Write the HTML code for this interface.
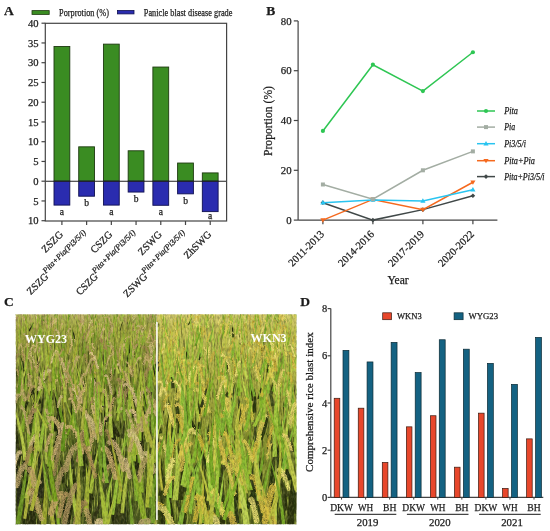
<!DOCTYPE html>
<html><head><meta charset="utf-8"><style>
html,body{margin:0;padding:0;background:#fff;width:550px;height:531px;overflow:hidden}
svg{display:block}
text{font-family:'Liberation Serif', 'Times New Roman', serif;fill:#1c1c1c;stroke:#1c1c1c;stroke-width:0.25px}
</style></head><body>
<svg width="550" height="531" viewBox="0 0 550 531">
<text x="4.0" y="14.7" font-size="13.5" font-weight="bold">A</text>
<rect x="32" y="10.6" width="17.2" height="3.8" fill="#3a8c22" stroke="#1e3a10" stroke-width="0.8"/>
<text x="59.1" y="16" font-size="10.4" textLength="49.8" lengthAdjust="spacingAndGlyphs">Porprotion (%)</text>
<rect x="117.4" y="10.5" width="16.6" height="3.4" fill="#2a2caf" stroke="#101050" stroke-width="0.8"/>
<text x="143.8" y="15.8" font-size="10.4" textLength="88.6" lengthAdjust="spacingAndGlyphs">Panicle blast disease grade</text>
<rect x="54.00" y="46.50" width="15.8" height="134.70" fill="#3a8c22" stroke="#1e3a10" stroke-width="0.9"/>
<rect x="54.00" y="181.20" width="15.8" height="23.90" fill="#2a2caf" stroke="#101050" stroke-width="0.9"/>
<text x="61.90" y="215.4" font-size="9.5" text-anchor="middle">a</text>
<line x1="61.90" y1="221.0" x2="61.90" y2="225.0" stroke="#444" stroke-width="1.2"/>
<rect x="78.72" y="146.83" width="15.8" height="34.37" fill="#3a8c22" stroke="#1e3a10" stroke-width="0.9"/>
<rect x="78.72" y="181.20" width="15.8" height="15.01" fill="#2a2caf" stroke="#101050" stroke-width="0.9"/>
<text x="86.62" y="205.8" font-size="9.5" text-anchor="middle">b</text>
<line x1="86.62" y1="221.0" x2="86.62" y2="225.0" stroke="#444" stroke-width="1.2"/>
<rect x="103.44" y="44.13" width="15.8" height="137.07" fill="#3a8c22" stroke="#1e3a10" stroke-width="0.9"/>
<rect x="103.44" y="181.20" width="15.8" height="23.90" fill="#2a2caf" stroke="#101050" stroke-width="0.9"/>
<text x="111.34" y="215.4" font-size="9.5" text-anchor="middle">a</text>
<line x1="111.34" y1="221.0" x2="111.34" y2="225.0" stroke="#444" stroke-width="1.2"/>
<rect x="128.16" y="150.78" width="15.8" height="30.41" fill="#3a8c22" stroke="#1e3a10" stroke-width="0.9"/>
<rect x="128.16" y="181.20" width="15.8" height="10.86" fill="#2a2caf" stroke="#101050" stroke-width="0.9"/>
<text x="136.06" y="201.7" font-size="9.5" text-anchor="middle">b</text>
<line x1="136.06" y1="221.0" x2="136.06" y2="225.0" stroke="#444" stroke-width="1.2"/>
<rect x="152.88" y="67.04" width="15.8" height="114.16" fill="#3a8c22" stroke="#1e3a10" stroke-width="0.9"/>
<rect x="152.88" y="181.20" width="15.8" height="24.09" fill="#2a2caf" stroke="#101050" stroke-width="0.9"/>
<text x="160.78" y="215.4" font-size="9.5" text-anchor="middle">a</text>
<line x1="160.78" y1="221.0" x2="160.78" y2="225.0" stroke="#444" stroke-width="1.2"/>
<rect x="177.60" y="163.03" width="15.8" height="18.17" fill="#3a8c22" stroke="#1e3a10" stroke-width="0.9"/>
<rect x="177.60" y="181.20" width="15.8" height="12.64" fill="#2a2caf" stroke="#101050" stroke-width="0.9"/>
<text x="185.50" y="204.2" font-size="9.5" text-anchor="middle">b</text>
<line x1="185.50" y1="221.0" x2="185.50" y2="225.0" stroke="#444" stroke-width="1.2"/>
<rect x="202.32" y="172.91" width="15.8" height="8.29" fill="#3a8c22" stroke="#1e3a10" stroke-width="0.9"/>
<rect x="202.32" y="181.20" width="15.8" height="30.42" fill="#2a2caf" stroke="#101050" stroke-width="0.9"/>
<text x="210.22" y="219.4" font-size="9.5" text-anchor="middle">a</text>
<line x1="210.22" y1="221.0" x2="210.22" y2="225.0" stroke="#444" stroke-width="1.2"/>
<line x1="45.3" y1="181.2" x2="226.6" y2="181.2" stroke="#222" stroke-width="1.1"/>
<rect x="45.3" y="23.3" width="181.3" height="197.7" fill="none" stroke="#444" stroke-width="1.2"/>
<line x1="41.5" y1="23.20" x2="45.3" y2="23.20" stroke="#444" stroke-width="1.2"/>
<text x="38.6" y="26.80" font-size="10.6" text-anchor="end">40</text>
<line x1="41.5" y1="42.95" x2="45.3" y2="42.95" stroke="#444" stroke-width="1.2"/>
<text x="38.6" y="46.55" font-size="10.6" text-anchor="end">35</text>
<line x1="41.5" y1="62.70" x2="45.3" y2="62.70" stroke="#444" stroke-width="1.2"/>
<text x="38.6" y="66.30" font-size="10.6" text-anchor="end">30</text>
<line x1="41.5" y1="82.45" x2="45.3" y2="82.45" stroke="#444" stroke-width="1.2"/>
<text x="38.6" y="86.05" font-size="10.6" text-anchor="end">25</text>
<line x1="41.5" y1="102.20" x2="45.3" y2="102.20" stroke="#444" stroke-width="1.2"/>
<text x="38.6" y="105.80" font-size="10.6" text-anchor="end">20</text>
<line x1="41.5" y1="121.95" x2="45.3" y2="121.95" stroke="#444" stroke-width="1.2"/>
<text x="38.6" y="125.55" font-size="10.6" text-anchor="end">15</text>
<line x1="41.5" y1="141.70" x2="45.3" y2="141.70" stroke="#444" stroke-width="1.2"/>
<text x="38.6" y="145.30" font-size="10.6" text-anchor="end">10</text>
<line x1="41.5" y1="161.45" x2="45.3" y2="161.45" stroke="#444" stroke-width="1.2"/>
<text x="38.6" y="165.05" font-size="10.6" text-anchor="end">5</text>
<line x1="41.5" y1="181.20" x2="45.3" y2="181.20" stroke="#444" stroke-width="1.2"/>
<text x="38.6" y="184.80" font-size="10.6" text-anchor="end">0</text>
<line x1="41.5" y1="200.95" x2="45.3" y2="200.95" stroke="#444" stroke-width="1.2"/>
<text x="38.6" y="204.55" font-size="10.6" text-anchor="end">5</text>
<line x1="41.5" y1="220.70" x2="45.3" y2="220.70" stroke="#444" stroke-width="1.2"/>
<text x="38.6" y="224.30" font-size="10.6" text-anchor="end">10</text>
<text x="63.70" y="235.0" font-size="10.3" text-anchor="end" transform="rotate(-45 63.70 235.0)">ZSZG</text>
<text x="89.82" y="236.4" font-size="10.3" text-anchor="end" transform="rotate(-45 89.82 236.4)">ZSZG<tspan font-size="8.1" font-style="italic" dy="-4.8">Pita+Pia(Pi3/5/i)</tspan></text>
<text x="113.14" y="235.0" font-size="10.3" text-anchor="end" transform="rotate(-45 113.14 235.0)">CSZG</text>
<text x="139.26" y="236.4" font-size="10.3" text-anchor="end" transform="rotate(-45 139.26 236.4)">CSZG<tspan font-size="8.1" font-style="italic" dy="-4.8">Pita+Pia(Pi3/5/i)</tspan></text>
<text x="162.58" y="235.0" font-size="10.3" text-anchor="end" transform="rotate(-45 162.58 235.0)">ZSWG</text>
<text x="188.70" y="236.4" font-size="10.3" text-anchor="end" transform="rotate(-45 188.70 236.4)">ZSWG<tspan font-size="8.1" font-style="italic" dy="-4.8">Pita+Pia(Pi3/5/i)</tspan></text>
<text x="212.02" y="235.0" font-size="10.3" text-anchor="end" transform="rotate(-45 212.02 235.0)">ZhSWG</text>
<text x="266.3" y="14.7" font-size="13.5" font-weight="bold">B</text>
<line x1="298.1" y1="20.90" x2="298.1" y2="220.1" stroke="#444" stroke-width="1.2"/>
<line x1="298.1" y1="220.1" x2="497.4" y2="220.1" stroke="#444" stroke-width="1.2"/>
<line x1="293.8" y1="220.10" x2="298.1" y2="220.10" stroke="#444" stroke-width="1.2"/>
<text x="291.6" y="223.80" font-size="10.8" text-anchor="end">0</text>
<line x1="293.8" y1="170.30" x2="298.1" y2="170.30" stroke="#444" stroke-width="1.2"/>
<text x="291.6" y="174.00" font-size="10.8" text-anchor="end">20</text>
<line x1="293.8" y1="120.50" x2="298.1" y2="120.50" stroke="#444" stroke-width="1.2"/>
<text x="291.6" y="124.20" font-size="10.8" text-anchor="end">40</text>
<line x1="293.8" y1="70.70" x2="298.1" y2="70.70" stroke="#444" stroke-width="1.2"/>
<text x="291.6" y="74.40" font-size="10.8" text-anchor="end">60</text>
<line x1="293.8" y1="20.90" x2="298.1" y2="20.90" stroke="#444" stroke-width="1.2"/>
<text x="291.6" y="24.60" font-size="10.8" text-anchor="end">80</text>
<line x1="322.9" y1="220.1" x2="322.9" y2="224.29999999999998" stroke="#444" stroke-width="1.2"/>
<text x="324.7" y="234.7" font-size="10.6" text-anchor="end" transform="rotate(-45 324.7 234.7)">2011-2013</text>
<line x1="372.9" y1="220.1" x2="372.9" y2="224.29999999999998" stroke="#444" stroke-width="1.2"/>
<text x="374.7" y="234.7" font-size="10.6" text-anchor="end" transform="rotate(-45 374.7 234.7)">2014-2016</text>
<line x1="422.9" y1="220.1" x2="422.9" y2="224.29999999999998" stroke="#444" stroke-width="1.2"/>
<text x="424.7" y="234.7" font-size="10.6" text-anchor="end" transform="rotate(-45 424.7 234.7)">2017-2019</text>
<line x1="472.9" y1="220.1" x2="472.9" y2="224.29999999999998" stroke="#444" stroke-width="1.2"/>
<text x="474.7" y="234.7" font-size="10.6" text-anchor="end" transform="rotate(-45 474.7 234.7)">2020-2022</text>
<text x="398" y="283.8" font-size="11.5" text-anchor="middle">Year</text>
<text x="0" y="0" font-size="11.6" text-anchor="middle" transform="translate(271.6 121) rotate(-90)">Proportion (%)</text>
<polyline points="322.90,202.67 372.90,220.10 422.90,209.64 472.90,195.70" fill="none" stroke="#404848" stroke-width="1.5"/>
<polygon points="322.90,200.37 325.20,202.67 322.90,204.97 320.60,202.67" fill="#404848"/>
<polygon points="372.90,217.80 375.20,220.10 372.90,222.40 370.60,220.10" fill="#404848"/>
<polygon points="422.90,207.34 425.20,209.64 422.90,211.94 420.60,209.64" fill="#404848"/>
<polygon points="472.90,193.40 475.20,195.70 472.90,198.00 470.60,195.70" fill="#404848"/>
<polyline points="322.90,220.10 372.90,199.43 422.90,209.64 472.90,182.25" fill="none" stroke="#f5691e" stroke-width="1.5"/>
<polygon points="322.90,222.70 325.50,218.28 320.30,218.28" fill="#f5691e"/>
<polygon points="372.90,202.03 375.50,197.61 370.30,197.61" fill="#f5691e"/>
<polygon points="422.90,212.24 425.50,207.82 420.30,207.82" fill="#f5691e"/>
<polygon points="472.90,184.85 475.50,180.43 470.30,180.43" fill="#f5691e"/>
<polyline points="322.90,202.67 372.90,199.93 422.90,200.93 472.90,189.72" fill="none" stroke="#29c4f0" stroke-width="1.5"/>
<polygon points="322.90,200.07 325.50,204.49 320.30,204.49" fill="#29c4f0"/>
<polygon points="372.90,197.33 375.50,201.75 370.30,201.75" fill="#29c4f0"/>
<polygon points="422.90,198.33 425.50,202.75 420.30,202.75" fill="#29c4f0"/>
<polygon points="472.90,187.12 475.50,191.54 470.30,191.54" fill="#29c4f0"/>
<polyline points="322.90,184.49 372.90,199.18 422.90,170.30 472.90,151.38" fill="none" stroke="#a3ada3" stroke-width="1.5"/>
<rect x="320.90" y="182.49" width="4.00" height="4.00" fill="#a3ada3"/>
<rect x="370.90" y="197.18" width="4.00" height="4.00" fill="#a3ada3"/>
<rect x="420.90" y="168.30" width="4.00" height="4.00" fill="#a3ada3"/>
<rect x="470.90" y="149.38" width="4.00" height="4.00" fill="#a3ada3"/>
<polyline points="322.90,130.96 372.90,64.72 422.90,91.12 472.90,52.27" fill="none" stroke="#2ec653" stroke-width="1.5"/>
<circle cx="322.90" cy="130.96" r="2.10" fill="#2ec653"/>
<circle cx="372.90" cy="64.72" r="2.10" fill="#2ec653"/>
<circle cx="422.90" cy="91.12" r="2.10" fill="#2ec653"/>
<circle cx="472.90" cy="52.27" r="2.10" fill="#2ec653"/>
<line x1="477" y1="111" x2="495" y2="111" stroke="#2ec653" stroke-width="1.5"/>
<circle cx="486.00" cy="111.00" r="2.10" fill="#2ec653"/>
<text x="504.2" y="113.9" font-size="9.5" font-style="italic" textLength="13.8" lengthAdjust="spacingAndGlyphs">Pita</text>
<line x1="477" y1="127.1" x2="495" y2="127.1" stroke="#a3ada3" stroke-width="1.5"/>
<rect x="484.00" y="125.10" width="4.00" height="4.00" fill="#a3ada3"/>
<text x="504.2" y="130.0" font-size="9.5" font-style="italic" textLength="10.9" lengthAdjust="spacingAndGlyphs">Pia</text>
<line x1="477" y1="143.7" x2="495" y2="143.7" stroke="#29c4f0" stroke-width="1.5"/>
<polygon points="486.00,141.10 488.60,145.52 483.40,145.52" fill="#29c4f0"/>
<text x="504.2" y="146.6" font-size="9.5" font-style="italic" textLength="21.8" lengthAdjust="spacingAndGlyphs">Pi3/5/i</text>
<line x1="477" y1="160.7" x2="495" y2="160.7" stroke="#f5691e" stroke-width="1.5"/>
<polygon points="486.00,163.30 488.60,158.88 483.40,158.88" fill="#f5691e"/>
<text x="504.2" y="163.6" font-size="9.5" font-style="italic" textLength="30.8" lengthAdjust="spacingAndGlyphs">Pita+Pia</text>
<line x1="477" y1="176.6" x2="495" y2="176.6" stroke="#404848" stroke-width="1.5"/>
<polygon points="486.00,174.30 488.30,176.60 486.00,178.90 483.70,176.60" fill="#404848"/>
<text x="504.2" y="179.5" font-size="9.5" font-style="italic" textLength="40.4" lengthAdjust="spacingAndGlyphs">Pita+Pi3/5/i</text>
<text x="4.0" y="306.4" font-size="13.5" font-weight="bold">C</text>
<defs>
<linearGradient id="gl" x1="0" y1="0" x2="0" y2="1"><stop offset="0" stop-color="#b8b464"/><stop offset="0.06" stop-color="#a0a440"/><stop offset="0.3" stop-color="#7a842e"/><stop offset="0.55" stop-color="#5a6822"/><stop offset="1" stop-color="#42501c"/></linearGradient>
<linearGradient id="gr" x1="0" y1="0" x2="0" y2="1"><stop offset="0" stop-color="#d8ce74"/><stop offset="0.06" stop-color="#c8c25a"/><stop offset="0.3" stop-color="#acac42"/><stop offset="0.55" stop-color="#88922e"/><stop offset="1" stop-color="#607220"/></linearGradient>
<filter id="dk" x="0" y="0" width="1" height="1" color-interpolation-filters="sRGB"><feTurbulence type="fractalNoise" baseFrequency="0.7 0.06" numOctaves="2" seed="3"/><feColorMatrix type="matrix" values="0 0 0 0 0.14  0 0 0 0 0.17  0 0 0 0 0.05  2.8 0 0 0 -1.42"/></filter>
<filter id="lt" x="0" y="0" width="1" height="1" color-interpolation-filters="sRGB"><feTurbulence type="fractalNoise" baseFrequency="0.7 0.06" numOctaves="2" seed="9"/><feColorMatrix type="matrix" values="0 0 0 0 0.76  0 0 0 0 0.8  0 0 0 0 0.32  3.2 0 0 0 -1.6"/></filter>
<filter id="gd" x="0" y="0" width="1" height="1" color-interpolation-filters="sRGB"><feTurbulence type="fractalNoise" baseFrequency="0.55 0.25" numOctaves="2" seed="31"/><feColorMatrix type="matrix" values="0 0 0 0 0.1  0 0 0 0 0.11  0 0 0 0 0.04  2.4 0 0 0 -1.0"/></filter>
<filter id="gl2" x="0" y="0" width="1" height="1" color-interpolation-filters="sRGB"><feTurbulence type="fractalNoise" baseFrequency="0.55 0.25" numOctaves="2" seed="37"/><feColorMatrix type="matrix" values="0 0 0 0 0.85  0 0 0 0 0.84  0 0 0 0 0.55  2.4 0 0 0 -1.05"/></filter>
<filter id="fz" x="-10%" y="-10%" width="120%" height="120%" color-interpolation-filters="sRGB"><feTurbulence type="fractalNoise" baseFrequency="0.9" numOctaves="1" seed="2" result="n"/><feDisplacementMap in="SourceGraphic" in2="n" scale="3" xChannelSelector="R" yChannelSelector="G" result="d"/><feTurbulence type="fractalNoise" baseFrequency="1.3" numOctaves="1" seed="7" result="m"/><feColorMatrix in="m" type="matrix" values="0 0 0 0 0  0 0 0 0 0  0 0 0 0 0  -1.0 0 0 0 1.3" result="mk"/><feComposite in="d" in2="mk" operator="in" result="dd"/><feMerge><feMergeNode in="dd"/></feMerge></filter>
<filter id="sf" x="0" y="0" width="1" height="1"><feGaussianBlur stdDeviation="0.35"/></filter>
<linearGradient id="mg" x1="0" y1="0" x2="0" y2="1"><stop offset="0" stop-color="#fff" stop-opacity="0.35"/><stop offset="0.35" stop-color="#fff" stop-opacity="1"/></linearGradient>
<mask id="mk" maskUnits="userSpaceOnUse" x="15.7" y="314.2" width="280.90000000000003" height="210.00000000000006"><rect x="15.7" y="314.2" width="280.90000000000003" height="210.00000000000006" fill="url(#mg)"/></mask>
<clipPath id="cl"><rect x="15.7" y="314.2" width="141.10000000000002" height="210.00000000000006"/></clipPath>
<clipPath id="cr"><rect x="156.8" y="314.2" width="139.8" height="210.00000000000006"/></clipPath>
</defs>
<g clip-path="url(#cl)"><g filter="url(#sf)">
<rect x="15.7" y="314.2" width="141.10000000000002" height="210.00000000000006" fill="url(#gl)"/>
<rect x="15.7" y="314.2" width="141.10000000000002" height="210.00000000000006" filter="url(#dk)" mask="url(#mk)"/>
<rect x="15.7" y="314.2" width="141.10000000000002" height="210.00000000000006" filter="url(#lt)" opacity="0.8"/>
<path d="M119.7 330.5Q120.4 324.8 123.5 320Q121.4 325.2 120.8 330.8Z" fill="#333b14"/>
<path d="M28.3 330.7Q31.2 326.4 33.8 322.1Q32.5 327.1 29.5 331.4Z" fill="#232b12"/>
<path d="M74.5 340.6Q73.1 334.6 71.8 328.6Q74.7 334.1 76.1 340.1Z" fill="#2d3116"/>
<path d="M128.7 353.2Q129.4 348.3 129.2 343.4Q131.2 348.2 130.5 353.2Z" fill="#22280d"/>
<path d="M136.8 353.4Q135.7 344.5 137.2 335.6Q137 344.5 138 353.4Z" fill="#252a0e"/>
<path d="M101.7 364.2Q102.9 358.9 103.7 353.6Q105.5 359.1 104.3 364.4Z" fill="#3a401c"/>
<path d="M126.3 366.8Q126.9 357.7 129 348.8Q128.2 357.9 127.6 366.9Z" fill="#2d3312"/>
<path d="M37.5 367.9Q36.8 361.2 36.7 354.3Q39.2 360.8 39.9 367.5Z" fill="#1f2109"/>
<path d="M152 370.1Q151.4 365 152.1 359.7Q153.8 364.7 154.5 369.8Z" fill="#242911"/>
<path d="M23.8 373.8Q22.6 364.4 20.3 355.3Q24.8 363.9 26 373.3Z" fill="#272e12"/>
<path d="M18.8 374.2Q21.4 367.4 22.9 360.4Q23 367.8 20.4 374.6Z" fill="#38401a"/>
<path d="M39.3 375.6Q39.5 364.5 36.6 353.8Q41.1 364.2 40.9 375.4Z" fill="#313913"/>
<path d="M103.9 375.6Q105.2 366 105.8 356.3Q107.3 366.1 106 375.7Z" fill="#262c11"/>
<path d="M151.3 379.7Q154.1 368.2 157.9 356.9Q156.8 368.8 154 380.3Z" fill="#21250d"/>
<path d="M95.4 385.3Q90.4 375 90.3 363.2Q92.5 374.4 97.5 384.8Z" fill="#1b2209"/>
<path d="M39.7 391.2Q40.7 383.3 41.7 375.4Q43 383.4 41.9 391.3Z" fill="#222b0e"/>
<path d="M80.4 394.2Q83 386 84.8 377.7Q84.5 386.4 82 394.5Z" fill="#2c3113"/>
<path d="M31.8 394.8Q28.5 386.9 28.8 378.1Q31.3 386.2 34.6 394Z" fill="#252a0c"/>
<path d="M127.4 399.9Q125.8 386.7 124.4 373.5Q127.9 386.4 129.4 399.6Z" fill="#353914"/>
<path d="M51.3 400.1Q49.3 393.5 49.1 386.5Q51.5 393 53.4 399.5Z" fill="#2e3712"/>
<path d="M131.9 401.5Q133.3 392.6 133.5 383.6Q135.4 392.6 134 401.5Z" fill="#23290e"/>
<path d="M38.7 404Q37.3 392.1 33.7 380.9Q39.8 391.5 41.2 403.3Z" fill="#21280d"/>
<path d="M22.5 405Q22.4 397.6 22.9 390.3Q24.2 397.6 24.4 404.9Z" fill="#242a0c"/>
<path d="M102 407.3Q102.5 393.4 104.5 379.7Q105.5 393.6 105 407.4Z" fill="#333815"/>
<path d="M23.2 409.4Q27.4 396.4 36.5 385.9Q29.7 397.6 25.5 410.6Z" fill="#242c0d"/>
<path d="M108 411.4Q110.2 399.5 117.2 389.2Q113.9 400.7 111.7 412.6Z" fill="#30360f"/>
<path d="M39.8 413.7Q43.3 398.1 43 382.3Q45.2 398.2 41.7 413.8Z" fill="#2c3215"/>
<path d="M131.9 417.6Q133.4 406 132.4 394.6Q137 405.8 135.5 417.4Z" fill="#2a2f0f"/>
<path d="M143.8 417.8Q144.9 402.4 142.5 387.3Q147.5 402.2 146.4 417.6Z" fill="#282f14"/>
<path d="M32.4 419Q31 403.1 36.7 387.8Q34.9 403.4 36.3 419.3Z" fill="#262a11"/>
<path d="M137.4 421.3Q138.4 413.2 138.8 405.2Q142.1 413.1 141.2 421.1Z" fill="#252a10"/>
<path d="M106 421.9Q103.9 412.5 105.8 402.5Q108 412 110.2 421.4Z" fill="#20250a"/>
<path d="M59.9 422.8Q55.9 407.4 53.6 391.5Q59.2 406.6 63.2 422Z" fill="#1e210a"/>
<path d="M72 425.3Q69.7 410.8 70.9 396.1Q72.6 410.6 74.9 425Z" fill="#283111"/>
<path d="M102.3 425.1Q105.7 408.9 106.3 392.5Q109 409.2 105.6 425.4Z" fill="#1e2309"/>
<path d="M60.7 425.2Q60.2 415.2 64.1 405.6Q63.3 415.5 63.7 425.5Z" fill="#293212"/>
<path d="M52.6 430.3Q57.2 415.8 59.9 400.9Q59.5 416.3 54.8 430.8Z" fill="#292f14"/>
<path d="M54.5 431.7Q51.2 417.5 49.2 403Q55.4 416.4 58.7 430.6Z" fill="#1d2508"/>
<path d="M27.8 432.4Q28.2 423 33.4 414.6Q31.5 423.7 31.1 433.2Z" fill="#323a17"/>
<path d="M14.2 435.7Q7.6 427.1 2.4 417.4Q10.4 424.9 17.1 433.5Z" fill="#333817"/>
<path d="M117.1 437.5Q110.9 427 110.6 414.4Q114.8 425.6 120.9 436.1Z" fill="#262b0d"/>
<path d="M57.7 436.7Q59.2 428.1 63.4 420.2Q62.3 428.9 60.8 437.4Z" fill="#2b3014"/>
<path d="M120.7 438.2Q122.5 429.1 124.7 419.9Q125.3 429.5 123.4 438.6Z" fill="#333916"/>
<path d="M53.2 447Q57.2 435 58.7 422.6Q61 435.5 57 447.5Z" fill="#1f260c"/>
<path d="M105.8 450.6Q110.6 440 115.5 429.4Q114.6 441.4 109.8 452Z" fill="#252a10"/>
<path d="M86.6 452Q85.2 440.6 89.3 429.5Q88.7 440.8 90.1 452.2Z" fill="#38401a"/>
<path d="M142 452.5Q141.7 432.8 135.3 414.4Q144 432.3 144.3 452Z" fill="#282c0d"/>
<path d="M113.5 452.8Q113.4 437.7 111.6 422.8Q117.2 437.3 117.3 452.4Z" fill="#23280e"/>
<path d="M30.3 454.9Q30.4 439.4 34.5 424.2Q35.5 439.7 35.4 455.1Z" fill="#252a10"/>
<path d="M19.1 456.4Q13.1 436.2 16.8 415.2Q16.1 436 22 456.1Z" fill="#313612"/>
<path d="M51 455.9Q55.8 442.3 65.5 431.3Q59.1 444 54.3 457.5Z" fill="#313611"/>
<path d="M92.1 457.9Q87.2 443.6 84.8 428.6Q90.2 442.7 95 457Z" fill="#2b3515"/>
<path d="M95.6 459.1Q102.2 444.5 105.6 429.1Q105.7 445.5 99.1 460Z" fill="#242a0b"/>
<path d="M100.6 459.9Q100 445.2 95.7 431.3Q103.1 444.5 103.7 459.2Z" fill="#363a15"/>
<path d="M11.5 460Q12.9 445.9 19.1 432.7Q16.7 446.7 15.2 460.8Z" fill="#23290c"/>
<path d="M29.4 461Q27 448.9 28.1 436.2Q31.2 448.3 33.7 460.4Z" fill="#2c3316"/>
<path d="M135.7 460.8Q142.4 440.3 142.9 419Q144.9 440.7 138.2 461.2Z" fill="#282c0e"/>
<path d="M97.7 461.5Q96.7 447.9 100 434.5Q99.6 448 100.7 461.6Z" fill="#23280d"/>
<path d="M110.5 462.1Q108.8 452.1 110.4 441.8Q112.8 451.7 114.5 461.7Z" fill="#313714"/>
<path d="M90.4 461.4Q97.6 449.7 105.9 438.6Q100.7 451.5 93.4 463.2Z" fill="#262f0e"/>
<path d="M111.4 463.5Q107.2 453.2 107.9 441.8Q110.6 452.4 114.8 462.7Z" fill="#272d0d"/>
<path d="M84.7 465.5Q83 455.1 86.7 444.8Q86.2 455.1 87.9 465.5Z" fill="#282f0e"/>
<path d="M15.5 465.8Q17.6 454.4 21.7 443.4Q21.7 455.1 19.6 466.5Z" fill="#272b10"/>
<path d="M47 467.8Q53.1 454.9 56.9 441.4Q58 456.3 51.8 469.2Z" fill="#353c17"/>
<path d="M71.7 469.2Q71.1 455.2 66.9 442Q73.9 454.5 74.5 468.6Z" fill="#2c3315"/>
<path d="M134.2 469.6Q133.8 457.8 134.2 445.9Q139.3 457.1 139.7 468.9Z" fill="#21290d"/>
<path d="M104.9 470.6Q106.6 459.5 107.8 448.5Q110.4 459.7 108.7 470.7Z" fill="#22290e"/>
<path d="M29.8 470.7Q33.1 455.4 32.5 439.9Q36.2 455.5 32.8 470.8Z" fill="#1e2409"/>
<path d="M100.9 472Q99.7 453 106.6 434.7Q104.3 453.4 105.5 472.4Z" fill="#283012"/>
<path d="M26.7 474.8Q21.6 453.9 19.9 432.2Q27 452.7 32 473.6Z" fill="#293111"/>
<path d="M110.4 475.2Q113.1 462.3 113.1 449.3Q116.9 462.4 114.2 475.3Z" fill="#2c2f12"/>
<path d="M83.6 476.6Q81.1 462.1 84.1 447.3Q86.5 461.7 89 476.2Z" fill="#21290e"/>
<path d="M18.3 477.9Q11.5 458 10.2 436.7Q14.4 457.3 21.2 477.2Z" fill="#2e3310"/>
<path d="M90.9 478.1Q90.2 462.8 92.1 447.4Q95.9 462.5 96.7 477.8Z" fill="#393f1c"/>
<path d="M135.4 481.7Q135.9 468 140.2 454.7Q140.5 468.5 140 482.2Z" fill="#252910"/>
<path d="M61.9 483.4Q62.1 470.8 59.4 458.6Q65 470.3 64.8 482.9Z" fill="#242c0d"/>
<path d="M151.9 490.1Q149.8 474.8 153.6 459.3Q155.9 474.6 158 489.8Z" fill="#293012"/>
<path d="M24.4 493.8Q21.8 470 22.3 446Q26.5 469.6 29.1 493.4Z" fill="#22280d"/>
<path d="M98.4 495.3Q108.8 476.1 120 457.2Q112.6 478 102.1 497.2Z" fill="#373f1a"/>
<path d="M37.1 498.3Q39.5 473.2 37.4 448.4Q45.8 472.8 43.4 497.9Z" fill="#282c14"/>
<path d="M91.1 500.6Q88 486.9 83.8 473.6Q91 485.9 94.2 499.5Z" fill="#24290a"/>
<path d="M27.8 501.9Q22.9 480.6 26.2 458.7Q26.1 480.4 30.9 501.7Z" fill="#1f270d"/>
<path d="M16.3 506.6Q17.9 483.3 14.9 460.4Q24.4 482.6 22.8 505.9Z" fill="#262b12"/>
<path d="M10.7 507.2Q10.7 490.3 18.1 474.6Q15.6 491 15.6 507.9Z" fill="#363c18"/>
<path d="M73.7 510Q70.8 488.4 73.8 466.4Q77.1 487.9 80 509.5Z" fill="#282e0d"/>
<path d="M11.8 512.4Q9.2 487.9 5.4 463.5Q13.7 487 16.3 511.6Z" fill="#242a0c"/>
<path d="M29.4 515.5Q28.9 496 33.8 476.7Q33.3 496.2 33.8 515.8Z" fill="#212810"/>
<path d="M75.6 518.6Q71.4 500.2 64.6 482.9Q77.8 497.5 82.1 515.9Z" fill="#242910"/>
<path d="M16.5 521.7Q20.3 496.8 27.4 472.4Q23.9 497.4 20.1 522.4Z" fill="#252d0e"/>
<path d="M87.5 525.5Q86.1 498.2 94.6 471.8Q90.3 498.6 91.7 525.9Z" fill="#272d10"/>
<path d="M31.6 525.6Q31.2 504.7 36.9 484.3Q35.3 505 35.7 526Z" fill="#1d230b"/>
<path d="M113 526.4Q109.9 508.5 109.2 490.2Q114.9 507.6 118 525.5Z" fill="#22270a"/>
<path d="M63.8 527.8Q61.5 508.7 64.7 489.5Q66.3 508.5 68.6 527.6Z" fill="#1f250c"/>
<path d="M156.8 529.2Q157.1 500.5 166.3 473Q161.2 501.1 160.9 529.8Z" fill="#21270c"/>
<path d="M119.2 531.1Q120.2 502.5 114.9 474.6Q124.1 502 123.1 530.7Z" fill="#383d19"/>
<path d="M35.2 531.9Q40 511.9 43.5 491.7Q45.6 512.7 40.9 532.6Z" fill="#333613"/>
<path d="M98.8 532.4Q102.5 513.1 107.2 494Q106.5 513.8 102.7 533Z" fill="#383d18"/>
<path d="M49.2 534.2Q51.3 518.8 51.6 503.5Q58.8 518.5 56.6 533.9Z" fill="#2d3414"/>
<path d="M120.9 535.2Q119.7 519.8 126.1 505Q126.3 520.3 127.5 535.6Z" fill="#232c13"/>
<path d="M62.6 536.7Q62.9 515.1 71.3 494.8Q67.5 515.8 67.1 537.4Z" fill="#1c2107"/>
<path d="M59.5 536.7Q68.4 508.9 70.6 480.2Q75.3 509.8 66.4 537.6Z" fill="#21250a"/>
<path d="M55.6 539.4Q65.6 516.7 70.7 492.7Q71.6 518.2 61.6 541Z" fill="#292f0e"/>
<path d="M28.6 541Q25.5 522.1 24.2 502.8Q31 521.1 34.1 540Z" fill="#2c2f10"/>
<path d="M28.2 540.5Q29.1 519.7 32.7 498.9Q36.6 519.8 35.7 540.7Z" fill="#262c11"/>
<path d="M110.3 540.9Q112.4 522.5 118.3 504.5Q119.9 523.4 117.8 541.8Z" fill="#313914"/>
<path d="M84 540.5Q91.1 516.5 103.5 494.5Q96.4 518.4 89.4 542.4Z" fill="#303612"/>
<path d="M13.2 541.8Q10.1 526.3 14.9 510.7Q15.1 526.2 18.3 541.7Z" fill="#2a2d10"/>
<path d="M24.9 542.9Q19.7 521.3 24.5 499.1Q24.1 521 29.2 542.7Z" fill="#262d0d"/>
<path d="M122.9 542.8Q119.4 521.1 125.7 499.6Q124.2 521.2 127.6 542.9Z" fill="#303915"/>
<path d="M44.9 543.6Q48.6 527.1 54.1 510.9Q54.2 528.1 50.5 544.7Z" fill="#373c18"/>
<path d="M105.5 310.4Q106.6 303.2 108.7 296.3Q107.4 303.4 106.2 310.5Z" fill="#63911d"/>
<path d="M79.7 310.6Q78.7 306.5 78.6 302.2Q79.3 306.4 80.3 310.5Z" fill="#afc342"/>
<path d="M117.4 311.1Q118.4 303.9 119.1 296.7Q119.3 304 118.3 311.2Z" fill="#78a220"/>
<path d="M66 311.2Q66.8 306.4 67.6 301.7Q67.4 306.5 66.7 311.3Z" fill="#a6b537"/>
<path d="M9.5 312.2Q10 307.2 9.5 302.3Q10.7 307.2 10.2 312.2Z" fill="#689018"/>
<path d="M25.7 312.1Q25.8 307.2 27.7 302.5Q26.9 307.3 26.7 312.3Z" fill="#90b72e"/>
<path d="M111.6 312.4Q112.1 304.7 112.8 297Q112.9 304.7 112.4 312.4Z" fill="#7da628"/>
<path d="M142.2 312.4Q143.8 305.8 144.1 299.1Q144.9 305.9 143.4 312.6Z" fill="#a3b837"/>
<path d="M65.5 312.7Q66.1 304.3 68.2 296.1Q66.7 304.4 66.1 312.8Z" fill="#6f9828"/>
<path d="M34.4 314.1Q33 308 33.8 301.8Q33.8 308 35.2 314Z" fill="#8fb02b"/>
<path d="M15.5 315Q14.3 306.1 14.5 297.1Q14.9 306.1 16.1 315Z" fill="#a1a631"/>
<path d="M75.3 315Q75.5 310.4 77.1 306Q76.2 310.5 76 315.1Z" fill="#7ca726"/>
<path d="M152.5 315.2Q152.4 308.7 154 302.3Q153.4 308.8 153.5 315.3Z" fill="#83b132"/>
<path d="M23.4 316.3Q23.6 308.1 25.7 300.2Q24.7 308.2 24.5 316.4Z" fill="#6f9821"/>
<path d="M71.7 316.4Q73.4 308.1 73.4 299.7Q74.1 308.2 72.5 316.5Z" fill="#b0c540"/>
<path d="M117.3 316.8Q117.2 310.7 118.7 304.8Q118.2 310.8 118.2 316.9Z" fill="#628d1e"/>
<path d="M68.7 317.1Q67 310.1 68.6 303Q68.2 310.1 69.8 317Z" fill="#7ba825"/>
<path d="M57.3 317.1Q57.1 308.6 58.4 300.2Q57.7 308.7 58 317.1Z" fill="#a7af37"/>
<path d="M145.3 317.6Q145.4 311.7 145.3 305.8Q146.4 311.7 146.3 317.6Z" fill="#afb444"/>
<path d="M121.5 317.7Q122.7 311.5 123 305.3Q123.7 311.6 122.5 317.7Z" fill="#9fc13e"/>
<path d="M55.9 318.1Q53.8 311.5 55 304.4Q54.9 311.3 57 318Z" fill="#86ad2e"/>
<path d="M139.1 318.4Q136.7 312.9 137.1 306.8Q137.9 312.6 140.2 318.1Z" fill="#7daa25"/>
<path d="M119.5 319.1Q118.9 314.5 118.1 309.9Q119.7 314.3 120.4 318.9Z" fill="#95b52e"/>
<path d="M119.7 319.1Q117.6 312.9 118.2 306.2Q118.8 312.7 120.9 318.9Z" fill="#aeb13b"/>
<path d="M106.5 319.7Q104.3 313.3 103.7 306.4Q105.2 313 107.4 319.4Z" fill="#729a29"/>
<path d="M13.8 319.7Q14.6 314.6 14.6 309.4Q15.6 314.6 14.8 319.8Z" fill="#a8af37"/>
<path d="M42.8 320.9Q41.9 315.2 43.1 309.4Q43 315.2 44 320.9Z" fill="#638e1d"/>
<path d="M120.5 320.9Q120.4 316.2 121.3 311.6Q121.2 316.3 121.3 320.9Z" fill="#80aa2f"/>
<path d="M157.7 321.6Q157 312.6 155.8 303.7Q158.3 312.4 159 321.4Z" fill="#96b72e"/>
<path d="M127.2 321.6Q128.1 311.5 127.9 301.4Q129.5 311.5 128.6 321.6Z" fill="#a8ab36"/>
<path d="M65.4 322.3Q65.6 316.3 65.4 310.3Q66.4 316.2 66.2 322.3Z" fill="#9dbc3b"/>
<path d="M113.3 322.2Q114 317 115.4 311.8Q115.3 317.2 114.6 322.4Z" fill="#739b1f"/>
<path d="M102.7 322.7Q102.1 315.3 103.2 307.9Q102.9 315.3 103.6 322.7Z" fill="#78a224"/>
<path d="M25 322.6Q25.9 315.8 28.9 309.5Q27 316.1 26 322.9Z" fill="#a6b833"/>
<path d="M37.3 323.9Q36.9 316.3 37.2 308.6Q38 316.2 38.5 323.8Z" fill="#95bc32"/>
<path d="M130.5 323.9Q130.4 315.2 132.2 306.6Q131.3 315.2 131.3 323.9Z" fill="#a5ba3a"/>
<path d="M58.4 324.4Q59.9 314 58.7 303.6Q60.6 314 59.1 324.4Z" fill="#a4ad37"/>
<path d="M47.2 324.7Q46.7 316.9 47.5 309.1Q48.1 316.9 48.6 324.6Z" fill="#688f1d"/>
<path d="M141.4 324.8Q144.1 315.8 144.3 306.5Q145.5 315.9 142.7 324.9Z" fill="#91b22f"/>
<path d="M95 325.3Q95.4 320.2 94.4 315.3Q96.4 320.1 96.1 325.1Z" fill="#719c29"/>
<path d="M153.4 325.7Q151.1 317.1 152.6 308.3Q152.3 317.1 154.6 325.6Z" fill="#739d2a"/>
<path d="M37.9 325.8Q38.6 317.6 36.7 309.6Q39.8 317.5 39.1 325.7Z" fill="#a8ac38"/>
<path d="M107.2 326.3Q107.2 319.6 107.1 312.9Q108.5 319.6 108.6 326.2Z" fill="#84b230"/>
<path d="M78.6 326.3Q78.9 317.1 81.4 308.2Q80.2 317.3 79.9 326.4Z" fill="#99b936"/>
<path d="M154.9 326.4Q154.2 316.9 156 307.5Q155.2 316.9 155.9 326.5Z" fill="#6f9823"/>
<path d="M48.5 326.6Q46 317.1 42.4 307.9Q46.7 316.8 49.2 326.4Z" fill="#87ac31"/>
<path d="M54.9 327Q51.9 317.7 52.7 307.9Q52.8 317.6 55.8 326.9Z" fill="#b5ca49"/>
<path d="M66.9 327.2Q68 316.5 70.6 306Q68.9 316.6 67.8 327.3Z" fill="#7caa28"/>
<path d="M105.7 327.5Q107 319.6 106.6 311.7Q108.3 319.6 107 327.5Z" fill="#a4b534"/>
<path d="M127.5 327.4Q130.8 318.6 132.2 309.4Q131.9 318.9 128.7 327.7Z" fill="#698d19"/>
<path d="M90.7 329.4Q89.8 318 93.7 307.2Q91.1 318.2 92 329.5Z" fill="#6e971f"/>
<path d="M31.9 329.5Q32 324.3 31.7 319.1Q33 324.2 33 329.4Z" fill="#749f26"/>
<path d="M105.8 329.6Q105.2 321.2 104.4 312.8Q106.1 321.1 106.8 329.5Z" fill="#8eb12a"/>
<path d="M96.9 329.7Q98 319.1 103 309.5Q98.7 319.3 97.6 329.9Z" fill="#aabd3c"/>
<path d="M79.3 330.6Q77.2 319.9 74.7 309.3Q78.1 319.7 80.2 330.3Z" fill="#a7bd3c"/>
<path d="M160.6 330.8Q159.5 322.3 162.2 314Q160.7 322.4 161.9 330.9Z" fill="#aabb38"/>
<path d="M134.5 331.4Q136.3 326.1 137.8 320.7Q137.4 326.4 135.5 331.7Z" fill="#6b9420"/>
<path d="M101 331.8Q101.3 325.9 101.9 320.1Q102.2 326 101.9 331.8Z" fill="#7ca423"/>
<path d="M52.4 332.5Q52.4 324.2 53.1 315.8Q53.7 324.2 53.7 332.5Z" fill="#abad3b"/>
<path d="M77.6 332.6Q77.2 327 77.3 321.4Q78.5 326.9 78.9 332.5Z" fill="#7ca72a"/>
<path d="M130.9 332.9Q130.2 324.2 132.8 315.7Q131.6 324.3 132.2 333Z" fill="#779e29"/>
<path d="M24.4 333Q24.8 327 24.3 321Q25.6 327 25.2 333Z" fill="#a4b836"/>
<path d="M10.6 333.1Q9.8 325.5 12.4 318.2Q11.2 325.6 12 333.2Z" fill="#608b19"/>
<path d="M133.1 333.2Q136.6 323.6 137.6 313.5Q137.5 323.8 134 333.4Z" fill="#8db62f"/>
<path d="M156.7 333.5Q157 323.9 157.4 314.3Q158.2 323.9 157.9 333.5Z" fill="#7daa2d"/>
<path d="M19.7 334.7Q19.8 328.5 18.7 322.4Q20.8 328.4 20.8 334.6Z" fill="#6b9621"/>
<path d="M79.2 334.9Q81.1 324.4 80.6 313.9Q82 324.5 80.2 335Z" fill="#97b32e"/>
<path d="M40.6 335.2Q39.2 327.3 40.9 319.4Q40.8 327.3 42.1 335.2Z" fill="#aac23a"/>
<path d="M111.3 335.6Q112.9 327 111.8 318.3Q113.7 327 112.1 335.6Z" fill="#b4c849"/>
<path d="M138.5 336.1Q139.2 326.5 137.4 317.1Q140.1 326.4 139.4 336Z" fill="#b3c244"/>
<path d="M112.9 336.9Q112.7 325 113.9 313.1Q114.3 325 114.5 336.9Z" fill="#79a124"/>
<path d="M77.4 336.8Q80 325.2 80.3 313.4Q81.4 325.4 78.7 337Z" fill="#a9ad33"/>
<path d="M91.4 337.4Q90.8 331.3 90.4 325.1Q92 331.1 92.6 337.2Z" fill="#aeb43d"/>
<path d="M91 337.4Q90.8 330.3 92 323.4Q91.6 330.4 91.8 337.4Z" fill="#b2b740"/>
<path d="M118.8 337.8Q117 327.2 118.8 316.6Q118.3 327.2 120 337.7Z" fill="#a7ba3a"/>
<path d="M145.8 338.2Q145 332 144.1 325.7Q146.5 331.7 147.3 338Z" fill="#aabd37"/>
<path d="M67.3 338.7Q65.5 330.6 67.2 322.3Q66.9 330.5 68.6 338.7Z" fill="#7fa628"/>
<path d="M62 339.1Q62.1 331.6 62.1 324.1Q63 331.6 62.9 339.1Z" fill="#92b52c"/>
<path d="M108.6 339.3Q109.7 332.5 112.8 326.1Q111.3 332.9 110.2 339.7Z" fill="#84b033"/>
<path d="M152.3 340.3Q151.8 328.9 149.3 317.8Q152.8 328.7 153.3 340.1Z" fill="#759e29"/>
<path d="M12.2 340.7Q12.1 330.3 13.4 319.9Q13.3 330.3 13.4 340.7Z" fill="#7da226"/>
<path d="M49.6 340.6Q51.7 334.4 54 328.3Q53.2 334.9 51 341.1Z" fill="#a1a832"/>
<path d="M89.8 341Q89.8 328.9 90.5 316.8Q91.3 328.9 91.3 341Z" fill="#73a221"/>
<path d="M95.3 341Q96.1 332.3 97.1 323.6Q97.1 332.4 96.2 341.1Z" fill="#afb641"/>
<path d="M85.4 341.6Q90 332 91.6 321.6Q91.5 332.4 86.9 342Z" fill="#aeb441"/>
<path d="M158.6 342.1Q157.9 331.3 157 320.5Q159.5 331.1 160.1 341.9Z" fill="#78a525"/>
<path d="M143.4 342.4Q142.8 333.1 143.4 323.8Q144.3 333.1 144.9 342.3Z" fill="#8ab033"/>
<path d="M36.9 342.5Q35.9 331.7 33.9 321.1Q37.4 331.5 38.4 342.3Z" fill="#a7bb3a"/>
<path d="M136.8 343.1Q136.8 336.4 135.6 329.8Q138.2 336.2 138.2 342.9Z" fill="#a6ab34"/>
<path d="M19.1 343.3Q17.4 329.9 20.8 316.8Q18.7 330 20.4 343.3Z" fill="#9dbd37"/>
<path d="M155.7 344.1Q155.8 336.6 156.8 329.1Q157.4 336.6 157.2 344.1Z" fill="#81a626"/>
<path d="M141.1 344.1Q141.7 334.8 143.9 325.6Q142.9 334.9 142.3 344.2Z" fill="#a7be39"/>
<path d="M122.3 344.5Q125.1 336.3 125.5 327.7Q126.6 336.5 123.7 344.8Z" fill="#9ea52e"/>
<path d="M50.5 344.9Q49.1 333.9 47.1 323.1Q50.7 333.6 52.1 344.6Z" fill="#acb239"/>
<path d="M141.9 345.2Q141.7 339.1 141.4 332.9Q143.2 338.9 143.3 345Z" fill="#8fb431"/>
<path d="M154.4 345.2Q154.2 338.9 155.9 332.7Q155.8 339 156.1 345.3Z" fill="#88af33"/>
<path d="M34.7 346Q33.8 337.3 36.5 328.9Q35.4 337.4 36.4 346.1Z" fill="#b2c844"/>
<path d="M92.9 346.4Q94.4 337.7 93.6 328.9Q95.8 337.7 94.2 346.4Z" fill="#688c1b"/>
<path d="M123.5 347Q121.9 339 122.5 330.7Q123.6 338.8 125.2 346.8Z" fill="#9dbc37"/>
<path d="M119 347Q122.2 336.5 121.9 325.6Q123.4 336.6 120.2 347.2Z" fill="#a9b23d"/>
<path d="M38.7 347.7Q39.8 339.6 42.3 331.9Q41.2 339.9 40.2 348Z" fill="#a5a633"/>
<path d="M126.2 348.7Q122.9 339.7 123.2 329.9Q124.2 339.4 127.5 348.4Z" fill="#80a82a"/>
<path d="M151.8 348.8Q152.5 338.3 155.9 328.3Q154 338.6 153.2 349.1Z" fill="#6a901f"/>
<path d="M18.5 349.1Q18.3 341.6 18.5 334Q19.9 341.5 20 349Z" fill="#b5b640"/>
<path d="M130.9 349.5Q129.3 335.1 132.2 320.8Q130.9 335.2 132.4 349.5Z" fill="#adb43a"/>
<path d="M107.8 349.6Q108.2 335.6 105.3 321.9Q109.6 335.4 109.2 349.4Z" fill="#6f9928"/>
<path d="M138.1 349.9Q137.5 335.5 142.8 321.9Q138.8 335.7 139.4 350Z" fill="#759d29"/>
<path d="M38.8 350Q38.2 335.5 42.1 321.3Q40 335.6 40.6 350.2Z" fill="#7ca326"/>
<path d="M47.4 350.2Q50.4 335.9 50.8 321.3Q51.5 336 48.5 350.3Z" fill="#739d1d"/>
<path d="M56.6 350.5Q54.7 342.3 54.6 333.7Q56.2 342 58.1 350.3Z" fill="#a5b935"/>
<path d="M134.6 352.2Q135.3 344.1 138 336.4Q136.7 344.4 136.1 352.4Z" fill="#79a525"/>
<path d="M48.1 352.5Q48.2 339.5 44.6 327.1Q49.5 339.3 49.5 352.3Z" fill="#b0c640"/>
<path d="M109.9 353.4Q109.6 345.8 112.8 338.8Q110.8 346 111.1 353.5Z" fill="#a9bb3d"/>
<path d="M66.2 353.9Q68.3 339.2 68.7 324.4Q70.3 339.3 68.2 354Z" fill="#a3a533"/>
<path d="M108.7 355.3Q108.2 348.4 109.2 341.6Q109.3 348.4 109.9 355.3Z" fill="#92b92f"/>
<path d="M61.6 355.8Q61.9 344.5 64.3 333.4Q63.1 344.6 62.8 355.9Z" fill="#88b431"/>
<path d="M62.9 356Q62.6 344.8 65.6 334Q64.1 345 64.4 356.1Z" fill="#729d1e"/>
<path d="M81.5 356.1Q82.9 347.5 85 339Q84.8 347.8 83.4 356.3Z" fill="#679018"/>
<path d="M13.1 359Q12.9 347 11.9 335Q14 346.9 14.2 358.9Z" fill="#a8bc35"/>
<path d="M97.6 359.3Q96.8 350.7 99.2 342.2Q98.2 350.7 99 359.3Z" fill="#a6ae37"/>
<path d="M79.4 359.8Q78.4 344.6 79.8 329.4Q79.5 344.6 80.6 359.8Z" fill="#7ba025"/>
<path d="M92.6 360.2Q90.8 352.5 91.1 344.4Q92.1 352.3 94 360.1Z" fill="#97b937"/>
<path d="M38 361.1Q36.3 347.3 36.4 333.4Q37.7 347.2 39.3 361Z" fill="#a7bc3d"/>
<path d="M138.8 361.1Q140.8 354.1 141.2 346.9Q142.5 354.2 140.5 361.3Z" fill="#9cbc39"/>
<path d="M13.4 361.5Q12.2 346 14.5 330.5Q14 346 15.1 361.6Z" fill="#a7b439"/>
<path d="M128.4 361.8Q126.5 347.2 129.7 332.7Q127.6 347.2 129.5 361.9Z" fill="#739a27"/>
<path d="M62.3 362.6Q57.8 347.9 51.7 333.9Q59.7 347.1 64.2 361.8Z" fill="#7ca025"/>
<path d="M130.9 362.6Q133.3 352.6 132.8 342.5Q135 352.7 132.6 362.6Z" fill="#8dae2c"/>
<path d="M103.8 362.9Q105.6 352.2 104.2 341.5Q107.6 352.1 105.8 362.8Z" fill="#6f9a28"/>
<path d="M134.8 364.7Q138.8 351.9 140.3 338.7Q140.7 352.2 136.7 365Z" fill="#7da329"/>
<path d="M47.1 365.1Q51.1 351 54.1 336.6Q52.4 351.3 48.4 365.4Z" fill="#7faa2c"/>
<path d="M55.1 367.1Q56 351.8 58.7 336.8Q57.4 352 56.5 367.2Z" fill="#b2b43f"/>
<path d="M53.7 368Q55.7 356.5 54.8 345Q57.3 356.6 55.3 368.1Z" fill="#abbe3b"/>
<path d="M103.8 368.2Q104.2 353.5 104.3 338.7Q105.6 353.5 105.2 368.2Z" fill="#91b12e"/>
<path d="M95.5 370.1Q99.9 355.5 101.2 340.5Q101.7 355.8 97.4 370.4Z" fill="#74a32b"/>
<path d="M12.7 370.3Q12.4 357.2 14.7 344.3Q14.1 357.3 14.4 370.4Z" fill="#b6c745"/>
<path d="M128.5 373Q130.5 358.2 130 343.4Q132.9 358.2 130.9 373Z" fill="#aab63c"/>
<path d="M117.6 374Q114.5 364 111.6 353.8Q116.6 363.2 119.8 373.3Z" fill="#b6c845"/>
<path d="M150.6 373.9Q153.3 356.2 154.4 338.3Q155 356.3 152.3 374.1Z" fill="#7ea424"/>
<path d="M104.2 374.3Q103.4 365.6 106.4 357.3Q104.9 365.8 105.7 374.4Z" fill="#8cb02e"/>
<path d="M123.6 375.4Q124.6 358.8 131 343.3Q125.8 359 124.7 375.6Z" fill="#709a29"/>
<path d="M46.6 376Q46.5 360.6 46.7 345.3Q48.5 360.6 48.6 375.9Z" fill="#a2c33e"/>
<path d="M73.3 376.4Q75.1 364.7 78.5 353.3Q76.8 365 75 376.7Z" fill="#afc543"/>
<path d="M121.2 376.9Q119.3 363.7 122.7 350.7Q121 363.8 122.9 376.9Z" fill="#92b32f"/>
<path d="M94.2 377.7Q94.2 362.3 91.4 347.1Q96 362 96.1 377.5Z" fill="#a4a92f"/>
<path d="M30.8 377.9Q29.2 359.6 27.4 341.2Q30.8 359.4 32.4 377.7Z" fill="#91b329"/>
<path d="M156.2 378.2Q152.2 359.5 151.2 340.3Q153.6 359.3 157.6 378Z" fill="#84b12e"/>
<path d="M62.8 378.1Q64.3 365.3 68 352.9Q66.1 365.6 64.7 378.4Z" fill="#7dab29"/>
<path d="M72.8 379.6Q75.3 360.3 72.2 341.4Q77.6 360.2 75 379.5Z" fill="#98b939"/>
<path d="M150.6 379.5Q149.6 368.1 152.9 357Q151.1 368.2 152.2 379.6Z" fill="#77a520"/>
<path d="M54.6 381.7Q51.8 367 52.2 351.9Q54.3 366.7 57.1 381.4Z" fill="#68931a"/>
<path d="M120.3 383.4Q119.7 374.2 119.6 364.9Q121 374.1 121.5 383.3Z" fill="#b0c642"/>
<path d="M100.6 384Q102.1 373.8 101 363.6Q103.6 373.7 102.1 384Z" fill="#7ca121"/>
<path d="M104.8 384Q103.6 372.9 107.3 361.9Q106.1 373 107.2 384.2Z" fill="#65921c"/>
<path d="M154.4 385.5Q150.4 370.4 150.8 354.6Q152.6 370 156.7 385.2Z" fill="#a2a92e"/>
<path d="M96.4 385.4Q97.8 376.1 97.2 366.9Q100.3 376.1 98.9 385.4Z" fill="#8cb02c"/>
<path d="M147.5 387.5Q149.9 367 149.5 346.6Q152.6 367.1 150.1 387.5Z" fill="#7fae2a"/>
<path d="M34.8 388Q33.7 367.6 36.1 347.1Q35.2 367.6 36.2 388.1Z" fill="#acb240"/>
<path d="M70.3 388Q73.4 378.2 74.3 368.1Q76 378.5 72.8 388.3Z" fill="#65901e"/>
<path d="M120.2 388.2Q120.6 374 122.2 359.8Q122.7 374 122.3 388.2Z" fill="#5f8f17"/>
<path d="M49 390.6Q48.7 381 47.4 371.5Q51.4 380.6 51.6 390.2Z" fill="#66901d"/>
<path d="M24 390.6Q26.7 374.5 26.3 358.3Q28.3 374.6 25.6 390.6Z" fill="#7fa929"/>
<path d="M49.5 391.2Q47.5 377.6 49.6 363.9Q49.6 377.6 51.6 391.1Z" fill="#b0c33e"/>
<path d="M73.6 391.1Q78.3 373 83.4 355.1Q80.9 373.6 76.2 391.7Z" fill="#adb741"/>
<path d="M100.2 392.5Q96.7 379.4 97.8 365.7Q99.4 379 102.9 392.2Z" fill="#a6b937"/>
<path d="M96.9 393.5Q96 373.8 96.6 354Q97.8 373.7 98.7 393.5Z" fill="#adb03f"/>
<path d="M74.8 394.3Q77.5 375.3 83.3 357.1Q79.6 375.8 77 394.7Z" fill="#7ca426"/>
<path d="M82.1 395.2Q79.8 378.6 75 362.6Q81.8 378.1 84.1 394.7Z" fill="#adbf3e"/>
<path d="M69.8 395.1Q69 378.4 69 361.7Q71.5 378.2 72.3 394.9Z" fill="#749f2c"/>
<path d="M48 395.1Q46.6 373.8 52.7 353.1Q48.8 374 50.2 395.3Z" fill="#a6ad38"/>
<path d="M36.8 398.7Q42.4 380 42.9 360.8Q44.6 380.3 39 398.9Z" fill="#8bb026"/>
<path d="M102.1 399.9Q102.4 385.9 99.3 372.4Q104.2 385.7 103.9 399.6Z" fill="#719b26"/>
<path d="M71.8 401.6Q71.1 380.6 69.2 359.7Q72.6 380.5 73.3 401.5Z" fill="#7ea828"/>
<path d="M27.4 401.5Q27.7 389.7 31.5 378.2Q30.1 390 29.7 401.8Z" fill="#abb93d"/>
<path d="M93.8 403.1Q92.4 391.5 89 380.5Q94.3 391 95.6 402.6Z" fill="#8bad27"/>
<path d="M128.3 403.5Q134.2 386 136.9 367.9Q136.4 386.5 130.5 404Z" fill="#a9bc38"/>
<path d="M138 404.5Q132.1 385.9 131 366.4Q134.2 385.5 140.1 404Z" fill="#638f1b"/>
<path d="M101.3 405.7Q101.3 389.3 104.7 373Q104.2 389.4 104.1 405.9Z" fill="#8bb228"/>
<path d="M21.3 406.4Q21.6 382.7 21.9 358.9Q24 382.6 23.6 406.4Z" fill="#adc640"/>
<path d="M130.3 406.8Q128.6 386.7 127.7 366.4Q131.4 386.4 133.2 406.5Z" fill="#afc244"/>
<path d="M34.4 408.1Q39.3 397.1 43.1 385.7Q40.8 397.6 35.9 408.6Z" fill="#a9bd3e"/>
<path d="M98.7 408.4Q102.9 390.5 104.1 372.2Q105 390.7 100.7 408.6Z" fill="#a8af3b"/>
<path d="M49.8 411.9Q43.6 393.9 42.5 374.8Q46 393.4 52.2 411.4Z" fill="#66911c"/>
<path d="M144.8 412.2Q142.2 391.5 136.6 371.5Q143.9 391.1 146.5 411.8Z" fill="#668b18"/>
<path d="M132.8 412.9Q130.1 399.2 130.7 385.2Q132.6 398.9 135.3 412.6Z" fill="#b1b73f"/>
<path d="M118.8 413.1Q116.9 399.1 115.8 385Q120.1 398.6 122 412.5Z" fill="#85b230"/>
<path d="M158.2 413.5Q165 395.7 168.9 377.1Q167.7 396.4 160.9 414.2Z" fill="#79a726"/>
<path d="M51.3 414.7Q45.7 389.6 37.3 365.3Q48 388.9 53.7 414Z" fill="#8ab031"/>
<path d="M127.1 415.6Q129.3 398.3 127.2 381.1Q132.6 398.1 130.5 415.5Z" fill="#9ab935"/>
<path d="M95.2 416.2Q94.3 403.6 94.2 391Q97.3 403.3 98.2 415.9Z" fill="#a4aa33"/>
<path d="M138.7 419.6Q137.8 402.3 136.6 385Q140.8 402 141.7 419.3Z" fill="#a4b535"/>
<path d="M49.7 420.3Q46.9 408.9 49 397.1Q49.9 408.7 52.6 420.1Z" fill="#6c971f"/>
<path d="M116.1 420.4Q119.8 403.1 123.4 385.7Q122.3 403.5 118.6 420.9Z" fill="#a1bb33"/>
<path d="M159 422.8Q162 399 163 375.1Q164.4 399.1 161.4 422.9Z" fill="#a3c03c"/>
<path d="M46 424.2Q50.2 402.1 52.2 379.7Q53.2 402.4 49 424.5Z" fill="#79a624"/>
<path d="M95.1 425.4Q88.5 401.1 91.4 375.9Q90.3 400.9 97 425.2Z" fill="#aeb23d"/>
<path d="M72.3 429.2Q70.8 405.1 77.4 381.6Q73.8 405.3 75.3 429.4Z" fill="#97b92f"/>
<path d="M75.7 430Q67.3 411.9 64 392.2Q69 411.4 77.4 429.4Z" fill="#a0b736"/>
<path d="M145.6 430.5Q147.3 405.3 148.7 380.1Q150.6 405.4 148.8 430.6Z" fill="#81af2b"/>
<path d="M143.4 430.9Q145.8 418.5 146.2 405.9Q147.8 418.6 145.3 431.1Z" fill="#85af30"/>
<path d="M154.2 431.3Q152.6 416 158 401.3Q155.4 416.3 157 431.5Z" fill="#628c19"/>
<path d="M20.8 432Q23.1 411.7 23.4 391.4Q26.4 411.8 24.1 432.1Z" fill="#81a728"/>
<path d="M64 433.4Q64.6 413.7 61.7 394.3Q67 413.5 66.5 433.2Z" fill="#a5a631"/>
<path d="M66.6 434.9Q74.5 412.4 74.3 388.8Q76.5 412.7 68.6 435.2Z" fill="#749f1c"/>
<path d="M109.6 437.6Q106.7 412 112.7 386.5Q110.7 412.1 113.5 437.7Z" fill="#abc142"/>
<path d="M64.5 438.7Q58.5 411.4 53.9 383.9Q62 410.6 68 437.9Z" fill="#66911b"/>
<path d="M137.8 440.5Q137 416.9 142.6 393.7Q140.8 417.1 141.6 440.7Z" fill="#97bc32"/>
<path d="M34.1 440.6Q35.3 421.3 38.2 402.2Q38.6 421.5 37.4 440.8Z" fill="#95b832"/>
<path d="M30.4 442Q34.6 418.6 35.4 395Q37.4 418.9 33.2 442.3Z" fill="#8cb12d"/>
<path d="M12.5 442.7Q13.7 424.9 14 407.2Q16.2 425 15 442.7Z" fill="#a0a934"/>
<path d="M49.6 443.2Q50.7 423.5 53.7 403.9Q54.5 423.7 53.3 443.4Z" fill="#9ab935"/>
<path d="M132.1 445.7Q127.3 420.1 129.8 394Q130.9 419.9 135.6 445.4Z" fill="#99ba36"/>
<path d="M123.9 445.8Q128.3 428.8 130.9 411.4Q130.4 429.1 126 446.2Z" fill="#81ab2d"/>
<path d="M150.7 448.1Q141.8 420.5 137.5 391.6Q145.6 419.4 154.5 447Z" fill="#afb13e"/>
<path d="M80.1 451.4Q72.5 425 72.6 397.2Q75.8 424.4 83.4 450.8Z" fill="#739d2a"/>
<path d="M37.9 451.2Q43.2 419 47.4 386.7Q46.8 419.4 41.5 451.6Z" fill="#96bb34"/>
<path d="M135.8 454.9Q134.5 439.1 140.4 423.9Q137.8 439.4 139.1 455.2Z" fill="#a5aa37"/>
<path d="M87.6 456Q82 426 84.8 395.2Q86.3 425.6 92 455.7Z" fill="#689221"/>
<path d="M23.2 460.8Q21 429.7 11.3 400.3Q24.6 428.9 26.8 460Z" fill="#b8cb45"/>
<path d="M131.6 461Q131 436.3 138.9 412.5Q135.5 436.8 136.1 461.5Z" fill="#96b42f"/>
<path d="M137.8 462.7Q136.4 447.6 137.7 432.2Q140.4 447.3 141.8 462.4Z" fill="#82a72c"/>
<path d="M127.6 462.7Q127.3 442.3 133.2 422.6Q130.6 442.7 130.9 463Z" fill="#b3b741"/>
<path d="M45.4 464.3Q42.5 439.1 47 413.9Q45.2 439.1 48.1 464.3Z" fill="#a8bc40"/>
<path d="M28 465.9Q27.4 436.8 25.7 407.7Q31.6 436.4 32.2 465.6Z" fill="#95b331"/>
<path d="M47 466.4Q49.6 450.4 51.1 434.3Q54.3 450.7 51.7 466.7Z" fill="#81a82c"/>
<path d="M11 467.4Q5.6 441.4 11.8 415.1Q9.1 441.3 14.4 467.3Z" fill="#699121"/>
<path d="M52.3 471.1Q49.5 444.2 51.7 417.1Q52.3 444.1 55.1 471Z" fill="#a7b83a"/>
<path d="M99.9 480.1Q97.8 454.2 102.6 428.6Q100.6 454.3 102.7 480.2Z" fill="#769e24"/>
<path d="M32.2 488.7Q32.4 451.9 37.2 415.4Q35.2 452.1 35 488.8Z" fill="#abb338"/>
<path d="M32.9 489.4Q30.4 465.7 31.1 441.8Q34.6 465.4 37.1 489Z" fill="#658c1a"/>
<path d="M139.4 492.8Q138.9 470.8 139.6 448.7Q143.4 470.6 143.9 492.6Z" fill="#8cb129"/>
<path d="M88.7 493.1Q92.1 466.1 100.3 439.9Q95.7 466.8 92.2 493.8Z" fill="#a4bd37"/>
<path d="M24.2 498.1Q33.4 461.7 39.6 424.8Q37.7 462.5 28.4 498.8Z" fill="#b4c746"/>
<path d="M157.8 499.3Q159.6 475.7 157.6 452.2Q163.2 475.5 161.5 499.2Z" fill="#769c2d"/>
<path d="M134.6 501.2Q133.3 465.9 126.1 431.5Q136.1 465.5 137.4 500.8Z" fill="#89ae31"/>
<path d="M155.1 500.9Q165 470 169.1 438.1Q168.5 470.7 158.6 501.6Z" fill="#7bab25"/>
<path d="M116.4 503.5Q119.9 476.3 124.6 449.2Q123.8 476.7 120.4 503.9Z" fill="#94b32e"/>
<path d="M83.6 503.7Q87.1 473 93.2 442.6Q90.5 473.4 87.1 504.2Z" fill="#a7ad36"/>
<path d="M148.7 507.8Q152.2 475.6 163.2 444.8Q156.5 476.4 153.1 508.6Z" fill="#669221"/>
<path d="M84.2 509.5Q86.5 486 85.8 462.6Q90.9 486 88.7 509.5Z" fill="#a4b535"/>
<path d="M120.6 512.9Q123.1 476 134.6 440.6Q126.6 476.6 124.1 513.5Z" fill="#aebf41"/>
<path d="M110.4 514.5Q116.2 470 127 426.2Q120.1 470.6 114.2 515.1Z" fill="#98bf38"/>
<path d="M23.2 518.4Q27.9 480.4 41.9 444.6Q31.1 481.2 26.3 519.1Z" fill="#b0b43b"/>
<path d="M150.3 523.2Q151.7 490.7 150.8 458.3Q156.4 490.6 155 523.1Z" fill="#769e2b"/>
<path d="M56.9 526.3Q55.3 495.9 46.7 466.9Q58.3 495.3 60 525.7Z" fill="#86ad2a"/>
<path d="M76.9 526.4Q67.8 489.5 69.8 451.3Q72.1 489 81.2 525.9Z" fill="#acc541"/>
<path d="M145.4 527Q132.6 494 133.8 458.2Q137 493.2 149.8 526.1Z" fill="#7eae2b"/>
<path d="M151.9 530.3Q162.9 498.7 172.4 466.7Q167.8 500.1 156.8 531.7Z" fill="#aeb23e"/>
<path d="M39.5 533.7Q43.9 502.7 46 471.5Q49.4 503 45 534.1Z" fill="#9ba62d"/>
<path d="M129.8 535.3Q131.1 511.4 127.6 487.9Q135 511.1 133.7 535Z" fill="#759e2c"/>
<path d="M73.7 538.3Q75.3 516 77.6 493.7Q79.2 516.2 77.6 538.5Z" fill="#98bc38"/>
<path d="M53.7 540.2Q47.3 515.9 52.5 490.8Q52.1 515.6 58.5 539.9Z" fill="#acb338"/>
<path d="M11.8 541.4Q22 493 28.9 444.1Q26.8 493.7 16.7 542.2Z" fill="#6b9222"/>
<g filter="url(#fz)" fill="none" stroke-linecap="round">
<path d="M13.4 303.3Q14.2 301.5 16.2 311.3" stroke="#ac8b5a" stroke-width="1.3"/>
<path d="M57.9 304.6Q57.8 303.1 56.3 311.3" stroke="#a68858" stroke-width="0.9"/>
<path d="M86.7 304.3Q84.9 302.5 82.6 312.1" stroke="#d8c08d" stroke-width="1.2"/>
<path d="M76.8 306.2Q78.6 304.9 80.5 312" stroke="#bc9c5e" stroke-width="1.4"/>
<path d="M80.9 304.6Q80.6 302.8 78.8 312.5" stroke="#ba9e67" stroke-width="1.4"/>
<path d="M13.7 307.2Q13.9 306.2 15 311.8" stroke="#c7b176" stroke-width="1.0"/>
<path d="M27.2 305.4Q26 303.8 24 312.5" stroke="#ccaa70" stroke-width="1.4"/>
<path d="M122 304.8Q121.7 303 119.8 312.9" stroke="#c2a265" stroke-width="1.0"/>
<path d="M150 309.1Q149.3 308.1 148 313.7" stroke="#9b804e" stroke-width="1.2"/>
<path d="M75.1 308.6Q76.5 307.4 78.2 313.9" stroke="#d4b67a" stroke-width="1.1"/>
<path d="M33 306.7Q35.3 304.9 37.8 314.7" stroke="#c9aa71" stroke-width="1.1"/>
<path d="M98.9 309.2Q100.1 308.1 101.6 314.1" stroke="#c19b66" stroke-width="1.4"/>
<path d="M67.3 307.8Q67.2 306.2 65.6 314.8" stroke="#d6b779" stroke-width="1.2"/>
<path d="M158.6 308.2Q158.1 306.5 156.3 315.9" stroke="#a58956" stroke-width="0.9"/>
<path d="M44.9 311.1Q45.5 310.2 46.6 315.2" stroke="#dac08b" stroke-width="1.0"/>
<path d="M73.5 309.6Q74.3 308.3 76 315.7" stroke="#b99761" stroke-width="1.3"/>
<path d="M62.3 308.9Q61.8 307.4 60 315.9" stroke="#ba9a62" stroke-width="1.1"/>
<path d="M61 310.6Q62.6 309.4 64.2 315.9" stroke="#cbae75" stroke-width="0.9"/>
<path d="M92.4 310.1Q90.5 308.7 88.5 316.3" stroke="#a0804d" stroke-width="0.9"/>
<path d="M76.3 310.4Q77.4 309.1 79.2 316.6" stroke="#a78f58" stroke-width="1.1"/>
<path d="M47.1 310.2Q45.4 308.7 43.3 316.9" stroke="#b19163" stroke-width="1.3"/>
<path d="M147.5 312.3Q146.2 311.3 144.7 317" stroke="#ceaf76" stroke-width="1.1"/>
<path d="M154.4 313.2Q155.6 312.3 156.9 317.2" stroke="#ac8d59" stroke-width="1.3"/>
<path d="M33.5 311.6Q34.9 310.3 36.8 317.8" stroke="#dec391" stroke-width="1.0"/>
<path d="M129.5 310.2Q130.5 308.4 132.8 318.6" stroke="#ddc590" stroke-width="1.1"/>
<path d="M39.2 310.8Q41.4 309.1 43.9 318.6" stroke="#b9a168" stroke-width="1.3"/>
<path d="M77.5 311.4Q75.9 309.7 73.7 319.2" stroke="#bea769" stroke-width="1.1"/>
<path d="M120 313.8Q119.9 312.6 118.6 319" stroke="#c5a66c" stroke-width="1.1"/>
<path d="M51.1 311.6Q50.7 309.7 48.8 319.9" stroke="#c6a771" stroke-width="0.9"/>
<path d="M152.6 312.6Q151.4 311 149.4 319.7" stroke="#a28752" stroke-width="1.4"/>
<path d="M19.8 312.5Q21.4 310.8 23.7 320.1" stroke="#ceae77" stroke-width="1.3"/>
<path d="M104.9 314Q104.4 312.6 102.9 320.2" stroke="#d0b97d" stroke-width="1.2"/>
<path d="M136.1 315.9Q134.7 314.9 133.4 320" stroke="#dec493" stroke-width="0.8"/>
<path d="M85.7 312.5Q88.1 310.6 90.8 321" stroke="#d6ba82" stroke-width="1.0"/>
<path d="M93.8 313.2Q94.3 311.5 96.1 320.9" stroke="#d0b776" stroke-width="1.2"/>
<path d="M50.3 315.1Q52.1 313.9 53.9 320.7" stroke="#ccb77c" stroke-width="1.4"/>
<path d="M149.7 314Q150.7 312.4 152.6 321.2" stroke="#ba9a60" stroke-width="1.1"/>
<path d="M81.4 313.9Q82.5 312.2 84.6 321.6" stroke="#c9a96d" stroke-width="0.9"/>
<path d="M27.9 313Q29.1 311 31.4 321.9" stroke="#b69b61" stroke-width="1.4"/>
<path d="M102 314.2Q103.6 312.3 106.1 322.7" stroke="#c7ad70" stroke-width="1.0"/>
<path d="M123.2 317.1Q124.5 315.9 126.1 322.3" stroke="#a58556" stroke-width="1.2"/>
<path d="M129.5 316.4Q129.9 315.1 131.4 322.7" stroke="#a8895b" stroke-width="0.9"/>
<path d="M78.4 318.1Q79.5 317.2 80.8 322.6" stroke="#c8a56d" stroke-width="1.5"/>
<path d="M17.6 317.5Q16.4 316.4 14.8 322.8" stroke="#a88a5a" stroke-width="1.5"/>
<path d="M80.6 315.2Q81.5 313.3 83.6 323.6" stroke="#d1bb82" stroke-width="1.5"/>
<path d="M57.8 318.3Q56.9 317.2 55.5 323" stroke="#d3b67b" stroke-width="1.4"/>
<path d="M78.2 315.7Q80 313.8 82.6 324.6" stroke="#c3a76d" stroke-width="1.5"/>
<path d="M106.7 317.3Q109 315.3 111.7 326.4" stroke="#ccad72" stroke-width="1.6"/>
<path d="M101.7 318.5Q102 316.8 104 326.6" stroke="#c0a56b" stroke-width="0.9"/>
<path d="M55.3 319Q54.1 317.2 51.9 326.9" stroke="#d2b27a" stroke-width="1.4"/>
<path d="M17.5 317.9Q19.9 315.8 22.8 327.5" stroke="#ab8f60" stroke-width="0.9"/>
<path d="M45.3 320.3Q45.3 318.6 47.1 328.2" stroke="#baa065" stroke-width="1.6"/>
<path d="M86 319Q84.1 316.9 81.3 328.8" stroke="#d1b177" stroke-width="0.9"/>
<path d="M92.8 320.5Q91 318.6 88.5 328.7" stroke="#e3c98e" stroke-width="1.2"/>
<path d="M51.8 321.5Q51.4 319.9 49.7 328.6" stroke="#c7a973" stroke-width="1.5"/>
<path d="M42.7 321.7Q42.6 320.2 41 328.8" stroke="#9f8651" stroke-width="1.2"/>
<path d="M51.6 322.6Q51.2 321.2 49.7 329" stroke="#caaf75" stroke-width="1.0"/>
<path d="M62.6 322.8Q62 321.4 60.4 329.1" stroke="#d4b374" stroke-width="1.1"/>
<path d="M94.5 321.6Q92.8 319.8 90.4 329.7" stroke="#cdb178" stroke-width="1.6"/>
<path d="M17 323.9Q17.8 322.7 19.2 329.1" stroke="#d2b275" stroke-width="0.9"/>
<path d="M151.6 324.1Q151.2 322.9 149.9 329.5" stroke="#b1945c" stroke-width="1.7"/>
<path d="M102.3 323Q102.1 321.5 100.6 329.9" stroke="#d5b777" stroke-width="1.1"/>
<path d="M135 322.7Q134.4 321 132.5 330.3" stroke="#bb9a61" stroke-width="1.6"/>
<path d="M85.6 321.5Q82.5 319.4 79.4 330.8" stroke="#c6ab6e" stroke-width="0.9"/>
<path d="M141.1 325.7Q142 324.5 143.4 330.9" stroke="#c0a063" stroke-width="1.4"/>
<path d="M115.1 322.9Q114.2 320.9 111.9 332" stroke="#c7aa73" stroke-width="1.6"/>
<path d="M145.2 326.1Q144.3 325 142.9 331.1" stroke="#d4bb85" stroke-width="1.1"/>
<path d="M99.4 324.1Q98.4 322.4 96.4 331.7" stroke="#caab73" stroke-width="1.5"/>
<path d="M39.6 323.9Q37.5 322.1 35 332.1" stroke="#a0804c" stroke-width="1.4"/>
<path d="M40.1 322.8Q37.8 320.6 34.9 332.9" stroke="#c4a76e" stroke-width="1.3"/>
<path d="M78.1 324Q78.9 322 81.2 333.1" stroke="#c4a968" stroke-width="1.6"/>
<path d="M41.4 324.2Q39.6 322.2 37.1 333.1" stroke="#a98959" stroke-width="1.6"/>
<path d="M153.5 323.8Q155.8 321.7 158.7 333.4" stroke="#c6ab6d" stroke-width="1.6"/>
<path d="M154.4 325.2Q154.3 323.3 152.4 333.9" stroke="#b2935a" stroke-width="1.0"/>
<path d="M92.6 324.7Q90.8 322.5 88.1 334.3" stroke="#a78957" stroke-width="1.8"/>
<path d="M137.8 326Q140 324.1 142.7 334.5" stroke="#d5be89" stroke-width="1.5"/>
<path d="M103.7 328.3Q103.2 326.7 101.4 335.6" stroke="#b7975c" stroke-width="1.1"/>
<path d="M16 327.7Q13.2 325.7 10.3 336.2" stroke="#b09356" stroke-width="1.0"/>
<path d="M112.4 327.7Q111.5 325.8 109.2 336.5" stroke="#d4ba83" stroke-width="1.5"/>
<path d="M55.5 329.7Q57.4 328.3 59.5 336.2" stroke="#d6c087" stroke-width="1.9"/>
<path d="M154.7 327.7Q155 325.5 157.2 337.2" stroke="#baa268" stroke-width="1.4"/>
<path d="M140.4 328.2Q138.9 326.1 136.4 337.3" stroke="#b69459" stroke-width="1.6"/>
<path d="M34 329Q34.9 327.1 37.2 337.6" stroke="#a38755" stroke-width="1.9"/>
<path d="M134.2 329.9Q136.1 328.2 138.4 337.5" stroke="#cdb573" stroke-width="1.5"/>
<path d="M70.6 329Q68.6 327 65.9 338.1" stroke="#ccb578" stroke-width="1.7"/>
<path d="M55.4 327.9Q55.3 325.5 52.8 338.8" stroke="#a78e57" stroke-width="1.2"/>
<path d="M86.5 330.2Q85.4 328.3 83.2 338.5" stroke="#a28654" stroke-width="1.5"/>
<path d="M104.5 328.7Q103.1 326.4 100.3 339.2" stroke="#d4b483" stroke-width="1.7"/>
<path d="M140 329.5Q138.3 327.2 135.5 340" stroke="#bfa162" stroke-width="1.5"/>
<path d="M150.2 330.3Q150 328.2 147.8 340" stroke="#d8ba79" stroke-width="1.4"/>
<path d="M110.7 330.5Q110.7 328.3 108.4 340.5" stroke="#af915e" stroke-width="1.7"/>
<path d="M91 330.4Q89.1 328 86.1 340.9" stroke="#c8a76e" stroke-width="1.6"/>
<path d="M142.1 335.4Q141.3 334.3 139.9 340.4" stroke="#ad8b5b" stroke-width="2.0"/>
<path d="M155.5 332.2Q155.4 330.2 153.4 341.4" stroke="#c19d62" stroke-width="1.3"/>
<path d="M93.1 333.8Q91.4 331.8 88.8 342.6" stroke="#d2b574" stroke-width="1.3"/>
<path d="M34 333.7Q34.3 331.6 36.5 343.3" stroke="#c9ad70" stroke-width="1.3"/>
<path d="M67.7 334.4Q69.7 332.1 72.6 344.6" stroke="#dec38f" stroke-width="1.5"/>
<path d="M24.2 334.3Q25.5 331.7 28.6 346.2" stroke="#d8bc8b" stroke-width="1.6"/>
<path d="M150.4 336.1Q151.3 333.8 153.8 346.2" stroke="#be9b63" stroke-width="1.9"/>
<path d="M108.1 337Q106.3 334.9 103.6 346.4" stroke="#cdb075" stroke-width="1.4"/>
<path d="M135.8 339.4Q137.9 337.9 140.2 346.5" stroke="#bea56c" stroke-width="1.5"/>
<path d="M28.8 339.8Q28.3 338.1 26.4 347.3" stroke="#c8a66a" stroke-width="2.1"/>
<path d="M99 337.9Q100.7 335.4 103.7 349.1" stroke="#a18150" stroke-width="1.4"/>
<path d="M43.2 336.9Q47.1 334.1 51.1 349.4" stroke="#c3a771" stroke-width="1.5"/>
<path d="M154.1 340.5Q156.5 338.8 159.1 348.4" stroke="#d5b77e" stroke-width="1.2"/>
<path d="M129.4 337.1Q126.4 334.4 122.6 349.6" stroke="#d3b379" stroke-width="1.6"/>
<path d="M100.6 340.5Q103.2 338.7 106 348.9" stroke="#a17e4e" stroke-width="2.2"/>
<path d="M130.1 341.8Q131.9 340.2 134.1 349" stroke="#c2a166" stroke-width="1.2"/>
<path d="M151 342.6Q152 341.2 153.7 348.9" stroke="#d6bc80" stroke-width="1.7"/>
<path d="M157.9 340.4Q160.6 338.2 163.6 350.2" stroke="#9c7e50" stroke-width="1.6"/>
<path d="M92.1 343.7Q92.1 342.4 93.5 349.6" stroke="#d3b478" stroke-width="1.6"/>
<path d="M147.1 342.2Q149.6 340.4 152.2 350.2" stroke="#c8ad74" stroke-width="1.4"/>
<path d="M45.7 339.1Q42.6 336.4 38.9 351.3" stroke="#bda46c" stroke-width="1.9"/>
<path d="M22.5 343.8Q20.4 342.1 18.1 351.1" stroke="#c2a96f" stroke-width="1.3"/>
<path d="M38.7 342Q37.6 339.8 35 352" stroke="#c8ae76" stroke-width="2.1"/>
<path d="M123.2 343.8Q121.5 341.8 118.9 352.6" stroke="#c0a56b" stroke-width="1.7"/>
<path d="M121.7 345.6Q122.7 344 124.6 352.5" stroke="#c2ac6f" stroke-width="1.3"/>
<path d="M75.5 341Q72.9 338.1 69.2 353.9" stroke="#d1b373" stroke-width="1.6"/>
<path d="M152.9 340.7Q154.8 337.8 158.4 354" stroke="#af935d" stroke-width="1.8"/>
<path d="M20.8 345.7Q21.3 344 23 352.9" stroke="#c9ad73" stroke-width="1.3"/>
<path d="M109.3 342.9Q110.8 340.4 113.8 354.1" stroke="#c2ab73" stroke-width="1.6"/>
<path d="M109 346.3Q111.2 344.8 113.5 353.2" stroke="#c5ab6e" stroke-width="1.8"/>
<path d="M149.6 346.5Q149.9 345 151.5 353.2" stroke="#d3ba83" stroke-width="2.2"/>
<path d="M149.3 346.2Q150 344.2 152.2 355.5" stroke="#d3b983" stroke-width="2.2"/>
<path d="M35.2 345.7Q31.8 342.9 27.9 358.4" stroke="#d6b980" stroke-width="2.0"/>
<path d="M63.9 349.3Q61.9 347.4 59.4 357.4" stroke="#b5945c" stroke-width="1.5"/>
<path d="M139.5 344.8Q135.5 341.7 131.1 358.7" stroke="#b89863" stroke-width="2.3"/>
<path d="M86.4 347.1Q88.8 344.2 92.5 360.2" stroke="#a68752" stroke-width="2.3"/>
<path d="M142.8 347.5Q146.3 344.5 150.5 361" stroke="#9d8150" stroke-width="2.1"/>
<path d="M74.4 350.1Q75.1 347.8 77.5 360.4" stroke="#d0af73" stroke-width="1.9"/>
<path d="M57.4 354Q58.2 352.6 59.9 360.3" stroke="#c4a86c" stroke-width="2.4"/>
<path d="M113.4 349.6Q116.5 346.6 120.4 362.9" stroke="#a68954" stroke-width="2.2"/>
<path d="M57.8 351.7Q54.7 349.3 51.3 362.4" stroke="#dec58c" stroke-width="2.0"/>
<path d="M157.6 351.1Q157.3 348.3 154.5 363.4" stroke="#c7aa6b" stroke-width="1.5"/>
<path d="M84.2 355.2Q84.8 353.6 86.6 362.6" stroke="#a98b54" stroke-width="1.9"/>
<path d="M122.3 354.3Q121.4 352.3 119.1 363.3" stroke="#bea467" stroke-width="1.7"/>
<path d="M131.7 351.6Q131.7 348.8 134.6 364.3" stroke="#c4ae74" stroke-width="1.5"/>
<path d="M19.1 354Q17.5 351.8 14.7 364.1" stroke="#9b814b" stroke-width="1.7"/>
<path d="M146.4 356.2Q145.9 354.3 143.9 364.8" stroke="#ccaf75" stroke-width="2.0"/>
<path d="M152.1 357.5Q151.3 355.6 149.2 365.9" stroke="#d0b784" stroke-width="1.9"/>
<path d="M28.3 353.3Q31.5 350.2 35.6 367.2" stroke="#cbb677" stroke-width="1.5"/>
<path d="M22.5 354.1Q23.1 351.1 26.3 367.7" stroke="#ba9a5d" stroke-width="2.6"/>
<path d="M145.3 354.5Q147.1 351.6 150.6 367.7" stroke="#c5a76b" stroke-width="2.1"/>
<path d="M90.2 353.7Q93.4 350.5 97.7 368.2" stroke="#e4c593" stroke-width="2.3"/>
<path d="M27.5 354.5Q28.5 351.3 32 368.9" stroke="#bea169" stroke-width="1.8"/>
<path d="M112.4 354.9Q109.9 351.7 105.8 369.1" stroke="#ceb379" stroke-width="1.5"/>
<path d="M41.3 356.6Q39.8 353.7 36.3 369.6" stroke="#ceaf72" stroke-width="1.5"/>
<path d="M146.8 359.9Q148.9 357.8 151.8 369.4" stroke="#caaa6f" stroke-width="2.5"/>
<path d="M140.6 358.2Q137.3 355.4 133.4 370.7" stroke="#cfae76" stroke-width="2.1"/>
<path d="M79 357.2Q76.5 354.1 72.7 371" stroke="#bfa56b" stroke-width="2.6"/>
<path d="M69.7 360.8Q69.6 358.7 67.5 370.2" stroke="#bfa268" stroke-width="1.9"/>
<path d="M117.7 364.4Q119.3 362.9 121.4 371.4" stroke="#d1b480" stroke-width="2.3"/>
<path d="M118 361.1Q114.5 358.5 110.8 372.6" stroke="#d4b880" stroke-width="1.8"/>
<path d="M60.6 359.1Q61.9 355.9 65.5 373.4" stroke="#d2b17b" stroke-width="2.7"/>
<path d="M93.2 359.4Q90.4 356.3 86.3 373.4" stroke="#cdb577" stroke-width="2.0"/>
<path d="M39.2 364.5Q38.8 362.7 36.9 372.5" stroke="#bb9c61" stroke-width="1.9"/>
<path d="M94.1 363.9Q92.8 361.8 90.2 373.3" stroke="#a38354" stroke-width="2.0"/>
<path d="M129.8 367.2Q130.1 365.4 132 375.6" stroke="#a58252" stroke-width="2.9"/>
<path d="M125.5 362.6Q128.3 359.3 132.5 377.4" stroke="#d1b376" stroke-width="1.7"/>
<path d="M62 363.6Q62.7 360 66.5 379.6" stroke="#d2b980" stroke-width="3.0"/>
<path d="M48.9 370.9Q46.6 369.2 44 378.8" stroke="#ceb980" stroke-width="2.3"/>
<path d="M114.7 368.1Q113.5 365.5 110.6 379.9" stroke="#c5a167" stroke-width="1.9"/>
<path d="M45.8 366.6Q46.9 363.5 50.3 380.5" stroke="#a48552" stroke-width="2.3"/>
<path d="M48.1 370.6Q46.7 368.2 43.8 381.5" stroke="#d7c18b" stroke-width="1.8"/>
<path d="M12.2 366.6Q9.4 362.8 4.7 383.6" stroke="#e0cc92" stroke-width="2.0"/>
<path d="M95 372.7Q93.7 370.5 91 382.9" stroke="#c6a569" stroke-width="1.7"/>
<path d="M149.2 369.2Q147.4 365.8 143.3 384.5" stroke="#a68a53" stroke-width="2.9"/>
<path d="M84.7 374.4Q82.8 372.2 80 384.2" stroke="#c8ab6e" stroke-width="2.3"/>
<path d="M57.9 371.8Q59.3 368.6 63 386.3" stroke="#b99d62" stroke-width="2.2"/>
<path d="M28 374.7Q28.6 372.3 31.2 385.5" stroke="#c6aa6e" stroke-width="2.3"/>
<path d="M15.7 370.1Q17.8 366.2 22.3 387.5" stroke="#ba9b60" stroke-width="2.0"/>
<path d="M31.2 376.6Q30.6 374.5 28.4 385.7" stroke="#bba366" stroke-width="2.7"/>
<path d="M123.2 372.4Q125.2 369.1 129.1 387" stroke="#c8ab6e" stroke-width="2.6"/>
<path d="M49.9 371.1Q44.6 367 38.7 389.6" stroke="#ddc48f" stroke-width="3.2"/>
<path d="M37.6 377.6Q39.1 375.4 41.9 387.9" stroke="#ceb175" stroke-width="2.6"/>
<path d="M91.6 379Q93.4 377.2 95.9 387.5" stroke="#e0c88f" stroke-width="2.8"/>
<path d="M63.8 371.9Q68.3 368 73.8 389.8" stroke="#c29d65" stroke-width="2.2"/>
<path d="M68.4 378.9Q65.3 376.6 62 389.1" stroke="#b49157" stroke-width="1.8"/>
<path d="M57.4 380.2Q55.9 378.1 53.4 389.6" stroke="#ceb06f" stroke-width="1.8"/>
<path d="M82.4 382Q83 380.1 85.1 390.9" stroke="#d6b97b" stroke-width="2.4"/>
<path d="M105.2 375.8Q107.1 371.7 111.8 394.3" stroke="#d6bb89" stroke-width="2.1"/>
<path d="M67.2 382.5Q66.7 380.2 64.3 392.9" stroke="#c8a669" stroke-width="2.0"/>
<path d="M125.9 377.3Q123.6 373 118.5 396.7" stroke="#c9a770" stroke-width="3.2"/>
<path d="M117.9 379.7Q119.2 375.6 123.7 398" stroke="#a48753" stroke-width="3.1"/>
<path d="M75.4 386.4Q77.7 384.2 80.6 396.5" stroke="#cbb276" stroke-width="2.2"/>
<path d="M145.5 388.4Q148 386.3 150.8 397.4" stroke="#a78655" stroke-width="2.1"/>
<path d="M34.2 386.8Q31.3 384.1 27.7 398.8" stroke="#af925b" stroke-width="2.9"/>
<path d="M18.3 386.2Q20.9 383.2 24.7 399.8" stroke="#bfa669" stroke-width="3.4"/>
<path d="M99.4 383.7Q96.3 379.7 91.3 401.6" stroke="#a18853" stroke-width="3.1"/>
<path d="M74.4 385.4Q77.1 381.7 81.7 402.2" stroke="#d0b37b" stroke-width="3.0"/>
<path d="M93.5 387.9Q95.4 384.4 99.5 403.4" stroke="#b2955a" stroke-width="2.6"/>
<path d="M71.8 389.6Q75 386.5 79.2 403.5" stroke="#d8bd8a" stroke-width="2.5"/>
<path d="M127.5 390.3Q126.7 387.3 123.5 403.7" stroke="#a98a58" stroke-width="3.0"/>
<path d="M92.1 390.7Q92.4 387.8 95.4 403.8" stroke="#c6a269" stroke-width="2.3"/>
<path d="M69.7 388.5Q69.7 385 73.3 404.5" stroke="#c39e67" stroke-width="2.9"/>
<path d="M124.4 385Q130.5 380.4 137.2 405.8" stroke="#d8bc8b" stroke-width="3.4"/>
<path d="M146.3 390.3Q142.1 387.1 137.6 404.4" stroke="#dbbf8a" stroke-width="3.3"/>
<path d="M103.9 391.2Q104.8 387.7 108.6 406.7" stroke="#bca365" stroke-width="3.5"/>
<path d="M61.6 396.6Q60.6 394.4 58 406.8" stroke="#d0b981" stroke-width="2.5"/>
<path d="M83.3 391.1Q82.3 387.2 78 409" stroke="#d0af72" stroke-width="2.7"/>
<path d="M95.1 399.5Q98 397.4 101.2 409.3" stroke="#e0c690" stroke-width="3.3"/>
<path d="M22.5 393.6Q17.5 389.8 12 411.1" stroke="#c2aa71" stroke-width="3.7"/>
<path d="M114.6 398.6Q113.4 395.8 110.2 411.1" stroke="#c09f65" stroke-width="2.7"/>
<path d="M69.5 399Q72.2 396.2 76 412" stroke="#d5b67b" stroke-width="2.5"/>
<path d="M147.2 396.8Q147.7 393.2 151.5 413.1" stroke="#cbb679" stroke-width="2.4"/>
<path d="M97.8 399.7Q96.2 396.8 92.8 412.9" stroke="#d5ba84" stroke-width="2.8"/>
<path d="M152.9 400.3Q154.2 397.1 157.9 414.7" stroke="#c2a568" stroke-width="2.7"/>
<path d="M37.4 405.8Q33.4 402.3 28.6 421.5" stroke="#c9a76a" stroke-width="2.6"/>
<path d="M35.6 410.6Q32.8 408 29.3 422.1" stroke="#ac8b5c" stroke-width="4.0"/>
<path d="M130.6 411Q134 408 138 424" stroke="#ddbf8d" stroke-width="3.6"/>
<path d="M46.1 410.1Q46.2 405.9 50.4 429.1" stroke="#c7ab74" stroke-width="2.7"/>
<path d="M155.7 406.7Q149.3 401.4 141.9 430.1" stroke="#d2b279" stroke-width="4.2"/>
<path d="M110.6 415.3Q106.3 412.2 101.8 429.2" stroke="#d6b67a" stroke-width="3.1"/>
<path d="M152.3 412.2Q156 407.8 161.6 432.2" stroke="#d2b884" stroke-width="2.6"/>
<path d="M92.7 407.9Q94.6 402.2 100.9 433.5" stroke="#ccb176" stroke-width="4.4"/>
<path d="M21.4 408.1Q22.8 402.4 29 433.7" stroke="#c6ab75" stroke-width="2.6"/>
<path d="M120.3 409.2Q127.1 403.7 134.9 434.3" stroke="#c3ae73" stroke-width="2.6"/>
<path d="M11.9 416Q8.5 412.3 3.6 432.7" stroke="#d5b47d" stroke-width="2.5"/>
<path d="M81.6 409.6Q85.2 403.9 92.2 435.3" stroke="#c6a96b" stroke-width="3.7"/>
<path d="M143 418.8Q140.1 415.4 135.8 434" stroke="#b1945d" stroke-width="3.8"/>
<path d="M84.5 416.6Q90.2 411.9 96.7 437.6" stroke="#dac18b" stroke-width="4.5"/>
<path d="M49.7 418.9Q56.2 414.5 62.7 438.7" stroke="#d0b274" stroke-width="4.2"/>
<path d="M105.6 431Q107.4 428.2 110.9 443.6" stroke="#a0834e" stroke-width="3.1"/>
<path d="M61.2 430.4Q61.2 427.1 64.6 445.3" stroke="#c9ac75" stroke-width="2.8"/>
<path d="M86.3 430.5Q82.2 426.8 77.2 446.9" stroke="#bea469" stroke-width="2.9"/>
<path d="M146.5 422.8Q138.5 416.7 129.7 450.5" stroke="#c1a56a" stroke-width="3.8"/>
<path d="M38.4 435.4Q34.2 432.5 30 448.1" stroke="#d7bc85" stroke-width="3.7"/>
<path d="M95.8 432.6Q93.5 428.7 88.9 450" stroke="#d1b175" stroke-width="4.5"/>
<path d="M63.2 425.5Q62.7 419.5 56.4 452.7" stroke="#d7b986" stroke-width="4.9"/>
<path d="M51.5 435.1Q49.9 431.6 45.9 450.6" stroke="#ccad72" stroke-width="3.2"/>
<path d="M66.6 427.4Q74.4 421.7 82.7 452.9" stroke="#d4b376" stroke-width="3.2"/>
<path d="M128.2 430.9Q134.2 425.4 141.7 455.6" stroke="#c9b278" stroke-width="3.0"/>
<path d="M158.2 430.5Q158.9 424.2 165.4 459" stroke="#cfba82" stroke-width="4.9"/>
<path d="M65 432.6Q59.9 426.7 52.3 459.2" stroke="#caac6f" stroke-width="2.9"/>
<path d="M129.7 434.9Q135.4 429.3 142.9 460.3" stroke="#dec68e" stroke-width="4.8"/>
<path d="M83.4 434.8Q83.3 429 77.5 460.8" stroke="#a88558" stroke-width="3.3"/>
<path d="M32.7 448.3Q30.2 444.1 25.2 467.1" stroke="#a1844e" stroke-width="4.4"/>
<path d="M109.3 442.7Q115.6 436.8 123.7 469.6" stroke="#cdaf79" stroke-width="5.2"/>
<path d="M20.3 452.7Q18 449.3 13.8 468.2" stroke="#e2ca92" stroke-width="3.8"/>
<path d="M75.7 448.6Q71.7 443.8 65.6 470.1" stroke="#bca46b" stroke-width="5.1"/>
<path d="M63.7 442Q61.8 434.8 54 474.2" stroke="#9b8351" stroke-width="3.9"/>
<path d="M143.8 453.8Q148.5 449.8 154.1 471.8" stroke="#d1bd83" stroke-width="4.6"/>
<path d="M77.7 444.7Q85.6 437.8 95.1 475.9" stroke="#b59259" stroke-width="4.0"/>
<path d="M103.1 449.1Q107.5 442.7 115.4 477.8" stroke="#cbab6d" stroke-width="5.0"/>
<path d="M125 460.2Q125.5 456.5 129.5 477.2" stroke="#d2b885" stroke-width="4.3"/>
<path d="M146 460.5Q143.8 456.2 138.7 480.1" stroke="#bba265" stroke-width="5.4"/>
<path d="M111.9 465.6Q108.1 462.4 103.6 480.2" stroke="#bd9d63" stroke-width="3.8"/>
<path d="M24.9 466.6Q21.9 462.4 16.7 485.6" stroke="#bea56d" stroke-width="5.4"/>
<path d="M29.8 469.9Q30.9 466.5 34.6 485.1" stroke="#c3a069" stroke-width="5.7"/>
<path d="M65.7 469.4Q62 464.7 56 490.7" stroke="#ae9461" stroke-width="5.2"/>
<path d="M39.9 482.5Q36.6 477.9 30.9 502.9" stroke="#caaf73" stroke-width="4.0"/>
<path d="M31.1 491.5Q33.5 487.2 38.5 510.6" stroke="#b49157" stroke-width="6.3"/>
<path d="M63.1 494.9Q57.2 490.8 51.1 513.3" stroke="#c3a364" stroke-width="6.4"/>
<path d="M66.2 494.4Q64.5 489.6 59.2 515.7" stroke="#b7975d" stroke-width="4.9"/>
<path d="M29.6 493.4Q34.1 487.7 41.3 518.7" stroke="#c7ac6b" stroke-width="4.9"/>
<path d="M78 486.6Q73.8 478.7 64.5 522.2" stroke="#aa905d" stroke-width="5.6"/>
<path d="M85 503.7Q81.2 496.1 72.4 537.8" stroke="#9e8050" stroke-width="5.3"/>
<path d="M86.1 511.7Q86.2 504.3 93.7 545.4" stroke="#bfa565" stroke-width="5.2"/>
<path d="M147.6 521.3Q140.7 516 133.2 544.9" stroke="#baa66c" stroke-width="6.6"/>
<path d="M97.9 522.5Q103 516.5 110.7 549.4" stroke="#ddc58f" stroke-width="7.1"/>
</g>
<path d="M55 310.4Q53.5 304.7 54.2 298.8Q54.3 304.6 55.8 310.3Z" fill="#68941f"/>
<path d="M112.8 310.6Q112.5 304.3 112.6 297.9Q113.2 304.2 113.5 310.6Z" fill="#a0a532"/>
<path d="M24.4 312.1Q23.7 303.7 26.5 295.6Q24.4 303.7 25 312.2Z" fill="#93b730"/>
<path d="M35 312.3Q33.7 306.1 34.7 299.7Q34.9 306 36.2 312.2Z" fill="#a7ab36"/>
<path d="M146.5 312.6Q145.8 306.4 146.6 300.2Q146.9 306.4 147.6 312.5Z" fill="#689821"/>
<path d="M66.5 314.1Q68.2 305.2 67.6 296.1Q69.1 305.2 67.4 314.2Z" fill="#6a9a22"/>
<path d="M128.8 315.3Q127.6 308.6 127.8 301.7Q128.7 308.5 129.9 315.2Z" fill="#709824"/>
<path d="M148.2 316.4Q148.6 311.7 149.9 307.1Q149.3 311.8 148.9 316.5Z" fill="#6e9624"/>
<path d="M124.3 316.8Q124.7 312.3 124.5 307.8Q125.4 312.3 125 316.8Z" fill="#a4ac35"/>
<path d="M130.7 317.4Q130.8 312.2 131.6 306.9Q131.8 312.2 131.6 317.5Z" fill="#b2b842"/>
<path d="M63.1 318Q61.9 309.7 62.9 301.3Q63.2 309.6 64.3 317.9Z" fill="#9bbf3a"/>
<path d="M94.4 318.3Q96.2 312.4 98.8 306.7Q97.2 312.7 95.5 318.6Z" fill="#628f18"/>
<path d="M86.6 319.5Q87.8 312.1 86.9 304.7Q88.6 312.1 87.4 319.5Z" fill="#8db52c"/>
<path d="M67.6 320.8Q68.6 313.1 67.7 305.4Q69.6 313 68.6 320.8Z" fill="#6e9a24"/>
<path d="M103.5 321.6Q103.1 315.7 101.5 310.2Q103.7 315.6 104.2 321.4Z" fill="#8dae29"/>
<path d="M121.5 321.9Q124.1 312.5 124.2 302.8Q124.9 312.6 122.4 322Z" fill="#a0c43f"/>
<path d="M49.2 322.7Q48.5 313.8 47.8 304.8Q49.5 313.7 50.2 322.6Z" fill="#aaab39"/>
<path d="M93 323.6Q92.3 317.4 92.9 311.2Q93.3 317.4 94 323.6Z" fill="#7ba022"/>
<path d="M139.8 324.4Q138.5 314.6 139.4 304.8Q139.5 314.6 140.9 324.3Z" fill="#85ae30"/>
<path d="M67.4 324.8Q66.6 319.5 68.2 314.3Q67.7 319.6 68.5 324.8Z" fill="#a6ba37"/>
<path d="M38.2 325.5Q40.7 319.2 41.3 312.5Q41.8 319.4 39.3 325.7Z" fill="#afc33d"/>
<path d="M116.1 326.2Q115.4 318.1 117 310Q116.5 318.1 117.3 326.2Z" fill="#9fc03b"/>
<path d="M140.3 326.5Q140.7 315.8 138.6 305.4Q141.6 315.7 141.2 326.4Z" fill="#a7ae37"/>
<path d="M10.8 326.5Q9.4 318.1 11.8 309.9Q10.5 318.2 11.9 326.6Z" fill="#79a122"/>
<path d="M93.7 327.4Q94.1 321.7 94.6 315.9Q95 321.7 94.6 327.4Z" fill="#a5a933"/>
<path d="M97 327.6Q95.3 316.9 97.7 306.2Q96.5 316.9 98.1 327.6Z" fill="#adb23f"/>
<path d="M57 329.5Q57.4 320.1 56.5 310.8Q58.5 320.1 58.1 329.5Z" fill="#769b2e"/>
<path d="M19.5 330.1Q18.1 319.6 21.1 309.4Q19.1 319.7 20.6 330.1Z" fill="#a8ae3a"/>
<path d="M27.6 331.1Q25.9 320.2 23.9 309.3Q27.2 319.9 28.9 330.8Z" fill="#98b62f"/>
<path d="M113.5 331.8Q114.5 322.4 115.5 313Q115.9 322.5 115 331.9Z" fill="#acbf3f"/>
<path d="M84 332.8Q83.4 326.2 84.8 319.7Q84.4 326.3 85 332.9Z" fill="#b0c442"/>
<path d="M37.6 333Q36.9 325.1 38.4 317.2Q38.2 325.1 38.9 333Z" fill="#a9ac38"/>
<path d="M23.3 333.4Q22.2 327 22.3 320.5Q23.6 326.9 24.7 333.2Z" fill="#8dae26"/>
<path d="M48 334.7Q49 323.9 47.4 313.2Q50.1 323.8 49 334.7Z" fill="#b7ca48"/>
<path d="M153.6 335.7Q153.9 329.5 153.4 323.4Q155.4 329.4 155.1 335.6Z" fill="#a4ae39"/>
<path d="M82.2 336.2Q82.6 330.4 82.4 324.6Q83.6 330.3 83.2 336.1Z" fill="#7ca223"/>
<path d="M36.4 337.1Q38.4 329.8 40.1 322.5Q39.8 330.1 37.8 337.4Z" fill="#99bd35"/>
<path d="M37.6 337.6Q39.8 329.4 39.5 321Q40.8 329.5 38.6 337.7Z" fill="#7fac29"/>
<path d="M134.9 338.5Q135.5 327.5 133.8 316.6Q136.4 327.4 135.8 338.4Z" fill="#a2b938"/>
<path d="M98.3 339.1Q101.3 327.2 104.5 315.4Q102.1 327.4 99.1 339.3Z" fill="#8eb42d"/>
<path d="M41.6 340.6Q41.3 327.7 38.7 315.1Q42.4 327.5 42.6 340.4Z" fill="#85ac2e"/>
<path d="M75.2 340.9Q74.3 332.8 76.7 324.9Q75.2 332.9 76.1 341Z" fill="#a6ae37"/>
<path d="M94.6 341.1Q97 329.4 96.3 317.5Q97.9 329.4 95.4 341.1Z" fill="#729d29"/>
<path d="M37.7 342Q37.3 334.6 40.3 327.5Q39 334.8 39.4 342.2Z" fill="#769a2c"/>
<path d="M116.8 342.6Q113.1 330.6 115 318Q114.6 330.4 118.2 342.4Z" fill="#abb03b"/>
<path d="M89.6 343.8Q90.6 335.9 89.8 328.1Q91.5 335.9 90.5 343.8Z" fill="#67941f"/>
<path d="M106.5 344.3Q107 336.6 107.6 328.9Q108.4 336.6 107.9 344.4Z" fill="#9bbe37"/>
<path d="M13.2 345.1Q14 335 12.4 325.1Q15.2 335 14.4 345Z" fill="#9cbb3a"/>
<path d="M34.4 345.5Q33.2 336.2 35.7 327Q34.6 336.3 35.8 345.5Z" fill="#668f19"/>
<path d="M73.7 346.5Q71.6 336.1 72.4 325.4Q72.7 336 74.8 346.4Z" fill="#628a1b"/>
<path d="M62.5 347.8Q60 338.4 60.6 328.7Q61.2 338.3 63.6 347.6Z" fill="#6f9727"/>
<path d="M139 348.6Q138.1 337.5 138 326.3Q139.3 337.4 140.1 348.6Z" fill="#a9bd3d"/>
<path d="M88.9 349.4Q89.3 335.4 90.7 321.5Q91 335.5 90.5 349.5Z" fill="#aabd3f"/>
<path d="M45.9 349.7Q44.1 337.6 45 325.3Q45.1 337.6 46.9 349.7Z" fill="#92ba2e"/>
<path d="M138 350.1Q138.3 343.2 140.3 336.5Q139.5 343.4 139.1 350.3Z" fill="#abc13b"/>
<path d="M101.1 351.4Q103 343.6 104.5 335.8Q104 343.8 102.2 351.6Z" fill="#8cb12c"/>
<path d="M84.4 353.4Q84.4 343.3 84.8 333.2Q85.5 343.3 85.5 353.4Z" fill="#749a2b"/>
<path d="M126.3 355.1Q125.5 342.9 127.5 330.7Q127.5 342.9 128.2 355.1Z" fill="#8eb127"/>
<path d="M76.4 355.9Q74.7 349.2 76.1 342.3Q75.8 349.1 77.4 355.8Z" fill="#7ea526"/>
<path d="M73 357.6Q77.6 344 78.1 329.7Q79.6 344.3 74.9 357.9Z" fill="#a4ac30"/>
<path d="M130.5 359.6Q130.5 347.6 129.6 335.7Q132.3 347.5 132.3 359.5Z" fill="#79a626"/>
<path d="M121 360.5Q121.8 349.7 121.8 339Q123.8 349.7 123 360.4Z" fill="#adc23d"/>
<path d="M41.3 361.6Q41.8 349.6 40.1 337.9Q43.8 349.5 43.3 361.4Z" fill="#adc23f"/>
<path d="M71.8 361.9Q74.1 353.6 74.4 345.1Q76 353.8 73.7 362.1Z" fill="#a8ad34"/>
<path d="M133.8 362.6Q137.6 346.6 142.2 330.8Q139.6 347.1 135.8 363.1Z" fill="#94b331"/>
<path d="M47.7 365.1Q48 350.9 48.1 336.7Q49.4 350.9 49.1 365.1Z" fill="#a2aa2f"/>
<path d="M114.3 367.6Q115 351.9 114 336.3Q117.3 351.8 116.5 367.5Z" fill="#79a022"/>
<path d="M23.6 369.8Q26.4 356.3 27.9 342.6Q28.8 356.5 26 370.1Z" fill="#95b734"/>
<path d="M102.1 370.5Q102.4 362.3 101 354.3Q103.6 362.2 103.3 370.3Z" fill="#b3c743"/>
<path d="M112.1 374.1Q111.9 365.6 112.3 357.1Q114 365.5 114.2 374Z" fill="#6e9722"/>
<path d="M135.5 375.3Q132.9 366.4 133.2 357Q134.3 366.2 136.9 375.1Z" fill="#a7b036"/>
<path d="M22.8 376.3Q25.7 368 26.6 359.4Q27.3 368.3 24.4 376.6Z" fill="#b2c142"/>
<path d="M57 377Q57 361.7 58.1 346.4Q58.8 361.7 58.8 377Z" fill="#b3c649"/>
<path d="M101.7 378.1Q99.5 363.2 102.2 348.3Q101 363.2 103.2 378.1Z" fill="#78a721"/>
<path d="M44.4 378.8Q47 362.1 44.7 345.5Q49 362.1 46.3 378.8Z" fill="#abbd3d"/>
<path d="M124.3 381.2Q118.8 364.6 118.1 347Q120.3 364.3 125.7 380.9Z" fill="#a4ae35"/>
<path d="M41.4 383.6Q41.7 374.5 43.1 365.4Q43 374.6 42.7 383.7Z" fill="#a7b93a"/>
<path d="M133.5 384.2Q135.2 367.5 132.4 351.1Q137.5 367.3 135.7 384.1Z" fill="#acb23f"/>
<path d="M59.8 385.7Q56.3 373 58.1 359.6Q58.5 372.7 62 385.5Z" fill="#658b17"/>
<path d="M43.7 388.2Q38.2 373.5 38.8 357.6Q39.7 373.2 45.2 387.9Z" fill="#9ebd37"/>
<path d="M53.5 389.7Q50.1 369.8 55 350Q52.8 369.9 56.1 389.7Z" fill="#94b42a"/>
<path d="M141.5 390.8Q138.2 375.6 141.6 360.3Q140.7 375.5 143.9 390.7Z" fill="#a5b934"/>
<path d="M150.7 391.8Q149.4 371.5 155.4 351.9Q151.6 371.7 152.9 392Z" fill="#81ab2f"/>
<path d="M17.2 393.5Q19.4 375.7 20.5 357.7Q22.2 375.8 20.1 393.7Z" fill="#668f1a"/>
<path d="M76.5 395.1Q71.6 374.4 73.8 353Q73.7 374.2 78.6 394.9Z" fill="#a5af36"/>
<path d="M90.7 397.1Q92.1 378.6 93.3 360.1Q94.8 378.7 93.4 397.2Z" fill="#668f1c"/>
<path d="M89.2 400.8Q87.7 382.4 93.4 364.6Q89.5 382.5 91 401Z" fill="#96b633"/>
<path d="M63.5 402.5Q64.2 384.3 59.7 366.9Q67.1 383.9 66.4 402.1Z" fill="#aac13d"/>
<path d="M146.2 404Q142.7 386.2 143.1 368Q144.7 386 148.2 403.7Z" fill="#91b32b"/>
<path d="M142.2 406.2Q140 395 142.8 383.7Q141.8 395 144 406.2Z" fill="#b1b242"/>
<path d="M33.9 408Q34.9 388.4 38 369.1Q36.8 388.6 35.7 408.1Z" fill="#a7b93a"/>
<path d="M85.4 408.8Q84.8 396.9 86.1 385Q86.6 396.9 87.2 408.8Z" fill="#78a31f"/>
<path d="M100.2 412.6Q97.8 397.8 99.8 382.7Q99.8 397.7 102.3 412.5Z" fill="#a5ac33"/>
<path d="M116.1 413.1Q120.3 395.8 122.2 378.1Q122.5 396.1 118.3 413.5Z" fill="#9dc038"/>
<path d="M96.1 415.3Q93.8 399.4 95.5 383.3Q96.6 399.2 98.8 415.2Z" fill="#86b430"/>
<path d="M105.3 416.3Q105.3 400.5 105.4 384.8Q108.3 400.4 108.4 416.2Z" fill="#b1ca44"/>
<path d="M123.4 420.6Q121.3 405.2 123.9 389.7Q124 405.2 126.2 420.5Z" fill="#84af2d"/>
<path d="M136.7 423.2Q135.7 397.7 141.2 372.6Q138.9 397.9 139.9 423.4Z" fill="#a8be3c"/>
<path d="M46.3 428.6Q34.5 406.9 25.6 383.8Q36.3 406.1 48.1 427.8Z" fill="#adbc3b"/>
<path d="M80.3 429.8Q83 401.6 88.1 373.8Q86.1 402 83.4 430.1Z" fill="#b0b740"/>
<path d="M39 431.2Q36.1 418.7 37.1 405.7Q38 418.5 40.9 431Z" fill="#a9bb3b"/>
<path d="M95.2 432.4Q96.9 407.2 98.8 382Q100.3 407.3 98.7 432.5Z" fill="#95bc35"/>
<path d="M152.3 435.9Q148.9 410.6 153.7 385.4Q152 410.6 155.4 435.9Z" fill="#82ac2f"/>
<path d="M157.8 440Q157.2 426.3 157.2 412.6Q159.9 426.1 160.5 439.8Z" fill="#a0c23c"/>
<path d="M146.5 442.3Q141.3 426.8 143.1 410.2Q145 426.2 150.2 441.7Z" fill="#aab23b"/>
<path d="M97.4 442.9Q94.4 422.6 95 402Q97 422.4 100 442.6Z" fill="#acb33d"/>
<path d="M86.1 445.9Q82.4 429.9 84.5 413.3Q86.5 429.5 90.1 445.4Z" fill="#8fb329"/>
<path d="M36.7 450.5Q32.6 430 36.8 409.1Q36.2 429.8 40.4 450.4Z" fill="#b6c645"/>
<path d="M60.8 451.3Q61 435.7 64.9 420.2Q65.2 435.9 65 451.6Z" fill="#65911b"/>
<path d="M33.9 455.8Q39.8 430 36.9 403.8Q42.1 430 36.2 455.9Z" fill="#acbe3c"/>
<path d="M155.7 461.7Q155.4 444.5 158.3 427.3Q159.3 444.5 159.5 461.8Z" fill="#98b532"/>
<path d="M152.7 462.7Q156.3 442.9 162.1 423.6Q159.1 443.5 155.5 463.3Z" fill="#a1b735"/>
<path d="M79.1 466.2Q76.4 444.5 77.8 422.4Q81.1 444.1 83.7 465.8Z" fill="#9dbe38"/>
<path d="M99.9 467.8Q95.7 451.2 100.2 434.1Q99.6 451 103.7 467.6Z" fill="#719826"/>
<path d="M105.2 483.2Q99.7 447.9 103.9 412.2Q103.3 447.7 108.8 483.1Z" fill="#84b233"/>
<path d="M120.1 491.8Q113.3 456.6 107.3 421.2Q116 456 122.8 491.3Z" fill="#a5a932"/>
<path d="M147.5 496.5Q149.1 456.3 157 416.7Q153.6 456.7 152 496.9Z" fill="#aec13c"/>
<path d="M49.2 501Q43.1 473.1 39.8 444.7Q45.9 472.6 52 500.5Z" fill="#7fa92b"/>
<path d="M53.5 501.7Q47.2 473.9 48.4 445.1Q51.7 473.3 58 501.1Z" fill="#77a01c"/>
<path d="M145.1 507.6Q148.1 471.2 147.7 434.8Q151.9 471.2 149 507.6Z" fill="#a9b836"/>
<path d="M29.3 510.4Q38 480.2 44 449.5Q41.8 481 33.1 511.2Z" fill="#acb339"/>
<path d="M141.9 519.2Q136.6 488.8 131.3 458.5Q141.2 487.9 146.5 518.2Z" fill="#90b02c"/>
<path d="M103.7 523.1Q104.5 496.6 113.7 471.6Q108.1 497.2 107.4 523.6Z" fill="#9ec039"/>
<path d="M103.3 526.6Q101 500.9 99 475.1Q106.6 500.1 108.9 525.9Z" fill="#a2b537"/>
<path d="M104.4 534.1Q101.4 502 97.9 470Q106.1 501.4 109 533.4Z" fill="#a6be39"/>
<path d="M101.8 535.8Q107.8 515 114.9 494.6Q111.9 516.1 105.9 536.9Z" fill="#aabb37"/>
<path d="M72.9 540.5Q77.6 497.6 78.2 454.6Q83.5 497.8 78.8 540.7Z" fill="#aaaf3a"/>
</g></g>
<g clip-path="url(#cr)"><g filter="url(#sf)">
<rect x="156.8" y="314.2" width="139.8" height="210.00000000000006" fill="url(#gr)"/>
<rect x="156.8" y="314.2" width="139.8" height="210.00000000000006" filter="url(#dk)" mask="url(#mk)"/>
<rect x="156.8" y="314.2" width="139.8" height="210.00000000000006" filter="url(#lt)" opacity="0.8"/>
<path d="M278.3 319.7Q277.6 315.2 278.4 310.6Q278.5 315.1 279.2 319.6Z" fill="#2f3a12"/>
<path d="M277.6 323.6Q275.9 320.1 274.3 316.5Q276.8 319.6 278.4 323.2Z" fill="#3d461a"/>
<path d="M187.9 324.5Q190.1 320.3 192.3 315.9Q191.2 320.7 189 325Z" fill="#232f0b"/>
<path d="M157.4 327.2Q157.7 323.8 157.7 320.3Q159.2 323.7 158.9 327.1Z" fill="#2e370e"/>
<path d="M232.1 337.3Q231.8 329.6 231.8 321.9Q233.7 329.4 234 337.2Z" fill="#272d09"/>
<path d="M297.3 337.9Q295.7 331.5 296.9 325Q296.6 331.5 298.3 337.8Z" fill="#29340d"/>
<path d="M239.4 344.9Q238.5 336.5 239.2 328.1Q239.7 336.5 240.6 344.8Z" fill="#242d07"/>
<path d="M261 351.2Q262.6 343.3 264 335.3Q263.9 343.4 262.4 351.4Z" fill="#374014"/>
<path d="M198.4 360Q200.4 352.7 202.2 345.3Q202 353 199.9 360.3Z" fill="#252f0f"/>
<path d="M259.2 361.3Q263.5 352.2 265 342.3Q264.8 352.5 260.5 361.6Z" fill="#2c380f"/>
<path d="M184.9 362.2Q186.3 354 186.6 345.7Q187.8 354.1 186.4 362.3Z" fill="#25320d"/>
<path d="M157.8 371.6Q157 362.4 157.4 353.2Q159.3 362.2 160.1 371.4Z" fill="#2b3412"/>
<path d="M266.1 372.5Q266.2 364.6 267.2 356.7Q268.2 364.6 268.1 372.5Z" fill="#263009"/>
<path d="M224.7 374.3Q226.2 366.5 226.6 358.6Q229.1 366.5 227.6 374.3Z" fill="#2d3610"/>
<path d="M171.3 388.6Q171.1 375.3 168.8 362.4Q174.3 374.8 174.5 388.1Z" fill="#374019"/>
<path d="M269.8 394.3Q271.3 387.1 272.5 379.9Q274 387.3 272.6 394.6Z" fill="#292f0c"/>
<path d="M236.6 395.5Q236.4 388.5 235.3 381.7Q238.5 388.2 238.7 395.2Z" fill="#27320d"/>
<path d="M298.5 396.1Q297.9 388.5 301.1 381.4Q299.7 388.7 300.3 396.3Z" fill="#374018"/>
<path d="M224.5 396Q227.9 390.3 231.2 384.5Q231.1 391.7 227.7 397.4Z" fill="#364014"/>
<path d="M257.3 398.7Q261.2 386.2 264.1 373.4Q263.6 386.7 259.6 399.2Z" fill="#2e3612"/>
<path d="M250.2 401.1Q247.2 386.9 250 372.4Q250.6 386.7 253.7 400.8Z" fill="#29340f"/>
<path d="M271.2 406.4Q270.3 396.4 267.4 387Q273.7 395.4 274.7 405.4Z" fill="#404c1c"/>
<path d="M199.7 407Q204.3 393.3 208.1 379.5Q207.3 394.1 202.8 407.7Z" fill="#2f3813"/>
<path d="M292.4 408.4Q288.5 399.8 286.4 390.5Q291.1 398.7 295 407.3Z" fill="#404b1e"/>
<path d="M251.8 412.6Q254.2 400 254.1 387.4Q257.9 400.1 255.5 412.7Z" fill="#2b340b"/>
<path d="M230.1 413Q229 397.1 235.2 381.9Q232.7 397.5 233.7 413.4Z" fill="#3e4a1d"/>
<path d="M257.5 415.5Q262.2 404.4 263.5 392.7Q264.2 404.9 259.5 415.9Z" fill="#374416"/>
<path d="M239.5 422.1Q236.7 409.1 238.7 395.6Q240.5 408.7 243.3 421.7Z" fill="#2c340c"/>
<path d="M174.7 422.6Q176.4 409.2 176.8 395.9Q179.6 409.3 177.8 422.7Z" fill="#3e4619"/>
<path d="M235.5 425.1Q238.4 411.9 238.8 398.6Q241.8 412.1 239 425.3Z" fill="#2c3615"/>
<path d="M188.4 425.5Q184.6 409.4 182.7 392.8Q187.6 408.7 191.3 424.9Z" fill="#2c390f"/>
<path d="M197.6 429Q199.6 416.1 199.1 403.2Q203 416 201 429Z" fill="#28310d"/>
<path d="M150.5 431.4Q150.7 420.5 151.9 409.5Q154.6 420.4 154.4 431.3Z" fill="#29360f"/>
<path d="M177.1 433.3Q178.8 416.9 176.9 400.6Q181.5 416.7 179.8 433.2Z" fill="#2e3a10"/>
<path d="M158.3 433.9Q153.5 421.4 153.9 407.6Q157.4 420.4 162.3 432.9Z" fill="#2b370f"/>
<path d="M196.3 436.1Q188.3 420.3 183.2 403.2Q191.7 418.7 199.7 434.5Z" fill="#252f0e"/>
<path d="M258.2 439.6Q265.9 423 268.9 405.3Q269.9 424 262.2 440.6Z" fill="#293510"/>
<path d="M166.7 440.9Q164.7 426.5 169.2 412.4Q167.4 426.7 169.4 441Z" fill="#2a340f"/>
<path d="M206.3 441.3Q206 431.8 209.1 422.6Q208.8 432 209.2 441.5Z" fill="#3c491a"/>
<path d="M252.5 441.5Q254.6 425.3 258.8 409.3Q257.1 425.6 255.1 441.9Z" fill="#424c1f"/>
<path d="M292.4 441.7Q293.4 432.2 298.1 423.5Q298 433 297.1 442.5Z" fill="#394414"/>
<path d="M151.3 442Q154.3 429.5 155.8 416.9Q159 429.9 156 442.4Z" fill="#3e4618"/>
<path d="M152 448.1Q147.8 438.6 146.5 428Q150.7 437.5 154.9 447.1Z" fill="#354010"/>
<path d="M154.6 447.8Q153.4 438.7 156.2 429.3Q158.1 438.5 159.3 447.6Z" fill="#2e3714"/>
<path d="M256.5 448.8Q253 431.5 253.7 413.7Q255.7 431.1 259.2 448.5Z" fill="#3b441a"/>
<path d="M171.4 450.8Q170 433.5 172 416.2Q174.8 433.3 176.1 450.5Z" fill="#344017"/>
<path d="M277 451.6Q278.1 439.9 282.5 428.7Q280.9 440.4 279.7 452.1Z" fill="#374013"/>
<path d="M290.7 452.6Q285 435.7 286.9 417.6Q289.5 435 295.2 451.8Z" fill="#3d4416"/>
<path d="M180 460.6Q176.5 451 173.6 441.2Q180.8 449 184.3 458.6Z" fill="#3d4918"/>
<path d="M154 464.6Q155 443.2 159 422.2Q158.1 443.5 157.1 464.8Z" fill="#242e0a"/>
<path d="M206.4 464.6Q207.2 446.2 215 429Q211.1 446.9 210.3 465.3Z" fill="#303810"/>
<path d="M188.7 465.7Q184.2 447.6 187.2 428.7Q188.8 447.1 193.3 465.2Z" fill="#2f3910"/>
<path d="M270.2 471.3Q271.9 457.8 276.4 444.6Q276.9 458.5 275.2 472Z" fill="#3b4518"/>
<path d="M218.6 471.3Q227.1 458.5 233.5 444.8Q231.4 460.5 222.9 473.3Z" fill="#424a1d"/>
<path d="M278.2 473.6Q273.8 451.9 265.5 431.7Q277.9 450.5 282.3 472.1Z" fill="#313e17"/>
<path d="M208.8 476.1Q197.6 455.7 194.1 432.3Q202.2 453.9 213.4 474.3Z" fill="#243008"/>
<path d="M182.4 476.5Q180.7 465.3 184.6 454.2Q184.5 465.3 186.2 476.5Z" fill="#26300d"/>
<path d="M190.4 475.8Q194.6 463.6 204 454.3Q197.5 465.2 193.4 477.4Z" fill="#2f3c15"/>
<path d="M208.4 477.5Q206.7 461.6 207 445.4Q211.3 461 213 477Z" fill="#232d0b"/>
<path d="M286.7 481.2Q278 462.1 274.2 441.1Q283.4 460 292.1 479.1Z" fill="#222d0a"/>
<path d="M167.3 483.5Q167.8 470.4 166.6 457.4Q171.2 470 170.7 483.2Z" fill="#2c350d"/>
<path d="M207.5 483.6Q207 469.6 213.7 456.7Q211.4 470.3 212 484.2Z" fill="#222e09"/>
<path d="M259.7 491.1Q255.9 474.2 260.4 456.9Q260.1 474 264 490.9Z" fill="#2c3413"/>
<path d="M201.6 491.1Q200.9 472.5 202.5 453.9Q206.1 472.3 206.8 490.9Z" fill="#3e4618"/>
<path d="M181.6 492Q181.9 473.4 181.1 454.8Q187.4 472.9 187.1 491.6Z" fill="#353e16"/>
<path d="M162.9 492.6Q159.4 480.2 161 466.9Q164.8 479.2 168.4 491.6Z" fill="#404819"/>
<path d="M193.4 492.8Q194.8 480.8 194.7 468.8Q200.2 480.5 198.8 492.5Z" fill="#414b20"/>
<path d="M158.4 495.7Q161.9 474.9 160.5 454.1Q165.4 474.9 161.9 495.7Z" fill="#29340d"/>
<path d="M285.8 497.3Q276.2 478.9 274.6 457.7Q280.2 477.5 289.8 496Z" fill="#3b4216"/>
<path d="M163.7 497.2Q170.2 482.4 178.9 468.6Q173.6 483.9 167.1 498.7Z" fill="#354018"/>
<path d="M170.1 498.3Q167.7 479.5 171.9 460.7Q171.6 479.5 174 498.3Z" fill="#384214"/>
<path d="M239.4 498.9Q233.8 473.8 231.2 448Q238.3 472.8 243.9 498Z" fill="#363d18"/>
<path d="M235.2 499.3Q240.4 482.5 247 466.1Q244.2 483.6 239.1 500.4Z" fill="#404b1e"/>
<path d="M178.1 500Q181.5 476.1 181.9 452.1Q186.3 476.2 182.9 500.1Z" fill="#2d3410"/>
<path d="M219 501.9Q216.6 479.8 222.7 457.9Q222.3 479.9 224.7 502Z" fill="#343f14"/>
<path d="M265.9 503.5Q269 483.4 272.1 463.3Q275.4 483.9 272.4 503.9Z" fill="#27330e"/>
<path d="M251.9 505.8Q248.3 481 250.5 455.5Q254.8 480.4 258.4 505.2Z" fill="#2e3712"/>
<path d="M149.7 505.8Q149.8 486.3 155.4 467.3Q154.6 486.7 154.5 506.3Z" fill="#374115"/>
<path d="M202.4 506.4Q205.2 494 208.5 481.6Q209.9 494.7 207.1 507.1Z" fill="#27320e"/>
<path d="M244 506.7Q249.7 492.7 260.5 481.4Q254.5 495.2 248.9 509.3Z" fill="#243009"/>
<path d="M204.7 508.4Q202.6 494.7 202.3 480.6Q206.5 494.1 208.6 507.8Z" fill="#2c330e"/>
<path d="M282.7 511.1Q282.8 496.7 281.2 482.5Q287.9 495.9 287.9 510.3Z" fill="#2b320d"/>
<path d="M289.5 512.6Q290.1 492.8 299.7 474.7Q296.8 494 296.2 513.8Z" fill="#2e3911"/>
<path d="M242.2 515.3Q235.7 496.9 227 479.6Q241.7 493.7 248.2 512.1Z" fill="#262f0a"/>
<path d="M273.3 513.8Q269.8 489.7 274.5 465.4Q274.5 489.6 278 513.7Z" fill="#3e4419"/>
<path d="M152.5 514.3Q145.8 487.9 147.8 460.3Q151.3 487.1 158.1 513.5Z" fill="#3f4719"/>
<path d="M197.7 515.5Q191.5 488.5 198.1 460.8Q197.3 488.2 203.5 515.3Z" fill="#2d3711"/>
<path d="M154.8 514.9Q162.9 493.3 164.9 470.7Q168.4 494.3 160.3 515.9Z" fill="#3a4515"/>
<path d="M162.4 519.6Q150.1 506 145.4 487.8Q153.2 504.1 165.5 517.7Z" fill="#364017"/>
<path d="M182.8 519.7Q172.1 498.3 171.2 474Q175.6 497.3 186.3 518.6Z" fill="#363d15"/>
<path d="M233.5 523.5Q232.5 507 233.8 490.3Q238.4 506.5 239.4 523Z" fill="#2d3914"/>
<path d="M289.7 523.8Q290.6 499.8 294.5 475.9Q294.7 500 293.8 524Z" fill="#2a3513"/>
<path d="M262.4 523.3Q267.7 510.5 272.8 497.7Q272.2 511.9 266.9 524.7Z" fill="#353e16"/>
<path d="M229.9 525.6Q231.5 503.5 231.9 481.4Q236.6 503.4 235.1 525.6Z" fill="#2b370f"/>
<path d="M261.9 527.5Q255.8 505.9 254.8 483.2Q259.8 505.1 265.9 526.7Z" fill="#394315"/>
<path d="M215.6 528.8Q207.2 504 200.1 478.8Q213.5 501.6 221.8 526.4Z" fill="#424d1d"/>
<path d="M274.2 528.1Q273.4 512.9 278.6 498.2Q277.3 513.2 278.1 528.4Z" fill="#222f0a"/>
<path d="M277.8 528.2Q280.3 512.4 284 496.7Q285.3 513 282.8 528.8Z" fill="#353d16"/>
<path d="M160.5 530.4Q156.6 510.5 153.6 490.2Q162 509.1 165.9 529.1Z" fill="#364211"/>
<path d="M167.6 531Q166.8 505.4 166.5 479.9Q174 504.8 174.8 530.3Z" fill="#252e0c"/>
<path d="M287.3 532.5Q286.6 503.9 292.2 475.4Q293.3 504 294 532.7Z" fill="#29330b"/>
<path d="M162 533.3Q159.4 511.2 160.8 488.9Q164.1 510.9 166.8 532.9Z" fill="#29320e"/>
<path d="M180.5 534.3Q183 510.8 185.1 487.2Q187.7 511 185.2 534.6Z" fill="#2f370e"/>
<path d="M223.8 534.4Q230.3 509.9 230.8 485Q237.7 510.4 231.2 534.9Z" fill="#404b1d"/>
<path d="M275.7 536.5Q277.6 519 285.2 502.7Q282 519.9 280.2 537.4Z" fill="#313b14"/>
<path d="M274.6 536.7Q276.3 516.5 282.9 497.1Q280.8 517.2 279.1 537.4Z" fill="#404919"/>
<path d="M215.1 537.1Q220.6 515.3 226.9 493.7Q227.5 516.6 222 538.4Z" fill="#2f3610"/>
<path d="M279.5 540.7Q276.8 511.4 284.3 482.2Q284.5 511.5 287.2 540.9Z" fill="#3a4418"/>
<path d="M195 541Q199 512.4 199.1 483.7Q205.1 512.5 201.1 541.2Z" fill="#2e360e"/>
<path d="M231.1 542.5Q225.5 519.5 222.4 495.9Q230.2 518.4 235.8 541.4Z" fill="#303a11"/>
<path d="M232.8 309.4Q233.9 303.5 233.1 297.6Q234.5 303.5 233.4 309.4Z" fill="#c3ca44"/>
<path d="M280.5 310Q279.7 303.5 281.7 297.3Q280.4 303.6 281.3 310.1Z" fill="#bbd046"/>
<path d="M152.2 310.1Q152.4 301.1 155.1 292.4Q153.4 301.2 153.1 310.2Z" fill="#b8cd44"/>
<path d="M160.6 310.2Q161 304.2 162 298.2Q162 304.3 161.6 310.2Z" fill="#92c139"/>
<path d="M182.4 311.4Q182.2 302.5 180.8 293.8Q183.4 302.3 183.5 311.2Z" fill="#c0c344"/>
<path d="M277.8 311.3Q278.2 307.1 278.9 302.9Q279.4 307.2 279 311.4Z" fill="#92bd35"/>
<path d="M196.3 311.7Q195.6 306.8 194.1 302.1Q196.7 306.4 197.4 311.4Z" fill="#bbd044"/>
<path d="M219.3 311.7Q220 304.3 221 297Q220.8 304.4 220.1 311.8Z" fill="#97bf32"/>
<path d="M281.8 312.3Q278.6 304.9 278 296.8Q279.4 304.7 282.6 312.1Z" fill="#7cb02b"/>
<path d="M242.3 312.5Q241.7 306.4 242 300.2Q242.6 306.3 243.2 312.4Z" fill="#9cc434"/>
<path d="M190.5 312.9Q191.6 305.4 191.8 297.8Q192.4 305.4 191.3 312.9Z" fill="#7eac2d"/>
<path d="M165.7 313Q166.8 305.5 166.9 297.9Q167.6 305.5 166.6 313Z" fill="#9bbf36"/>
<path d="M194.5 313.5Q194.4 306.5 193.7 299.5Q195.5 306.4 195.6 313.4Z" fill="#98c334"/>
<path d="M272.3 313.6Q271.2 308.6 272.6 303.5Q272.4 308.5 273.5 313.5Z" fill="#71a51f"/>
<path d="M202.6 313.6Q203.3 305.5 206.3 297.8Q203.9 305.6 203.2 313.7Z" fill="#bbbe39"/>
<path d="M264 313.9Q265.7 309.3 266.8 304.6Q266.6 309.5 264.8 314.1Z" fill="#76a829"/>
<path d="M232.5 314.4Q232.3 309.9 232.9 305.5Q233.4 309.9 233.6 314.4Z" fill="#79a828"/>
<path d="M273 314.5Q270.7 305.7 272 296.6Q271.3 305.6 273.6 314.4Z" fill="#b9bd3c"/>
<path d="M275.2 314.7Q275.9 308.5 276.2 302.3Q276.5 308.5 275.9 314.7Z" fill="#7cb12d"/>
<path d="M189.9 314.5Q191.2 306.3 195.4 299Q192.3 306.7 191 314.9Z" fill="#74a121"/>
<path d="M275.9 314.7Q278 307.1 281.4 300Q278.6 307.3 276.5 314.9Z" fill="#90be34"/>
<path d="M163.8 314.7Q164.4 308.8 167 303.3Q165.6 309.1 165 315Z" fill="#8ec132"/>
<path d="M254.8 315.6Q254.3 310.8 255 306Q255.2 310.8 255.7 315.6Z" fill="#93be37"/>
<path d="M270.2 316Q272.2 310 273.2 303.8Q273.3 310.2 271.2 316.2Z" fill="#6da21b"/>
<path d="M243.1 316.3Q243.8 311.1 243 305.9Q244.6 311.1 243.9 316.3Z" fill="#a7c940"/>
<path d="M205.5 316.6Q205.1 308.5 204.6 300.5Q206.1 308.4 206.5 316.5Z" fill="#a8cd3d"/>
<path d="M293.9 317.8Q294.5 312.9 294.4 308.2Q295.8 312.9 295.2 317.7Z" fill="#bfda4e"/>
<path d="M227.2 318Q226.5 311 226.9 304Q227.5 311 228.2 318Z" fill="#bdd64e"/>
<path d="M212.8 318.1Q214.2 311 213.4 303.9Q214.9 311 213.4 318.2Z" fill="#bed24b"/>
<path d="M203.8 318.4Q202.4 313.8 202.5 308.9Q203.2 313.6 204.5 318.3Z" fill="#bac041"/>
<path d="M192.2 319.1Q190.4 311.8 192 304.4Q191.7 311.8 193.5 319Z" fill="#b6cc4a"/>
<path d="M160.3 319Q161.5 313.8 162.3 308.5Q162.8 313.9 161.6 319.2Z" fill="#c4cb4a"/>
<path d="M276.4 319.9Q276.4 312.3 278.4 304.9Q277.6 312.4 277.6 320Z" fill="#87b72d"/>
<path d="M297.8 320.2Q296.7 313.3 296.3 306.3Q298 313.1 299.1 320Z" fill="#94be2e"/>
<path d="M208.4 320.4Q208.1 314.3 208.6 308.2Q208.8 314.3 209.1 320.4Z" fill="#bcbc3e"/>
<path d="M222.1 320.4Q222.1 315.1 223.5 309.9Q223.1 315.2 223.1 320.5Z" fill="#a3c83f"/>
<path d="M279.6 321Q277.6 313 279.3 304.9Q278.6 313 280.6 320.9Z" fill="#c3d654"/>
<path d="M284.2 320.9Q287.1 311.3 286.7 301.4Q288.1 311.4 285.2 321Z" fill="#8abf33"/>
<path d="M207.6 321.5Q207.5 316.9 206.7 312.4Q208.4 316.8 208.5 321.3Z" fill="#6d9f21"/>
<path d="M223.7 321.5Q222.8 316.9 223.2 312.2Q223.6 316.8 224.4 321.4Z" fill="#75a823"/>
<path d="M245.5 321.7Q245.7 316.6 246.9 311.5Q246.8 316.6 246.5 321.8Z" fill="#80b12d"/>
<path d="M270.2 322.1Q266.9 312.8 266.2 302.9Q267.9 312.5 271.2 321.8Z" fill="#a0c73a"/>
<path d="M189.5 322.4Q189.7 317.1 191.2 312Q190.5 317.2 190.3 322.5Z" fill="#84ae25"/>
<path d="M277.6 322.5Q278.7 318.1 278.7 313.7Q279.5 318.2 278.4 322.6Z" fill="#80b428"/>
<path d="M201.4 323.1Q201.3 313.7 203.1 304.5Q202.5 313.8 202.6 323.2Z" fill="#bbcd4a"/>
<path d="M179.6 323.5Q179.9 315.6 183 308.3Q180.9 315.8 180.6 323.7Z" fill="#8bbb30"/>
<path d="M290.4 323.9Q290.8 313.4 289.3 303Q292 313.3 291.6 323.8Z" fill="#b3c843"/>
<path d="M151.9 324Q151.1 318.2 151.6 312.3Q152.4 318.1 153.2 323.9Z" fill="#7baf2d"/>
<path d="M237.7 324.2Q236.7 319.1 237.7 313.8Q237.8 319 238.8 324.2Z" fill="#95c137"/>
<path d="M204.8 325.1Q205.3 318.5 203.7 312.1Q206.1 318.4 205.6 325Z" fill="#8fbd37"/>
<path d="M162.2 325.2Q162.6 317.9 165.1 310.8Q163.8 318 163.3 325.4Z" fill="#76a822"/>
<path d="M265.8 325.4Q266.7 318.5 267.3 311.6Q267.8 318.6 267 325.5Z" fill="#95c338"/>
<path d="M222 326.3Q225.5 316.5 227.1 306.2Q226.8 316.7 223.2 326.6Z" fill="#b8ba37"/>
<path d="M274.5 326.9Q273.5 321.1 273.9 315.2Q274.2 321 275.2 326.9Z" fill="#bcd44d"/>
<path d="M231.4 327.4Q231.3 319.3 233.2 311.4Q232.3 319.4 232.4 327.5Z" fill="#c3d953"/>
<path d="M184.2 327.8Q185.2 321.1 184.8 314.4Q186.5 321.1 185.5 327.8Z" fill="#7eb230"/>
<path d="M150.4 328Q150.8 317.2 148.8 306.6Q151.9 317.1 151.5 327.9Z" fill="#9bc736"/>
<path d="M185.9 328.7Q186 323.3 186.2 317.9Q186.8 323.3 186.8 328.7Z" fill="#78a628"/>
<path d="M208.2 329.4Q206.9 320.8 205.9 312.2Q207.8 320.7 209.2 329.2Z" fill="#a4c942"/>
<path d="M181.6 329.5Q182.9 321.9 182.5 314.2Q184.4 321.9 183.1 329.5Z" fill="#bfc141"/>
<path d="M194.3 330.1Q194.7 323 195.6 315.9Q195.8 323 195.4 330.1Z" fill="#bed44d"/>
<path d="M221.6 330.2Q224.9 320.7 225.1 310.7Q225.8 320.8 222.5 330.4Z" fill="#88b82b"/>
<path d="M295.4 330.8Q296.5 324.8 299.1 319.2Q297.5 325.1 296.4 331.1Z" fill="#b4cd46"/>
<path d="M289.8 331.1Q290.5 322.9 291.4 314.6Q291.6 322.9 290.9 331.2Z" fill="#c2c741"/>
<path d="M272.9 331.8Q272.5 324.3 273.9 316.9Q273.5 324.4 273.9 331.8Z" fill="#c3d851"/>
<path d="M244.7 332.2Q245.5 323.5 247.3 314.9Q246.9 323.7 246 332.3Z" fill="#9fc83a"/>
<path d="M202.5 333Q199.1 323.2 197.3 312.9Q200.5 322.8 203.9 332.6Z" fill="#b5c745"/>
<path d="M286.3 333Q285.3 327 285.6 320.8Q286.3 326.9 287.4 332.9Z" fill="#82b329"/>
<path d="M233.7 333.1Q234.1 323.6 236.3 314.2Q235 323.7 234.6 333.2Z" fill="#93c239"/>
<path d="M277.1 333.4Q278.7 325.5 279.3 317.5Q280.1 325.6 278.5 333.5Z" fill="#a2c93e"/>
<path d="M157.2 333.5Q158.2 327.8 158.7 322Q159.3 327.9 158.2 333.6Z" fill="#b9ce48"/>
<path d="M264.1 333.4Q267 326.3 271.8 320.2Q268 326.9 265.2 333.9Z" fill="#99be34"/>
<path d="M226.1 333.8Q229.1 324.2 230.1 314.2Q230.5 324.4 227.5 334.1Z" fill="#86b22c"/>
<path d="M223 334.4Q223 328 221.5 321.8Q224.3 327.8 224.2 334.2Z" fill="#72a825"/>
<path d="M225.5 334.5Q226.7 326.6 229.1 319Q227.5 326.8 226.3 334.7Z" fill="#c5cb48"/>
<path d="M235.8 334.8Q236.4 328 238.8 321.5Q237.6 328.2 237 335Z" fill="#9bc131"/>
<path d="M235.3 334.8Q238.3 326.7 239.5 318.1Q239.9 327 236.9 335.1Z" fill="#8bba2e"/>
<path d="M201.6 335.2Q200.2 327.7 201.5 320Q201.1 327.6 202.6 335.2Z" fill="#b9d148"/>
<path d="M166.9 336.4Q164.4 326.3 165 315.8Q165.8 326.1 168.3 336.2Z" fill="#81b22b"/>
<path d="M255.1 336.6Q258 327.6 258.6 318.1Q259.4 327.8 256.5 336.8Z" fill="#c8c644"/>
<path d="M240.6 337.6Q241.1 326.1 243 314.7Q242.2 326.2 241.8 337.7Z" fill="#7daa2c"/>
<path d="M162 337.4Q166 327 170 316.6Q167.5 327.5 163.4 337.9Z" fill="#abd042"/>
<path d="M198.4 339.5Q197.6 333.2 198 326.8Q199 333.1 199.9 339.4Z" fill="#87b32e"/>
<path d="M277.2 339.7Q276 332.7 276 325.4Q277.6 332.4 278.8 339.5Z" fill="#b6cf4b"/>
<path d="M229.9 340.4Q229 332.8 228.1 325.2Q230.5 332.5 231.5 340.1Z" fill="#88ba2f"/>
<path d="M153.2 341.2Q152.9 330.5 157.2 320.5Q154.4 330.7 154.6 341.5Z" fill="#7dad2e"/>
<path d="M243.8 341.8Q243.1 335.4 245.1 329.2Q244 335.5 244.7 341.9Z" fill="#88b82f"/>
<path d="M217.6 341.8Q218.8 331.7 220.8 321.7Q220 331.9 218.8 342Z" fill="#99c231"/>
<path d="M262 342.3Q266 329.4 265.7 316Q267.5 329.6 263.5 342.5Z" fill="#71a722"/>
<path d="M201.2 342.6Q200.8 336.3 199.6 330.1Q201.9 336.1 202.3 342.4Z" fill="#a0c73d"/>
<path d="M252.3 343.2Q253.5 330 256 316.9Q254.6 330.1 253.3 343.3Z" fill="#7cad2f"/>
<path d="M195.9 343.3Q194.8 332.2 198.6 321.4Q196.5 332.3 197.6 343.4Z" fill="#84b528"/>
<path d="M258.6 343.6Q256.9 336.9 257.8 329.9Q258.2 336.7 259.9 343.4Z" fill="#bec43f"/>
<path d="M285.9 344.1Q284.3 335.5 283.7 326.6Q286 335.2 287.5 343.8Z" fill="#b7cb49"/>
<path d="M190.2 344.6Q189.6 335.1 188.1 325.7Q191.3 334.8 191.9 344.3Z" fill="#bbd14d"/>
<path d="M214.7 344.6Q212.8 335.2 212.1 325.7Q213.7 335.1 215.6 344.4Z" fill="#a1c93f"/>
<path d="M284.7 345.7Q283.2 339.6 283.1 333.2Q284.3 339.4 285.8 345.5Z" fill="#79ae2c"/>
<path d="M298.7 345.9Q297.9 333.6 300.4 321.6Q299.2 333.7 299.9 345.9Z" fill="#79a829"/>
<path d="M222 346Q223.9 332.1 229.5 319Q225.6 332.5 223.7 346.4Z" fill="#c8ca4d"/>
<path d="M175.6 346.5Q177.3 334.8 179.3 323.2Q178.6 335 176.9 346.6Z" fill="#b8cd49"/>
<path d="M296.1 346.7Q297.4 332.7 300.8 318.9Q299.1 332.9 297.7 346.9Z" fill="#a2cb3c"/>
<path d="M175.7 347.4Q176 335.2 173.2 323.3Q177.2 335 176.9 347.3Z" fill="#bab93b"/>
<path d="M286 348.4Q288.5 337.3 291.8 326.4Q290.3 337.7 287.8 348.8Z" fill="#84b225"/>
<path d="M176.1 349.2Q177.4 338.5 180.6 328.1Q178.9 338.7 177.6 349.4Z" fill="#bdd84f"/>
<path d="M262 350Q261.2 338.3 261.3 326.5Q262.6 338.2 263.4 350Z" fill="#bace4a"/>
<path d="M247.8 350.1Q250.7 344.2 252.6 338Q252.2 344.7 249.2 350.5Z" fill="#8dc136"/>
<path d="M287.4 351.1Q284.5 339.1 285.3 326.6Q286.1 338.9 288.9 350.9Z" fill="#bdd34b"/>
<path d="M177 351Q178.1 344.2 178.9 337.3Q179.8 344.3 178.7 351.2Z" fill="#87bb32"/>
<path d="M270.7 353.1Q271.4 339.5 270.1 325.9Q273.2 339.4 272.5 353Z" fill="#a9cb43"/>
<path d="M198.7 353Q201.9 343.9 202.8 334.4Q203.8 344.2 200.5 353.3Z" fill="#9ec138"/>
<path d="M209 353.5Q205.5 345.1 206.2 335.9Q207 344.8 210.4 353.2Z" fill="#b5c944"/>
<path d="M188.2 353.5Q189.7 344.3 188.2 335.2Q190.9 344.3 189.3 353.5Z" fill="#b6c845"/>
<path d="M279.3 354.4Q276.5 339.3 279.4 324.2Q278 339.3 280.8 354.4Z" fill="#c7ca47"/>
<path d="M160.9 354.7Q160.5 343.7 162 332.8Q161.7 343.7 162.2 354.7Z" fill="#a9ce43"/>
<path d="M231.6 355.9Q231.3 346.2 230 336.6Q233.1 346 233.5 355.6Z" fill="#82b534"/>
<path d="M259.3 356.1Q260.2 343.8 257.7 331.9Q261.6 343.7 260.7 355.9Z" fill="#c4c845"/>
<path d="M271.3 356.7Q270.1 342 273.1 327.4Q272.1 342.1 273.3 356.8Z" fill="#bbd14e"/>
<path d="M200.1 356.7Q200.4 348.9 202.9 341.4Q201.9 349.1 201.7 356.9Z" fill="#93c43c"/>
<path d="M269.3 357.1Q269.9 343.4 266.7 330.3Q271.8 343.2 271.2 356.8Z" fill="#80af29"/>
<path d="M196.2 358.2Q200.9 343.6 200.9 328.3Q202.5 343.8 197.9 358.5Z" fill="#8eba31"/>
<path d="M187.7 359.2Q186.3 347.3 185.9 335.3Q188 347.1 189.5 359Z" fill="#7caa2d"/>
<path d="M230.1 360.1Q233.6 351.2 234.9 342Q235.3 351.6 231.8 360.4Z" fill="#82b42d"/>
<path d="M191.5 361.4Q191.9 345.1 194 328.9Q193.9 345.2 193.5 361.5Z" fill="#7cac28"/>
<path d="M238.6 361.6Q237.6 352.6 239.1 343.6Q239 352.6 240.1 361.6Z" fill="#9dc434"/>
<path d="M167.6 362.7Q165.9 347.7 164.3 332.5Q167.6 347.4 169.3 362.5Z" fill="#83b629"/>
<path d="M242.4 362.8Q243 349.4 244.5 336.1Q244.4 349.5 243.9 362.9Z" fill="#b1c946"/>
<path d="M265.7 364.1Q267 356.8 269.8 349.9Q268.7 357.2 267.4 364.5Z" fill="#b8bb39"/>
<path d="M239 364.7Q233 349.5 232.6 333Q235 349 241 364.2Z" fill="#7db22d"/>
<path d="M165.2 365.1Q164 351.9 165.8 338.6Q165.4 351.9 166.6 365.1Z" fill="#bed94e"/>
<path d="M160 365.9Q159.9 349.1 162.9 332.6Q161.1 349.2 161.2 366Z" fill="#9bbe36"/>
<path d="M185.7 366.7Q185.2 356.1 182.3 346Q187 355.7 187.5 366.3Z" fill="#9dc43a"/>
<path d="M294.1 366.7Q295.1 357.4 297.9 348.5Q297 357.7 296 367Z" fill="#a0c63a"/>
<path d="M171.5 368Q171.8 351.6 176.3 335.7Q173.2 351.8 172.9 368.2Z" fill="#a7d03f"/>
<path d="M251.2 368.2Q255.7 356.9 257.7 345Q257.2 357.3 252.7 368.6Z" fill="#82b132"/>
<path d="M277.1 368.5Q281.4 352.6 280.6 336.1Q282.6 352.7 278.3 368.6Z" fill="#88b82b"/>
<path d="M265.9 368.9Q266.5 353.9 266.5 338.9Q267.9 353.9 267.3 368.9Z" fill="#85b92f"/>
<path d="M219.4 370.1Q223.1 354.2 223.6 338Q224.4 354.4 220.8 370.3Z" fill="#b2c442"/>
<path d="M293.4 370.6Q294.7 356.5 292.2 342.7Q296.8 356.3 295.5 370.4Z" fill="#a6cb3f"/>
<path d="M261.5 372.3Q266.4 355.3 269.1 337.8Q268.4 355.7 263.4 372.7Z" fill="#82b127"/>
<path d="M291 372.7Q292.2 355.2 287.4 338.4Q293.5 355 292.4 372.5Z" fill="#9fc035"/>
<path d="M268 373.4Q270.7 362.3 272.7 351.2Q272.9 362.7 270.2 373.8Z" fill="#70a01e"/>
<path d="M174.1 373.6Q176.3 360 176.4 346.3Q177.5 360.1 175.3 373.7Z" fill="#7ab02c"/>
<path d="M163 374.2Q163.3 357.5 168 341.4Q165.6 357.8 165.4 374.5Z" fill="#c3c848"/>
<path d="M237.9 374.5Q237.5 366.4 237.7 358.2Q239.7 366.2 240 374.3Z" fill="#bdd64f"/>
<path d="M243.8 376.3Q243.1 358.2 240.8 340.2Q245.5 357.9 246.1 376.1Z" fill="#bbc03d"/>
<path d="M193.4 376.3Q196.6 365.3 198.5 354.2Q198.6 365.7 195.4 376.7Z" fill="#9fc43b"/>
<path d="M282.5 377.3Q282.1 361.2 283.7 345.2Q284.2 361.2 284.6 377.3Z" fill="#8bbb31"/>
<path d="M221 377.9Q222.1 358.8 217.9 340.2Q223.9 358.6 222.9 377.7Z" fill="#7aae2c"/>
<path d="M268.5 377.9Q272.4 362.6 279 348.2Q273.8 363.1 269.9 378.4Z" fill="#c6ca44"/>
<path d="M203.5 378.4Q201.8 362.9 203.4 347.2Q204 362.8 205.7 378.3Z" fill="#9cc239"/>
<path d="M151.1 379.2Q153.9 365.3 154.3 351.1Q156.3 365.4 153.5 379.4Z" fill="#84b229"/>
<path d="M298.3 379.4Q300.5 367.7 301.4 355.8Q302.4 367.8 300.2 379.6Z" fill="#83b431"/>
<path d="M173 381.2Q169.6 365.5 167.9 349.5Q171.4 365.2 174.8 380.9Z" fill="#90c439"/>
<path d="M255.4 381.1Q264.4 364.2 267.8 345.5Q266.5 364.8 257.5 381.7Z" fill="#78ab2b"/>
<path d="M219 382.8Q216.5 366.9 218.9 350.8Q218.1 366.8 220.6 382.8Z" fill="#9cc032"/>
<path d="M239.1 384Q237.1 363.9 236.5 343.6Q238.5 363.8 240.5 383.9Z" fill="#a1c83a"/>
<path d="M224.4 386Q225 368 225.9 350.1Q227.1 368.1 226.6 386Z" fill="#8fbf37"/>
<path d="M181.9 386.6Q183.7 366 182.4 345.4Q186.1 366 184.3 386.6Z" fill="#b8d44b"/>
<path d="M279.9 387.3Q279.3 376.6 277.2 366.2Q281.6 376.2 282.2 386.8Z" fill="#b4ba35"/>
<path d="M175.5 387.5Q177.3 371.4 181.5 355.8Q178.9 371.7 177.1 387.8Z" fill="#84b52b"/>
<path d="M194.2 389.5Q191.5 376.3 194.1 362.9Q194.2 376.2 196.9 389.3Z" fill="#c4c945"/>
<path d="M167.9 390.2Q170.3 369 169.6 347.8Q172.5 369.1 170.1 390.2Z" fill="#87b72d"/>
<path d="M193.8 390.8Q189.1 376.4 189.8 361.1Q191.6 376 196.2 390.3Z" fill="#82b629"/>
<path d="M271.5 391.1Q276.4 372.1 284.6 354.1Q279 372.9 274 391.9Z" fill="#77aa28"/>
<path d="M273.9 392.4Q275.3 380.5 274.6 368.6Q277.4 380.5 275.9 392.4Z" fill="#7fae2b"/>
<path d="M186.4 392.8Q187.8 376 186.5 359.2Q189.2 375.9 187.9 392.8Z" fill="#8ab62b"/>
<path d="M266.8 393.4Q266.5 377.4 270 361.6Q269.3 377.6 269.6 393.6Z" fill="#8ebf34"/>
<path d="M275.1 394.8Q269.7 374.5 271.3 353.4Q271.6 374.3 276.9 394.6Z" fill="#bdd549"/>
<path d="M282.8 395.6Q284.1 379.9 288.4 364.8Q286.6 380.3 285.3 395.9Z" fill="#98c437"/>
<path d="M237.4 396Q237.9 377.8 237.6 359.7Q240.8 377.7 240.3 395.9Z" fill="#82b327"/>
<path d="M253.3 396.6Q246.6 376.7 249.3 355.5Q249.3 376.3 256 396.3Z" fill="#7daf2e"/>
<path d="M299.8 399.3Q298.2 384.4 299.3 369.4Q300 384.4 301.6 399.3Z" fill="#aacc44"/>
<path d="M247.1 400.4Q242 387.7 241.7 373.7Q244.9 386.9 250 399.6Z" fill="#bed24c"/>
<path d="M288.6 400.3Q287.3 379.3 293.9 359.1Q290.2 379.6 291.6 400.5Z" fill="#c4cb48"/>
<path d="M203.4 400.6Q212 383 215.9 364.1Q214.7 383.9 206.1 401.4Z" fill="#84af25"/>
<path d="M222.9 401.2Q221.8 378.9 227.6 357.3Q223.4 379.1 224.5 401.3Z" fill="#96be31"/>
<path d="M262.7 402.7Q263.1 387.4 260.9 372.4Q265.8 387.1 265.4 402.4Z" fill="#7ab129"/>
<path d="M179.5 403.2Q180.1 391 183.2 379.1Q182.7 391.3 182.1 403.4Z" fill="#c3c949"/>
<path d="M224.6 404.6Q220.4 394.7 217.3 384.3Q222.8 393.7 227 403.5Z" fill="#b2cc45"/>
<path d="M221.6 404.2Q221.2 392.6 223.5 381.1Q223.6 392.7 224 404.2Z" fill="#bec43f"/>
<path d="M187.1 404.5Q187.1 387.9 188.8 371.4Q190 387.9 190.1 404.5Z" fill="#9ac138"/>
<path d="M247.5 405.1Q244.5 393.5 247.1 381.6Q247 393.4 250 404.9Z" fill="#8bb92f"/>
<path d="M258.4 406.4Q261.5 384.9 267.8 364Q263.8 385.3 260.7 406.9Z" fill="#bdbc3a"/>
<path d="M283.2 407.1Q290 384.4 289.1 361Q292.8 384.7 286 407.4Z" fill="#79b02a"/>
<path d="M151.2 408.3Q153.6 395.8 154 383.2Q156.6 396 154.2 408.5Z" fill="#86b82e"/>
<path d="M297.1 409Q295.9 391 302.9 374Q298.7 391.3 299.9 409.3Z" fill="#c7c648"/>
<path d="M259.6 411.6Q259.8 399.9 258.5 388.3Q263.1 399.5 262.9 411.2Z" fill="#87b52c"/>
<path d="M154.7 411.9Q153.8 390.9 156.8 370Q156.8 391 157.8 411.9Z" fill="#79ad2b"/>
<path d="M225.9 415.6Q221.4 400.6 222.9 384.8Q224.7 400.1 229.2 415.1Z" fill="#9bc334"/>
<path d="M158.3 416.6Q153.1 391.6 156.1 366.2Q154.8 391.5 160 416.5Z" fill="#83b42a"/>
<path d="M291.5 418.3Q291.4 396.5 292.8 374.7Q294.5 396.5 294.7 418.3Z" fill="#84b033"/>
<path d="M196.6 419.1Q195.7 404.6 194.2 390.1Q198.6 404.2 199.4 418.7Z" fill="#6f9e22"/>
<path d="M251.6 422.1Q248.9 396 248.7 369.7Q251 395.8 253.7 421.9Z" fill="#9fc738"/>
<path d="M197.5 422.3Q193 400.3 193.4 377.7Q196.1 399.9 200.6 421.9Z" fill="#b0c542"/>
<path d="M260.1 422.5Q262.3 407.8 261 393.2Q264.6 407.8 262.5 422.4Z" fill="#74a627"/>
<path d="M276.5 424.1Q276.5 401.2 283.1 379.1Q278.7 401.5 278.7 424.4Z" fill="#88be32"/>
<path d="M160.2 424.8Q157.3 411.9 159.4 398.6Q160.5 411.6 163.4 424.5Z" fill="#8fbb32"/>
<path d="M229.5 424.7Q231.2 406.9 233 389.1Q233.1 407 231.4 424.8Z" fill="#94c136"/>
<path d="M252.4 425.9Q259.1 413.7 263.6 400.8Q262.3 414.9 255.7 427.1Z" fill="#a1c839"/>
<path d="M289.8 427.9Q297 414.2 299.7 399.1Q298.9 414.7 291.6 428.4Z" fill="#b0c341"/>
<path d="M229.6 430Q231.1 405.8 227.6 381.8Q233.1 405.7 231.5 429.9Z" fill="#c9cb4c"/>
<path d="M293.5 430.4Q290.1 407.6 286.2 384.9Q293.6 406.9 297 429.7Z" fill="#bdc03f"/>
<path d="M188.8 430.7Q189 411.6 187.3 392.7Q192.3 411.3 192.1 430.4Z" fill="#c0d54b"/>
<path d="M234.9 430.7Q235.5 416.4 240.4 402.8Q238 416.8 237.5 431.1Z" fill="#c7ca46"/>
<path d="M274.6 432.4Q277.3 406.3 279 380.2Q280.5 406.5 277.8 432.6Z" fill="#c5c947"/>
<path d="M279.9 432.8Q284.9 416.1 288.4 399.2Q286.8 416.6 281.8 433.2Z" fill="#7eb532"/>
<path d="M219.3 435Q218 421.5 219.8 407.8Q221.5 421.3 222.8 434.8Z" fill="#96c139"/>
<path d="M229.1 435.5Q224 411.9 216.8 389Q227.5 410.9 232.5 434.5Z" fill="#7dad29"/>
<path d="M219.8 435.6Q224.1 413.2 221.7 390.8Q227.9 413.2 223.6 435.6Z" fill="#7fb12f"/>
<path d="M298.8 436.3Q294.8 409.6 292.3 382.6Q297.3 409.2 301.3 435.9Z" fill="#bcbc3c"/>
<path d="M149.9 437Q146.5 407.6 136.4 380.1Q149.8 406.8 153.1 436.1Z" fill="#8bbc30"/>
<path d="M293 437.1Q295.9 416 293.7 394.9Q297.9 416 295 437Z" fill="#87b52b"/>
<path d="M178.5 437.6Q180.5 414.6 183 391.7Q183.6 414.8 181.6 437.8Z" fill="#9ac034"/>
<path d="M153.3 444Q155.4 422.4 160.9 401.2Q159.3 422.9 157.3 444.5Z" fill="#71a01e"/>
<path d="M166.8 446Q167.1 420.5 172.9 395.5Q171.1 420.9 170.8 446.3Z" fill="#bec13c"/>
<path d="M280.9 447.5Q290.4 421.5 291.7 394Q292.7 421.9 283.3 447.9Z" fill="#8fba35"/>
<path d="M297.1 451.8Q293.8 427.8 300.4 404Q297.2 427.9 300.5 452Z" fill="#8aba30"/>
<path d="M244.1 456.1Q239.6 435.7 240.2 414.7Q241.7 435.4 246.2 455.9Z" fill="#aec83f"/>
<path d="M272.7 457.1Q273.8 440 271.4 423.2Q277.9 439.5 276.8 456.7Z" fill="#a6c940"/>
<path d="M284.6 457.3Q284.2 428.2 290.5 399.6Q286.7 428.4 287.2 457.5Z" fill="#c1d34d"/>
<path d="M176 461.7Q184.9 439.2 189.5 415.6Q189.2 440.2 180.4 462.7Z" fill="#c5ca49"/>
<path d="M153.7 462.4Q153.5 438.8 162.6 416.7Q156.3 439.3 156.5 462.8Z" fill="#bbd04c"/>
<path d="M254.1 462.7Q259.4 440.6 260.6 418.1Q263.1 441 257.9 463.1Z" fill="#93c43b"/>
<path d="M197.5 463Q197.3 440.3 200.3 417.7Q200.8 440.4 201 463.1Z" fill="#73a221"/>
<path d="M244.8 464.2Q249.6 441.3 250.8 417.9Q251.8 441.5 247 464.4Z" fill="#76a425"/>
<path d="M221.2 464.5Q228 440.7 232.6 416.4Q231.8 441.4 225 465.2Z" fill="#9abe33"/>
<path d="M188.8 467.2Q184.6 434.2 178.6 401.5Q188.1 433.5 192.2 466.5Z" fill="#b3c53f"/>
<path d="M284.5 469.5Q278.2 435.6 276.4 401Q282.8 434.9 289.1 468.8Z" fill="#76a725"/>
<path d="M233.4 469.9Q227.7 451.4 226.7 431.8Q230.4 450.8 236.1 469.4Z" fill="#91c233"/>
<path d="M297 471.2Q290.7 443.5 296.1 415.3Q294.8 443.3 301.1 470.9Z" fill="#9fc63b"/>
<path d="M282.3 472.2Q283.5 454.3 286.1 436.6Q286.6 454.5 285.4 472.4Z" fill="#c2c946"/>
<path d="M236.6 472.9Q235.5 455.7 229.8 439.7Q239.3 454.6 240.4 471.9Z" fill="#89bc33"/>
<path d="M279.9 473.1Q285.4 447.1 295.3 422.3Q288.8 448 283.3 474Z" fill="#7eb632"/>
<path d="M248 474.1Q247.8 453.8 255.1 434.5Q251.4 454.3 251.6 474.6Z" fill="#9abc2f"/>
<path d="M217.5 477.2Q218.3 457.6 217.8 438Q221.2 457.5 220.4 477.1Z" fill="#72a020"/>
<path d="M256.8 478.1Q262.2 462.2 263.8 445.6Q265.1 462.7 259.7 478.6Z" fill="#75a626"/>
<path d="M241.3 481.5Q241 464.2 242 446.9Q243.9 464.2 244.1 481.5Z" fill="#bfc13d"/>
<path d="M165.3 483.8Q164.7 462.7 166 441.5Q169.4 462.5 169.9 483.6Z" fill="#a6cb41"/>
<path d="M180.4 485.3Q186.9 456.1 189 426.5Q191 456.6 184.4 485.7Z" fill="#a4ce40"/>
<path d="M182.3 486.4Q187.5 466.3 197.1 447.5Q191.7 467.6 186.5 487.8Z" fill="#9abf34"/>
<path d="M294.2 490.4Q291.4 461.8 281.5 434.9Q294 461.1 296.8 489.7Z" fill="#bcc140"/>
<path d="M247.7 490.6Q241.8 473.2 245.5 454.5Q247 472.5 253 489.9Z" fill="#96bf33"/>
<path d="M295.5 492.4Q284.8 453.9 281.1 414Q289.1 453 299.7 491.5Z" fill="#c1ca49"/>
<path d="M244.3 493.5Q237.9 466.7 241.6 439.1Q241.9 466.4 248.2 493.2Z" fill="#babd40"/>
<path d="M168.2 497.8Q168.3 476.8 172.2 456.1Q172.1 477 172.1 498Z" fill="#93c538"/>
<path d="M173.3 498.8Q178.1 459.3 173.3 419.9Q181.7 459.2 176.9 498.8Z" fill="#b5cf49"/>
<path d="M206.2 500.6Q210.6 480.8 213.3 460.8Q214.6 481.3 210.3 501.1Z" fill="#bed349"/>
<path d="M256.8 501.1Q255.2 481.6 258.6 462.1Q259.6 481.6 261.2 501Z" fill="#a8ce44"/>
<path d="M258.7 501.3Q264.7 480.3 270.8 459.3Q268.5 481.2 262.5 502.2Z" fill="#7dae2c"/>
<path d="M209 505.2Q210.5 470.8 201.4 438Q215.3 470.1 213.8 504.5Z" fill="#b5bb38"/>
<path d="M211.2 507.4Q204.1 466 205.3 423.8Q209.2 465.5 216.3 506.9Z" fill="#a6cf41"/>
<path d="M238.5 508.8Q237.2 465.3 238.5 421.7Q242.5 465.1 243.8 508.7Z" fill="#c0c342"/>
<path d="M211.1 510.2Q202.6 476.6 192.9 443.3Q205.2 475.8 213.8 509.4Z" fill="#b9c23c"/>
<path d="M199.1 511.2Q194.2 487.9 197 463.9Q199.5 487.4 204.5 510.7Z" fill="#8ab933"/>
<path d="M220.3 513.8Q230.7 480.7 241.9 447.9Q233.5 481.6 223.1 514.7Z" fill="#80b328"/>
<path d="M199.9 514.7Q192.5 478 187.4 441Q196.2 477.3 203.5 513.9Z" fill="#90bd35"/>
<path d="M229.5 517.1Q230 487.6 227.7 458.4Q235 487.3 234.4 516.7Z" fill="#99bf35"/>
<path d="M216 517.7Q214.4 488.4 209.4 459.6Q217.9 487.8 219.5 517.1Z" fill="#6ea121"/>
<path d="M244.6 523.2Q241.3 476.5 231.9 430.8Q245.3 475.9 248.6 522.6Z" fill="#95bb2f"/>
<path d="M199.1 522.8Q195.8 498.5 204 474.7Q201.2 498.8 204.4 523.1Z" fill="#8db731"/>
<path d="M165.1 526.9Q168.1 505.4 165.1 484.2Q173.2 505.1 170.2 526.6Z" fill="#89be30"/>
<path d="M269.5 527.7Q263.5 498.1 256.9 468.7Q267.3 497.2 273.3 526.8Z" fill="#bbba3d"/>
<path d="M153.6 532.4Q152.6 506.1 154.6 479.9Q156.2 506.1 157.3 532.3Z" fill="#79ad2a"/>
<path d="M196.5 536.8Q202.5 500.5 203.1 463.9Q205.9 500.7 199.9 537Z" fill="#babd38"/>
<path d="M272.8 539.8Q274.8 495.3 275.9 450.8Q278.3 495.4 276.3 539.9Z" fill="#b9cd49"/>
<path d="M175.4 541.8Q179.9 495.7 201.8 454.3Q184.8 497 180.3 543.1Z" fill="#83b134"/>
<g filter="url(#fz)" fill="none" stroke-linecap="round">
<path d="M280.1 305.4Q280.1 304.4 281.2 310.3" stroke="#e2cb4d" stroke-width="1.2"/>
<path d="M232.3 305.8Q232.1 304.8 230.9 310.8" stroke="#dfcc4e" stroke-width="1.1"/>
<path d="M218.5 306.2Q217.4 305.1 215.9 311.3" stroke="#c6aa32" stroke-width="0.8"/>
<path d="M273.3 304.1Q274.5 302.3 276.7 312.1" stroke="#dabc46" stroke-width="1.1"/>
<path d="M219.6 307.5Q219 306.6 218 311.2" stroke="#dfc955" stroke-width="1.0"/>
<path d="M253.5 307.7Q254.5 306.8 255.6 311.5" stroke="#cfb93b" stroke-width="1.1"/>
<path d="M190.8 307.3Q190.9 306.3 191.9 311.7" stroke="#dbc552" stroke-width="1.2"/>
<path d="M251.7 306.6Q253.2 305.4 255 312.4" stroke="#ecd65d" stroke-width="0.9"/>
<path d="M158.7 307.8Q159.7 306.8 161.1 312.4" stroke="#f9e580" stroke-width="1.3"/>
<path d="M183.7 306.3Q185.6 304.7 187.8 313.3" stroke="#e6d35d" stroke-width="1.2"/>
<path d="M298.8 307.7Q299.9 306.5 301.4 313.2" stroke="#c7b037" stroke-width="1.0"/>
<path d="M191.2 307.1Q192.3 305.4 194.5 314.9" stroke="#ead35c" stroke-width="1.2"/>
<path d="M242.5 308.3Q242.1 306.7 240.4 315.2" stroke="#e8d971" stroke-width="1.2"/>
<path d="M269.8 308.1Q270.6 306.4 272.5 315.3" stroke="#ebd76c" stroke-width="0.8"/>
<path d="M199.9 309.5Q201 308.3 202.6 315" stroke="#ebd860" stroke-width="1.2"/>
<path d="M169 310.3Q169 309.2 170.1 315.2" stroke="#d3b841" stroke-width="0.8"/>
<path d="M244.4 310.2Q242.9 309.1 241.2 315.4" stroke="#d3b63d" stroke-width="1.2"/>
<path d="M207.7 308.4Q209 306.7 211.1 316" stroke="#dfc448" stroke-width="0.8"/>
<path d="M215.7 310.5Q217.3 309.3 219 316" stroke="#f6e87d" stroke-width="0.8"/>
<path d="M264.4 310.3Q264.3 309 263 316.1" stroke="#d9c03e" stroke-width="1.0"/>
<path d="M254.3 308.7Q255.7 306.9 258 316.8" stroke="#e7cd59" stroke-width="1.4"/>
<path d="M276.5 311.8Q276.1 310.9 275.1 315.9" stroke="#e0c852" stroke-width="0.8"/>
<path d="M201.5 311Q201.4 309.8 200.2 316.5" stroke="#d2bc3f" stroke-width="1.2"/>
<path d="M290.1 311.4Q288.8 310.3 287.2 316.5" stroke="#ead56d" stroke-width="0.9"/>
<path d="M217.8 310.3Q216 308.9 213.9 316.9" stroke="#f8e77d" stroke-width="1.2"/>
<path d="M276.5 310.6Q277.9 309.2 279.8 316.9" stroke="#dcbd40" stroke-width="1.0"/>
<path d="M292.7 309.2Q292.7 307.3 294.6 317.7" stroke="#f3e57b" stroke-width="0.9"/>
<path d="M163.4 311.9Q163.5 310.6 164.9 317.8" stroke="#f5e481" stroke-width="1.0"/>
<path d="M215.8 312.4Q214.2 311 212.3 318.6" stroke="#e3c547" stroke-width="1.2"/>
<path d="M193.3 312.8Q192.4 311.5 190.8 318.9" stroke="#dac246" stroke-width="1.2"/>
<path d="M172.3 312.4Q172.5 311 174.1 319" stroke="#e6db6e" stroke-width="0.9"/>
<path d="M280.7 314.5Q279.9 313.6 278.7 318.6" stroke="#dfc447" stroke-width="1.4"/>
<path d="M281.9 311.1Q281.5 309.3 279.5 319.6" stroke="#e3d057" stroke-width="1.5"/>
<path d="M166.3 312Q167.8 310.3 170 319.7" stroke="#efe179" stroke-width="1.2"/>
<path d="M246.5 313.2Q248.5 311.8 250.6 319.6" stroke="#cbae35" stroke-width="1.3"/>
<path d="M205.1 314.7Q205.2 313.6 206.4 319.6" stroke="#ccb03a" stroke-width="1.0"/>
<path d="M283 315Q283.8 313.9 285.2 320.1" stroke="#f0db60" stroke-width="1.4"/>
<path d="M191.3 312.4Q190.2 310.4 187.8 321.2" stroke="#e9d15b" stroke-width="1.2"/>
<path d="M210 313.7Q211.1 312.2 213 320.8" stroke="#fae47e" stroke-width="1.1"/>
<path d="M200.3 314.2Q199.4 312.7 197.6 321.2" stroke="#d3ba40" stroke-width="1.3"/>
<path d="M227.8 313.7Q229.8 311.9 232.2 321.6" stroke="#e7c74b" stroke-width="1.1"/>
<path d="M231.4 316.9Q231.1 316.1 230.2 320.8" stroke="#d4b83a" stroke-width="1.4"/>
<path d="M281.1 316.6Q281.6 315.6 282.7 321.1" stroke="#f1d561" stroke-width="1.2"/>
<path d="M257.1 315.4Q256.1 314.1 254.5 321.5" stroke="#dfc94a" stroke-width="1.4"/>
<path d="M158 315.8Q159.9 314.5 161.8 321.5" stroke="#eed55d" stroke-width="0.9"/>
<path d="M283.9 314.1Q282.6 312.3 280.4 322.6" stroke="#d2b63a" stroke-width="0.9"/>
<path d="M258.2 317Q259.3 316 260.7 321.8" stroke="#d8bf40" stroke-width="1.3"/>
<path d="M281.8 314.2Q284.1 312.2 286.8 322.9" stroke="#e8d56c" stroke-width="1.2"/>
<path d="M295.5 317.7Q296.7 316.8 298.1 322" stroke="#dcc643" stroke-width="0.9"/>
<path d="M197.3 315.5Q196.9 313.8 195.1 322.9" stroke="#f5e47b" stroke-width="1.3"/>
<path d="M154.6 317.3Q156.3 316.1 158 322.8" stroke="#e3cd54" stroke-width="1.5"/>
<path d="M228.4 317Q229.2 315.5 230.9 323.7" stroke="#cbb337" stroke-width="1.1"/>
<path d="M294.4 315.8Q296.3 313.8 298.8 324.4" stroke="#f0d95c" stroke-width="1.2"/>
<path d="M255.3 316.2Q254.3 314.4 252.1 324.3" stroke="#d0b337" stroke-width="1.1"/>
<path d="M242 316.3Q244.6 314.4 247.4 324.8" stroke="#e8d76e" stroke-width="1.0"/>
<path d="M232.4 319.2Q233.4 318.1 234.8 324" stroke="#ead65f" stroke-width="1.4"/>
<path d="M224.9 317Q224.6 315.2 222.8 324.8" stroke="#d4b93e" stroke-width="1.0"/>
<path d="M196.9 317.2Q195.3 315.4 193.1 325" stroke="#d8bb3f" stroke-width="1.2"/>
<path d="M220.6 317.9Q219.9 316.3 218.2 324.9" stroke="#f2dd76" stroke-width="1.0"/>
<path d="M263.3 317.7Q262.6 316 260.7 324.9" stroke="#e9da6e" stroke-width="1.0"/>
<path d="M247.8 317.5Q248.4 315.8 250.3 325.1" stroke="#e2c349" stroke-width="1.0"/>
<path d="M228.1 319.9Q229.1 318.7 230.6 325.2" stroke="#e6d96c" stroke-width="1.3"/>
<path d="M273.4 318.8Q275.6 317.3 277.9 325.9" stroke="#d1b83c" stroke-width="1.0"/>
<path d="M175.1 318.3Q176.9 316.5 179.4 326.4" stroke="#d6b841" stroke-width="0.9"/>
<path d="M163.5 321.5Q162.6 320.5 161.4 325.9" stroke="#ead45f" stroke-width="1.1"/>
<path d="M182 319.1Q184 317.2 186.4 327.2" stroke="#e3cf53" stroke-width="1.5"/>
<path d="M205.8 321.8Q206.6 320.6 208.1 327" stroke="#eddb70" stroke-width="1.6"/>
<path d="M212.6 318.7Q209.5 316.5 206.4 328.2" stroke="#e2d76a" stroke-width="1.1"/>
<path d="M233.5 319.6Q230.6 317.6 227.6 328.4" stroke="#eed45b" stroke-width="1.3"/>
<path d="M175.5 322.1Q175.4 320.8 174.1 328.2" stroke="#d8c045" stroke-width="1.2"/>
<path d="M224.9 323.6Q226.4 322.6 227.9 328.1" stroke="#dcc84d" stroke-width="1.4"/>
<path d="M218.5 323.8Q220 322.8 221.5 328.4" stroke="#ebd55f" stroke-width="1.3"/>
<path d="M265 320.9Q265.5 319 267.5 329.4" stroke="#e7d358" stroke-width="1.2"/>
<path d="M279.5 322.6Q279.9 321.1 281.5 329.4" stroke="#d6b639" stroke-width="1.2"/>
<path d="M223.2 323.4Q225.2 321.8 227.5 330.7" stroke="#e4c954" stroke-width="1.2"/>
<path d="M201.5 325.8Q200.7 324.6 199.3 331" stroke="#f3e078" stroke-width="1.3"/>
<path d="M262 322.5Q261.3 320.4 258.9 332.2" stroke="#d8be3f" stroke-width="1.2"/>
<path d="M197.1 322.4Q198.1 320.1 200.7 332.4" stroke="#f4e578" stroke-width="1.7"/>
<path d="M276.6 323.8Q276.5 321.9 274.5 332.4" stroke="#c8ab33" stroke-width="1.4"/>
<path d="M237.9 326Q238.8 324.7 240.3 331.8" stroke="#e2cd52" stroke-width="1.4"/>
<path d="M251.7 325.1Q252.7 323.4 254.8 332.6" stroke="#d9b744" stroke-width="1.4"/>
<path d="M221.4 326.8Q221.3 325.4 220 333" stroke="#d5b841" stroke-width="1.7"/>
<path d="M263.9 327.8Q263.2 326.7 261.9 332.9" stroke="#f3e27a" stroke-width="1.3"/>
<path d="M244.2 324.5Q244.3 322.4 246.4 334" stroke="#d5bc40" stroke-width="1.8"/>
<path d="M200.2 326.8Q202.4 325.3 204.7 334" stroke="#d5bc43" stroke-width="1.5"/>
<path d="M172.4 325.8Q174.3 323.8 176.9 334.6" stroke="#f4e076" stroke-width="1.2"/>
<path d="M203.7 327.5Q204 326 205.6 334.3" stroke="#d2b83e" stroke-width="1.2"/>
<path d="M284.3 326.9Q284.4 325.2 286.2 334.8" stroke="#e3d16c" stroke-width="1.2"/>
<path d="M169.7 329.4Q169.9 328.3 171.1 334.4" stroke="#ccae37" stroke-width="1.1"/>
<path d="M285.8 328Q283.7 326.5 281.5 334.8" stroke="#d9bb42" stroke-width="1.2"/>
<path d="M195.9 325.8Q198.5 323.6 201.6 335.8" stroke="#eee173" stroke-width="1.2"/>
<path d="M282.8 325.8Q285.7 323.4 289 336.5" stroke="#cdae35" stroke-width="1.7"/>
<path d="M226.9 329Q226.8 327.4 225.2 336.1" stroke="#e5ce54" stroke-width="1.8"/>
<path d="M161.3 328.3Q164 326.4 166.7 336.5" stroke="#dbc646" stroke-width="1.1"/>
<path d="M192.3 329.1Q194.7 327.5 197.1 336.4" stroke="#d0b73b" stroke-width="1.0"/>
<path d="M200.6 329.1Q200.9 327.2 202.8 337.4" stroke="#c3ab33" stroke-width="1.8"/>
<path d="M178.3 329.7Q178 327.8 176 338.1" stroke="#dec54a" stroke-width="1.3"/>
<path d="M186.3 328.7Q186.5 326.3 189 339.9" stroke="#efe276" stroke-width="1.2"/>
<path d="M282.2 330.8Q280.7 328.7 278.2 339.9" stroke="#e0c64a" stroke-width="1.4"/>
<path d="M277.8 330.6Q275.6 328.5 272.7 340.1" stroke="#dfca51" stroke-width="1.5"/>
<path d="M238.7 330.3Q239.8 328.1 242.4 340.2" stroke="#ccaf3a" stroke-width="1.7"/>
<path d="M212.5 332.2Q210 330.2 207.2 341.1" stroke="#e3c845" stroke-width="1.5"/>
<path d="M239.3 331.7Q239.3 329.5 241.5 341.8" stroke="#f0df75" stroke-width="1.4"/>
<path d="M278.5 331.6Q278 329.2 275.3 342.5" stroke="#ecd360" stroke-width="1.8"/>
<path d="M294.8 335.7Q294.3 334.3 292.8 341.7" stroke="#c7ab30" stroke-width="1.6"/>
<path d="M153 333.3Q154.7 331.2 157.3 342.4" stroke="#ebd561" stroke-width="1.9"/>
<path d="M157.5 332.4Q156.1 329.8 153.1 343.8" stroke="#d2b745" stroke-width="1.6"/>
<path d="M236.5 335.5Q238.1 333.8 240.4 343.3" stroke="#eddc76" stroke-width="2.0"/>
<path d="M256.2 336.6Q255 335.1 253.1 343.3" stroke="#e7da6d" stroke-width="1.3"/>
<path d="M232.9 332.8Q231.6 330.1 228.6 344.7" stroke="#ecdf77" stroke-width="1.2"/>
<path d="M254.8 336.9Q255.1 335.3 256.8 343.9" stroke="#ceba3b" stroke-width="1.8"/>
<path d="M176 335.6Q173.6 333.5 170.8 344.8" stroke="#e4ce5a" stroke-width="1.2"/>
<path d="M165.3 336.4Q167.5 334.6 170.2 344.9" stroke="#e5ce57" stroke-width="1.7"/>
<path d="M294.4 336.4Q296.8 334.3 299.7 345.8" stroke="#d4bc3a" stroke-width="1.6"/>
<path d="M281.1 340.4Q283.1 338.8 285.3 347.2" stroke="#eedf72" stroke-width="1.6"/>
<path d="M283.3 336.3Q280.8 333.5 277.2 348.7" stroke="#ede075" stroke-width="1.6"/>
<path d="M248.9 342.1Q249.5 340.9 250.9 347.7" stroke="#d7b63e" stroke-width="1.5"/>
<path d="M234.6 338.4Q233.6 335.6 230.4 351.3" stroke="#d2b840" stroke-width="2.0"/>
<path d="M268.8 341Q270.3 338.9 273 350.7" stroke="#efdd76" stroke-width="1.8"/>
<path d="M277.2 340.4Q276 338 273.3 351.1" stroke="#ecdd71" stroke-width="1.7"/>
<path d="M175.3 341.3Q173.8 339.2 171.2 351" stroke="#d3bc3f" stroke-width="1.6"/>
<path d="M292.8 342Q293.7 340.1 296 350.8" stroke="#dcca50" stroke-width="1.5"/>
<path d="M171.8 339.6Q171.4 336.8 168.4 352.2" stroke="#d1bc3a" stroke-width="2.1"/>
<path d="M255.4 341.8Q258.6 339.4 262 352.5" stroke="#d0b537" stroke-width="1.7"/>
<path d="M259.9 344.5Q261.4 342.8 263.5 351.9" stroke="#d6b63f" stroke-width="1.3"/>
<path d="M259.3 344.9Q259 343.2 257.2 352.2" stroke="#f6e67c" stroke-width="1.4"/>
<path d="M165 343.8Q164.5 341.8 162.4 352.8" stroke="#f9e97f" stroke-width="1.6"/>
<path d="M173.8 340.6Q175.5 337.7 179 353.8" stroke="#ebd05e" stroke-width="2.0"/>
<path d="M231.3 346.2Q230.5 344.8 228.8 352.5" stroke="#d2bb3e" stroke-width="1.4"/>
<path d="M279.5 342.1Q276.5 339.5 272.9 353.7" stroke="#cbad38" stroke-width="1.4"/>
<path d="M263.8 346Q265.9 344.6 268.1 352.7" stroke="#dcbd42" stroke-width="2.3"/>
<path d="M252.8 345.6Q253.7 343.9 255.7 353.2" stroke="#ebd45b" stroke-width="1.3"/>
<path d="M244.2 344.7Q243.8 342.8 241.7 353.5" stroke="#cdad38" stroke-width="1.6"/>
<path d="M223.4 347.2Q222.7 345.7 221 353.8" stroke="#d6ba45" stroke-width="1.3"/>
<path d="M247.4 344.3Q249.5 341.9 252.6 355" stroke="#dfc751" stroke-width="1.8"/>
<path d="M284.3 348.2Q284.7 346.5 286.5 355.8" stroke="#e8d45a" stroke-width="2.0"/>
<path d="M210.1 346.4Q209.9 344.1 207.5 356.7" stroke="#f3e076" stroke-width="1.3"/>
<path d="M289.6 345Q291.3 342.3 294.6 357.2" stroke="#fbe87f" stroke-width="1.6"/>
<path d="M185.7 348.8Q183.8 346.8 181.2 357.6" stroke="#d6bc3e" stroke-width="2.0"/>
<path d="M203.3 348.2Q205.5 346 208.3 358" stroke="#ecdc72" stroke-width="1.5"/>
<path d="M278.6 346.2Q275.6 343.3 271.7 359.3" stroke="#d8be43" stroke-width="2.2"/>
<path d="M155.8 348.2Q152.5 345.5 148.8 360.1" stroke="#dec542" stroke-width="2.4"/>
<path d="M164.3 349.1Q161.8 346.4 158.3 361.1" stroke="#d2bc43" stroke-width="1.7"/>
<path d="M250.4 348.2Q249.2 345.1 245.7 361.9" stroke="#f3e579" stroke-width="1.6"/>
<path d="M257.2 348.4Q256.3 345.4 252.9 362.1" stroke="#dac444" stroke-width="2.4"/>
<path d="M216.5 351.7Q213.8 349.6 210.8 361.3" stroke="#cfb23c" stroke-width="2.1"/>
<path d="M174.1 350.6Q175.6 348.1 178.6 361.9" stroke="#ebd55b" stroke-width="2.3"/>
<path d="M270.3 354.7Q271.3 353 273.4 362.4" stroke="#dec84c" stroke-width="1.8"/>
<path d="M280.5 350.5Q277 347.5 272.8 364.2" stroke="#f1e176" stroke-width="2.3"/>
<path d="M271.7 351.6Q271.1 348.7 268 364.4" stroke="#d8c13f" stroke-width="1.4"/>
<path d="M265.7 356.9Q266.5 355.4 268.3 363.8" stroke="#d5bc3e" stroke-width="2.5"/>
<path d="M178.7 355Q179.9 352.8 182.5 364.7" stroke="#c6ac32" stroke-width="1.4"/>
<path d="M295.5 357.4Q294.6 355.5 292.4 365.6" stroke="#ccad39" stroke-width="1.5"/>
<path d="M177.9 358Q176.5 356.3 174.4 365.7" stroke="#d5bc45" stroke-width="1.7"/>
<path d="M278.1 354.3Q277.5 351.6 274.5 366.9" stroke="#e7cf58" stroke-width="2.6"/>
<path d="M232.5 359Q233.4 357.6 235.1 365.6" stroke="#d6bf42" stroke-width="1.9"/>
<path d="M265.1 353Q262.9 349.8 259 367.4" stroke="#dac450" stroke-width="2.5"/>
<path d="M248.9 355Q247.2 352.1 243.8 367.8" stroke="#c6a832" stroke-width="1.5"/>
<path d="M289.4 353.4Q291.1 350 295 368.3" stroke="#dcbf43" stroke-width="2.1"/>
<path d="M220.6 355.4Q225.2 352.2 229.9 369.9" stroke="#f6e378" stroke-width="1.8"/>
<path d="M273.1 360.1Q273.7 357.8 276.2 370.5" stroke="#d0ae37" stroke-width="2.3"/>
<path d="M229.7 357.4Q225.3 354.2 220.7 371.4" stroke="#dbc64e" stroke-width="1.8"/>
<path d="M169.4 356.6Q167.8 353 163.7 372.6" stroke="#d7b93c" stroke-width="1.7"/>
<path d="M172.8 361.3Q172.2 359 169.7 371.8" stroke="#f0d861" stroke-width="1.8"/>
<path d="M184 360.5Q181.6 357.8 178.1 372.5" stroke="#edd95d" stroke-width="2.0"/>
<path d="M181.8 362.4Q182.7 360.2 185.3 372.8" stroke="#dac543" stroke-width="1.8"/>
<path d="M238 364.2Q235.9 362.1 233.1 373.6" stroke="#c5aa33" stroke-width="2.1"/>
<path d="M239.5 362Q239.4 358.8 236.2 376.3" stroke="#f4e175" stroke-width="2.6"/>
<path d="M188.5 363.7Q190.3 360.9 193.6 375.9" stroke="#d3b63d" stroke-width="2.1"/>
<path d="M195.3 362.3Q198.1 359.1 202.2 376.7" stroke="#d9bd42" stroke-width="2.8"/>
<path d="M160.5 364.6Q157.6 361.9 154 377" stroke="#cbaf3a" stroke-width="2.2"/>
<path d="M274.1 368.6Q272.8 366.9 270.7 376.3" stroke="#d8b946" stroke-width="2.4"/>
<path d="M269.4 367.9Q269.9 365.9 272.1 376.9" stroke="#e4d258" stroke-width="2.9"/>
<path d="M171 367.7Q170.9 365 168.2 379.7" stroke="#d1b33c" stroke-width="2.1"/>
<path d="M255.3 369.4Q255.6 367.1 258 379.7" stroke="#e9d66e" stroke-width="1.7"/>
<path d="M255.1 367.2Q256.6 364 260.3 381.6" stroke="#e9d356" stroke-width="2.2"/>
<path d="M203.5 366Q198.6 362.5 193.4 381.9" stroke="#e8d258" stroke-width="2.9"/>
<path d="M196 367.3Q192.7 364.1 188.4 381.6" stroke="#f6e87d" stroke-width="2.8"/>
<path d="M228.2 370.7Q229.7 368.2 232.6 381.8" stroke="#e3d56c" stroke-width="2.6"/>
<path d="M288.9 373.6Q289.8 371.7 292 382" stroke="#cfb73e" stroke-width="3.1"/>
<path d="M274 370.8Q270.3 367.9 266.1 384" stroke="#e3ca4b" stroke-width="2.3"/>
<path d="M198.7 374.2Q198.9 372.2 201 383.3" stroke="#ead46a" stroke-width="2.4"/>
<path d="M179.6 372.3Q183.4 369.7 187.3 384.2" stroke="#dec249" stroke-width="2.7"/>
<path d="M220.8 373.2Q222.1 370.6 225.2 384.9" stroke="#c4a833" stroke-width="1.9"/>
<path d="M223 377Q224.4 375.1 226.8 385.6" stroke="#f0dc76" stroke-width="2.8"/>
<path d="M284 370.5Q282.4 366.6 278 387.9" stroke="#e6d16b" stroke-width="2.3"/>
<path d="M194.1 375.3Q193 372.7 190 386.8" stroke="#d3bb3f" stroke-width="2.9"/>
<path d="M209.7 378.9Q208.3 376.9 205.8 388.1" stroke="#c6b036" stroke-width="1.8"/>
<path d="M199.7 374.9Q200.9 371.6 204.6 389.8" stroke="#e0ce52" stroke-width="1.8"/>
<path d="M171.2 380.5Q168.8 378.4 165.9 390" stroke="#d0b93b" stroke-width="2.3"/>
<path d="M227.1 381Q226.1 378.4 223.2 392.9" stroke="#f5e578" stroke-width="2.7"/>
<path d="M273 381.5Q275.1 378.8 278.5 393.7" stroke="#e9d86c" stroke-width="2.4"/>
<path d="M158.6 382Q162.2 379.1 166.3 395" stroke="#eddd74" stroke-width="2.1"/>
<path d="M166.7 382.9Q163.8 380.1 160.1 395.3" stroke="#edde78" stroke-width="3.2"/>
<path d="M218.5 378Q224.5 373.8 230.8 396.8" stroke="#dfc849" stroke-width="3.3"/>
<path d="M183.6 379.4Q183.3 375.6 179.3 396.8" stroke="#dac343" stroke-width="2.7"/>
<path d="M196.2 383.5Q200.1 380.7 204.2 396.1" stroke="#ccad37" stroke-width="2.5"/>
<path d="M225.3 381.4Q222.3 377.6 217.5 398.5" stroke="#edd771" stroke-width="2.7"/>
<path d="M183.8 384.3Q180.9 381 176.7 399.1" stroke="#ddcc52" stroke-width="3.1"/>
<path d="M173.7 381.9Q178 377.8 183.5 400.2" stroke="#f9e87e" stroke-width="2.0"/>
<path d="M287.1 391.4Q287.1 388.4 290.1 404.8" stroke="#e5d46f" stroke-width="2.7"/>
<path d="M154.4 394.6Q153 391.4 149.3 409.1" stroke="#ecd25e" stroke-width="3.1"/>
<path d="M194.7 390.3Q201.7 385.6 208.8 411.7" stroke="#eeda61" stroke-width="3.7"/>
<path d="M168.7 395.3Q167.1 391.8 163.1 410.9" stroke="#cdb13a" stroke-width="2.1"/>
<path d="M224.8 398.8Q225.8 396.3 228.6 409.9" stroke="#e1cb53" stroke-width="3.8"/>
<path d="M228.8 400.1Q227.2 397.8 224.4 410.5" stroke="#edd75e" stroke-width="3.5"/>
<path d="M261.2 395Q264.8 390.3 270.7 416" stroke="#cbb339" stroke-width="3.4"/>
<path d="M176.2 404.6Q180.3 401.7 184.6 417.6" stroke="#edd360" stroke-width="3.2"/>
<path d="M245.6 399.1Q247.6 394.6 252.8 419.6" stroke="#d7bf3f" stroke-width="2.5"/>
<path d="M204.7 407.3Q202.9 404.4 199.5 420.3" stroke="#e2ca47" stroke-width="2.2"/>
<path d="M166.3 405.8Q168.1 402.2 172.4 422.3" stroke="#f4e77e" stroke-width="3.9"/>
<path d="M295.5 404.4Q294.5 400.3 290 422.8" stroke="#e7d66b" stroke-width="3.7"/>
<path d="M168.2 407.3Q169.2 403.1 173.8 426.3" stroke="#f0d661" stroke-width="2.8"/>
<path d="M249 406.3Q245.5 401.4 239.4 428.5" stroke="#e2ca49" stroke-width="3.5"/>
<path d="M240.9 405.7Q241.1 400.4 246.5 429.7" stroke="#dcc346" stroke-width="3.0"/>
<path d="M267 415.3Q264.9 412.2 261.1 429.1" stroke="#f7e679" stroke-width="3.2"/>
<path d="M177.4 416.3Q179.3 412.7 183.6 432.7" stroke="#d0b53f" stroke-width="4.4"/>
<path d="M299.3 423.1Q300.8 420.1 304.3 436.9" stroke="#ddca50" stroke-width="3.9"/>
<path d="M222.4 416Q217.6 410.1 210.1 442.5" stroke="#d5b541" stroke-width="4.0"/>
<path d="M274.9 424.1Q273.3 419.2 267.9 446" stroke="#d2b43d" stroke-width="3.0"/>
<path d="M262.6 422.8Q262.4 417.3 257 447.2" stroke="#e0cc54" stroke-width="4.7"/>
<path d="M193.7 433Q197.9 430.1 202.1 445.8" stroke="#f2e87b" stroke-width="3.3"/>
<path d="M282.8 435.6Q286.7 432.4 291.2 449.7" stroke="#eed870" stroke-width="3.0"/>
<path d="M215.6 427.4Q216.4 421.7 222.5 453.5" stroke="#d1b740" stroke-width="3.9"/>
<path d="M198.2 437Q199.9 433.9 203.5 450.8" stroke="#d3b738" stroke-width="3.9"/>
<path d="M300.2 434.2Q304 429.7 309.8 454.5" stroke="#e9d770" stroke-width="4.6"/>
<path d="M193.6 430.1Q187.9 424 179.9 457.5" stroke="#e6d66c" stroke-width="4.4"/>
<path d="M209.5 434.2Q216.7 428.4 225 460.3" stroke="#dfc348" stroke-width="4.1"/>
<path d="M271.2 444.4Q270.6 441.5 267.4 457.5" stroke="#e4cb57" stroke-width="2.8"/>
<path d="M161.2 437.9Q162.1 432.8 167.5 460.8" stroke="#e6d56e" stroke-width="2.9"/>
<path d="M219.5 438.8Q215.1 433.9 208.8 460.5" stroke="#f8e87d" stroke-width="4.9"/>
<path d="M256.9 444.9Q256.7 441.8 253.6 458.9" stroke="#dabd3f" stroke-width="4.5"/>
<path d="M240.7 441.4Q246.3 437.2 252.3 460.5" stroke="#e2cc53" stroke-width="3.7"/>
<path d="M186 435.1Q185.6 428.9 179.3 462.7" stroke="#dcc547" stroke-width="3.0"/>
<path d="M224.7 434.6Q226.2 428.3 233 462.9" stroke="#dfc342" stroke-width="3.7"/>
<path d="M180.6 440.8Q176 435.8 169.5 462.9" stroke="#d4b73c" stroke-width="3.0"/>
<path d="M159.6 445.5Q158.8 441.8 154.8 462.3" stroke="#d0b839" stroke-width="5.2"/>
<path d="M191 444.2Q187.7 438.4 180.9 470" stroke="#dfc450" stroke-width="3.7"/>
<path d="M241.6 455.2Q239.9 451.8 235.9 470.9" stroke="#d9be3e" stroke-width="3.4"/>
<path d="M235.8 456.7Q234.1 453.4 230.2 471.7" stroke="#dfc752" stroke-width="3.8"/>
<path d="M231.9 459.3Q233.5 455.8 237.5 475" stroke="#d8c246" stroke-width="5.1"/>
<path d="M172.9 460.7Q172.1 456.6 167.7 479.1" stroke="#f6e87d" stroke-width="4.9"/>
<path d="M229.2 457.6Q234.4 451.7 242 483.8" stroke="#dfc84d" stroke-width="3.6"/>
<path d="M278.4 469.9Q282.9 465.6 288.7 489.3" stroke="#f2e878" stroke-width="3.6"/>
<path d="M222.6 462.3Q226.3 455.3 234.5 493.7" stroke="#e6cf56" stroke-width="3.7"/>
<path d="M283.4 474.9Q279.6 471.4 274.7 491" stroke="#f3e27d" stroke-width="4.2"/>
<path d="M174.6 478Q169.9 474.5 164.9 493.7" stroke="#e4cb56" stroke-width="3.9"/>
<path d="M251.5 477.7Q254.4 470.3 262.8 510.8" stroke="#dabf43" stroke-width="4.6"/>
<path d="M193.7 479.1Q192.8 471.9 185.3 511.3" stroke="#d9bb3c" stroke-width="3.6"/>
<path d="M212.8 492.1Q216.3 487.2 222.3 513.9" stroke="#eeda5f" stroke-width="4.7"/>
<path d="M273.1 488.3Q272.4 480.9 264.8 521.4" stroke="#e0c242" stroke-width="6.3"/>
<path d="M202.7 497.9Q200.6 492.8 194.8 520.8" stroke="#d4b93b" stroke-width="4.5"/>
<path d="M250.7 500.1Q251.6 495.5 256.6 520.9" stroke="#e8db72" stroke-width="5.5"/>
<path d="M260.7 499.7Q267.4 492.7 276.7 531.4" stroke="#d5ba43" stroke-width="4.6"/>
<path d="M196.2 498Q201.1 489.5 211.2 536.3" stroke="#dec344" stroke-width="5.0"/>
<path d="M229.8 515Q231.1 510.4 236.2 535.9" stroke="#d7b742" stroke-width="6.6"/>
<path d="M207.8 513.2Q214.2 508.1 221.5 536.6" stroke="#caac35" stroke-width="4.4"/>
<path d="M211.7 518.7Q215.8 513.3 222.6 543.1" stroke="#f0e179" stroke-width="6.7"/>
<path d="M153.4 505.6Q164.7 495.9 178.2 549.6" stroke="#e0c443" stroke-width="5.5"/>
<path d="M155 508.7Q167.1 499.5 180.3 550" stroke="#e6d86f" stroke-width="5.6"/>
</g>
<path d="M154.1 309.3Q154.2 302.8 152.5 296.7Q155.2 302.7 155 309.2Z" fill="#92c038"/>
<path d="M260.4 310.1Q260.5 301 261.9 292.1Q261.2 301.1 261.1 310.1Z" fill="#86b52e"/>
<path d="M158.9 311.1Q160.9 303.9 162.4 296.6Q161.8 304.1 159.8 311.3Z" fill="#a9cc43"/>
<path d="M259.7 311.4Q259.3 305.8 260.3 300.3Q260.5 305.8 260.9 311.4Z" fill="#b9cf4a"/>
<path d="M291.7 312.1Q290.6 306.3 291.9 300.5Q291.3 306.3 292.4 312.1Z" fill="#b0c441"/>
<path d="M193.8 312.8Q194.5 304.5 196.7 296.5Q195.3 304.7 194.6 312.9Z" fill="#8db931"/>
<path d="M231.3 313.1Q229.8 305.4 230.2 297.6Q230.9 305.3 232.4 313Z" fill="#a3c83d"/>
<path d="M189.8 313.5Q189.8 308 191.5 302.6Q190.5 308 190.6 313.6Z" fill="#75aa26"/>
<path d="M288.3 314.3Q287.8 307.1 288.4 299.9Q288.4 307.1 288.9 314.3Z" fill="#b7c842"/>
<path d="M188.3 314.6Q187.3 309.7 188.2 304.8Q188.5 309.7 189.4 314.5Z" fill="#b4c741"/>
<path d="M246.2 314.8Q246.2 310 245.5 305.4Q247 309.9 246.9 314.7Z" fill="#cccc4c"/>
<path d="M271.5 314.9Q272.3 308 271.6 301Q273 308 272.1 314.9Z" fill="#bad24c"/>
<path d="M210.6 316.3Q210 308.1 212.4 300.1Q211 308.2 211.5 316.4Z" fill="#92c137"/>
<path d="M269.8 317.1Q268.6 309.4 267.2 301.8Q269.5 309.2 270.7 316.9Z" fill="#77aa29"/>
<path d="M213.5 318.2Q210.6 309.6 210.1 300.5Q211.2 309.5 214.1 318.1Z" fill="#79ac27"/>
<path d="M272.3 319Q271.5 314 270.1 309.1Q272.2 313.8 273 318.9Z" fill="#bed14c"/>
<path d="M273.8 319.4Q275.7 312.9 275.6 306.3Q276.7 313 274.9 319.5Z" fill="#7ba928"/>
<path d="M161.1 320.2Q159 312.3 159.4 304.1Q159.7 312.2 161.7 320.1Z" fill="#b6bb3e"/>
<path d="M254.3 320.7Q255.5 314.4 256.8 308.1Q256.8 314.5 255.6 320.9Z" fill="#85b62d"/>
<path d="M230.4 320.9Q229.8 315.3 231.3 309.7Q230.9 315.3 231.5 321Z" fill="#92c23a"/>
<path d="M266.4 321.7Q266.7 314.1 268.7 306.7Q267.9 314.2 267.6 321.8Z" fill="#80ac2f"/>
<path d="M232.1 322.3Q231.5 316.6 231.3 310.8Q232.2 316.5 232.8 322.3Z" fill="#7fb429"/>
<path d="M241.2 323Q239.5 314.1 240.2 305Q240.4 314 242 323Z" fill="#76aa24"/>
<path d="M151.6 324Q149.5 317.1 148.5 309.9Q150.6 316.8 152.6 323.7Z" fill="#a1c63b"/>
<path d="M242.1 324Q242.4 313.6 242.6 303.1Q243.5 313.6 243.3 324Z" fill="#b2c944"/>
<path d="M258.6 325.2Q256.6 315.6 257 305.8Q258 315.5 260 325Z" fill="#83b127"/>
<path d="M154.6 326.5Q153.7 316 152.5 305.6Q154.5 315.9 155.4 326.4Z" fill="#c5c945"/>
<path d="M224.8 327.3Q223.7 317.4 225.3 307.5Q224.5 317.4 225.6 327.3Z" fill="#b2c743"/>
<path d="M205.9 327.9Q206.3 321.4 206.7 314.9Q207.5 321.4 207.1 327.9Z" fill="#9ac338"/>
<path d="M300.7 329.4Q296.7 319.6 294.3 309.3Q298.1 319.1 302 328.9Z" fill="#7db12e"/>
<path d="M176.7 329.7Q177.2 319.4 178.2 309.1Q178.1 319.4 177.7 329.7Z" fill="#97bf32"/>
<path d="M299 330.3Q302.9 320.2 305.2 309.6Q303.9 320.5 299.9 330.6Z" fill="#9fcb3a"/>
<path d="M191 331.7Q189.1 322.7 190.8 313.5Q190.5 322.6 192.3 331.6Z" fill="#9bc436"/>
<path d="M300.8 332.9Q298.2 327.1 298.5 320.5Q299.6 326.7 302.2 332.6Z" fill="#92c03a"/>
<path d="M270.6 333.1Q268.6 325.9 269.6 318.4Q269.7 325.8 271.7 333Z" fill="#7baa2a"/>
<path d="M254.9 333.4Q254.6 326.1 256.4 318.8Q255.7 326.1 256 333.5Z" fill="#86b831"/>
<path d="M275.6 333.9Q276.4 322.6 275.8 311.3Q277.3 322.6 276.5 333.9Z" fill="#bad14d"/>
<path d="M196.6 334.3Q197.6 328.4 198.8 322.5Q199.1 328.5 198.2 334.4Z" fill="#81b02f"/>
<path d="M235 335Q233.7 328.7 234.5 322.3Q234.9 328.6 236.2 334.9Z" fill="#bcc441"/>
<path d="M245.8 336.1Q245.9 328.7 245.3 321.3Q247.5 328.6 247.4 336Z" fill="#bdbd3b"/>
<path d="M210.8 336.8Q212.9 326.1 212.5 315.2Q213.8 326.1 211.7 336.9Z" fill="#b6ca43"/>
<path d="M221.7 338.4Q222 331.3 224.1 324.4Q223.4 331.5 223.1 338.6Z" fill="#83ae24"/>
<path d="M170.2 340.1Q173.1 328.3 173.9 316.3Q174.6 328.5 171.7 340.3Z" fill="#c0c344"/>
<path d="M200.8 341.6Q201.8 331.9 203.8 322.4Q202.6 332 201.7 341.7Z" fill="#b5bd3a"/>
<path d="M208.8 342Q211.5 331.2 214.5 320.6Q213.2 331.6 210.5 342.3Z" fill="#80b533"/>
<path d="M244.9 342.9Q243.2 335.2 243.9 327.2Q244.2 335.1 246 342.8Z" fill="#82b431"/>
<path d="M286.6 343.4Q286.6 331.8 287.1 320.1Q288.1 331.8 288.1 343.4Z" fill="#aec83f"/>
<path d="M294.8 344.2Q293.9 332.8 295.1 321.4Q295.2 332.8 296 344.2Z" fill="#c0c643"/>
<path d="M242.1 344.8Q240.2 331.2 240.9 317.4Q241.3 331.1 243.2 344.8Z" fill="#a5c63a"/>
<path d="M194.4 345.8Q199.9 334.8 201.9 322.8Q201.2 335.2 195.7 346.2Z" fill="#6da521"/>
<path d="M246.3 346.8Q244.9 340.5 245.5 333.9Q246.1 340.4 247.5 346.7Z" fill="#becf49"/>
<path d="M277 347.6Q275.2 340.7 276.2 333.4Q276.7 340.5 278.5 347.4Z" fill="#75a223"/>
<path d="M224.8 349.8Q226 338.4 226.5 326.9Q227.2 338.4 226.1 349.9Z" fill="#c5cd46"/>
<path d="M212.5 350.8Q212.4 340.4 211.6 330.1Q214.3 340.2 214.4 350.7Z" fill="#bdd14b"/>
<path d="M185.3 351.8Q188.5 341.7 188.9 331.3Q189.6 341.9 186.5 351.9Z" fill="#7eb333"/>
<path d="M237.9 353.5Q237.8 345.2 236.2 337.1Q239.4 344.9 239.6 353.2Z" fill="#c8cb4b"/>
<path d="M202.5 354.2Q201.2 347.1 199 340.3Q202.4 346.8 203.7 353.9Z" fill="#b3ca44"/>
<path d="M273.7 354.9Q273.9 344.1 278.4 334.2Q275.1 344.3 274.9 355.1Z" fill="#b1c441"/>
<path d="M237.6 356.4Q237.7 346.5 239.1 336.7Q239.8 346.6 239.7 356.5Z" fill="#afcb41"/>
<path d="M278.2 357Q272.6 343.6 270.9 329Q273.7 343.3 279.3 356.7Z" fill="#bdc03d"/>
<path d="M235.6 359Q235.2 351.9 235.2 344.7Q236.5 351.8 236.9 359Z" fill="#bdc03b"/>
<path d="M173.6 360.5Q174 351.9 177.1 343.7Q175.2 352.1 174.8 360.7Z" fill="#bdd04e"/>
<path d="M155.9 362.2Q154.9 348.3 154.5 334.4Q156.3 348.2 157.2 362.1Z" fill="#c0c445"/>
<path d="M189.7 362.7Q193.5 351.6 193.8 340.1Q195.3 351.9 191.6 363Z" fill="#c2c747"/>
<path d="M178.1 364.7Q180.5 355.5 180.8 346.1Q182.3 355.7 179.8 364.9Z" fill="#b7ca44"/>
<path d="M287.1 366.3Q282.6 352.7 278.3 339.1Q284.2 352.2 288.7 365.8Z" fill="#b7c943"/>
<path d="M217.3 368.1Q216.1 356.2 213.6 344.5Q218.1 355.8 219.3 367.7Z" fill="#82b333"/>
<path d="M164.8 368.4Q167.2 356.7 166.9 344.9Q168.8 356.8 166.4 368.5Z" fill="#98c332"/>
<path d="M247.4 369.4Q245.8 356.4 248.8 343.6Q247 356.5 248.6 369.5Z" fill="#8fbe33"/>
<path d="M167.7 372Q164.2 358 166.3 343.6Q166.1 357.9 169.6 371.8Z" fill="#b8bd3a"/>
<path d="M207.3 373.5Q205.5 356.5 208.7 339.6Q206.8 356.5 208.6 373.5Z" fill="#72a222"/>
<path d="M169.9 374.5Q169.4 356.8 163.9 340.1Q171 356.5 171.6 374.2Z" fill="#a9ce41"/>
<path d="M240.9 374.9Q243.6 362.3 242.5 349.5Q244.8 362.3 242.1 374.9Z" fill="#8dbc36"/>
<path d="M170.1 377Q172.4 358.1 171.6 339.2Q174.8 358.1 172.5 377Z" fill="#b3cb42"/>
<path d="M158.4 378.1Q158.5 369 160.5 360.1Q160.8 369.1 160.7 378.2Z" fill="#babe3a"/>
<path d="M246.4 379.5Q243.1 369.6 243.4 359.1Q245.1 369.2 248.5 379Z" fill="#c3d852"/>
<path d="M182.4 380.4Q176.5 365.6 176.6 349.5Q178.2 365.3 184.1 380.1Z" fill="#6da11f"/>
<path d="M163.7 381.7Q168.5 366.4 168.8 350.4Q169.7 366.6 164.9 381.8Z" fill="#a8ca3e"/>
<path d="M191 385.6Q189.7 366.3 193.6 347.2Q192 366.4 193.3 385.7Z" fill="#9dbf35"/>
<path d="M163.4 387.2Q161.3 367.3 159.8 347.3Q163.7 367 165.8 386.9Z" fill="#81b431"/>
<path d="M260.7 388.2Q261.6 373.1 262.8 358Q263 373.2 262.1 388.3Z" fill="#a1c63a"/>
<path d="M226.6 390.6Q228.3 378.3 226.2 366.2Q229.6 378.2 228 390.5Z" fill="#88b72f"/>
<path d="M240.7 392.2Q238 371.7 232.8 351.8Q239.8 371.3 242.5 391.8Z" fill="#97bd36"/>
<path d="M230.7 393.4Q231.8 380.1 229.7 367Q234 379.9 232.9 393.2Z" fill="#c6cd4c"/>
<path d="M295.7 394.7Q299.2 372.6 299.5 350.4Q301.4 372.8 297.9 394.8Z" fill="#86b82b"/>
<path d="M227.8 396Q231.9 379.9 232.8 363.4Q233.3 380.1 229.2 396.2Z" fill="#9ec035"/>
<path d="M153 399.5Q155.6 383.2 154.5 366.8Q157.9 383.2 155.3 399.5Z" fill="#b2cc45"/>
<path d="M198.4 400.7Q199.9 384.4 198.2 368.2Q202.8 384.2 201.2 400.6Z" fill="#73a61e"/>
<path d="M189 401.4Q190.4 379.1 197.9 357.9Q193.1 379.6 191.8 401.8Z" fill="#9bbf34"/>
<path d="M198.8 403.6Q201.2 384.2 197.5 365.1Q203.2 384.1 200.7 403.5Z" fill="#a9cc40"/>
<path d="M182.6 404.3Q183.2 386.4 185.2 368.6Q185.9 386.5 185.3 404.4Z" fill="#c6cc4e"/>
<path d="M180.3 405.2Q180.5 387.9 183.9 370.8Q183.3 388.1 183.1 405.4Z" fill="#91c138"/>
<path d="M260.2 407.5Q264.1 393.6 267.7 379.6Q266.3 394.1 262.4 408Z" fill="#85b429"/>
<path d="M221.2 409.7Q223.4 395.7 222.8 381.6Q226.4 395.7 224.2 409.7Z" fill="#7dad2c"/>
<path d="M230.3 414.3Q235.7 394.4 238.3 374.1Q237.5 394.8 232.1 414.7Z" fill="#8ec037"/>
<path d="M202.9 416.4Q209.9 393.5 209.7 369.6Q212.5 393.8 205.4 416.7Z" fill="#72a523"/>
<path d="M227.4 419.5Q229.7 407.3 232.9 395.3Q231.4 407.6 229.1 419.8Z" fill="#bbd14c"/>
<path d="M262.4 422Q263.6 397.7 265.3 373.5Q266.3 397.8 265.1 422.1Z" fill="#9dc436"/>
<path d="M228.4 424Q229.8 411.1 236.9 399.8Q233.1 412 231.6 424.9Z" fill="#8ac035"/>
<path d="M188.6 424.7Q194.4 405.4 195.2 385.5Q196.8 405.7 191.1 425Z" fill="#75a928"/>
<path d="M188.9 428.3Q184.4 402.4 188.6 376.1Q187.5 402.2 191.9 428.2Z" fill="#79ab28"/>
<path d="M243.7 430.2Q250.3 407.9 250.3 385Q253.6 408.3 247.1 430.5Z" fill="#84b62c"/>
<path d="M215.9 431.7Q215.6 405.2 212.2 379Q218.7 404.9 218.9 431.4Z" fill="#85b429"/>
<path d="M155.6 434.2Q154.5 418.3 151 402.7Q156.9 417.8 158 433.8Z" fill="#7db133"/>
<path d="M232.8 435.7Q225.5 419.6 224.4 401.7Q227.9 418.9 235.2 435Z" fill="#95c239"/>
<path d="M275.6 436.1Q271.2 410.6 278.5 385.4Q275.2 410.7 279.5 436.2Z" fill="#a4cb3d"/>
<path d="M182.9 437.6Q186.1 408.4 180.4 379.9Q189.7 408.1 186.6 437.3Z" fill="#7eaf32"/>
<path d="M179.1 443.8Q186.7 427.3 192.7 410.2Q190.4 428.6 182.8 445.1Z" fill="#91c036"/>
<path d="M280.6 452.2Q273.9 424 264.1 396.8Q277 422.9 283.8 451.1Z" fill="#8ab82c"/>
<path d="M168.5 456.5Q172.7 434.1 176 411.7Q175.7 434.5 171.6 456.9Z" fill="#a2c73c"/>
<path d="M235.7 459.8Q233.2 426.4 242.9 394.1Q235.9 426.7 238.4 460.1Z" fill="#b7bf3c"/>
<path d="M191.2 462.5Q196.6 442.9 196.1 422.8Q200.1 443.2 194.7 462.8Z" fill="#84b52c"/>
<path d="M165.4 463.5Q165.9 446.9 168.6 430.3Q170.2 447 169.7 463.6Z" fill="#80b430"/>
<path d="M210.3 465.7Q216.3 436.9 219.4 407.8Q219.7 437.4 213.7 466.1Z" fill="#7fb42d"/>
<path d="M242.4 469.5Q241.6 449.7 238.2 430.3Q245 449.2 245.8 469Z" fill="#87b830"/>
<path d="M150.7 472.2Q151.6 437.1 146.3 402.5Q155.8 436.7 154.8 471.8Z" fill="#c7c949"/>
<path d="M298.7 472.5Q297.5 449.5 298.8 426.5Q300.2 449.5 301.5 472.4Z" fill="#c8ca49"/>
<path d="M212.3 474.8Q215.3 440.5 220.9 406.4Q218.6 440.8 215.6 475.1Z" fill="#7eb129"/>
<path d="M209 480.6Q216 446.2 213.5 411.6Q220.3 446.4 213.3 480.7Z" fill="#c9c848"/>
<path d="M211 485.3Q205.7 447.1 215 409.3Q209.9 447.2 215.2 485.4Z" fill="#75a622"/>
<path d="M257.2 490Q252.4 469.3 256.1 447.8Q257.2 468.9 262.1 489.6Z" fill="#c2c847"/>
<path d="M160.9 490.6Q157 465.9 160.3 440.9Q159.5 465.8 163.5 490.5Z" fill="#bdbc3b"/>
<path d="M186.7 494.9Q187.6 463.4 180.1 433Q190.3 463.1 189.4 494.6Z" fill="#86b92d"/>
<path d="M172.5 499.9Q174.1 477.5 180 455.5Q179.5 478 177.9 500.5Z" fill="#b1c744"/>
<path d="M213 501.5Q217.9 472.6 215.1 443.7Q221.9 472.6 217 501.5Z" fill="#a4cc3b"/>
<path d="M150.4 504.7Q150 465.7 166.6 429.8Q155 466.6 155.4 505.6Z" fill="#719f21"/>
<path d="M217.2 509.2Q220.6 489.6 223.9 470Q223.4 490 220 509.5Z" fill="#a7d243"/>
<path d="M188.7 513.5Q193.1 470.8 210 431Q196.2 471.5 191.9 514.2Z" fill="#8ebf36"/>
<path d="M269.5 516.1Q281.8 472.3 279.1 427.2Q286.1 472.6 273.8 516.4Z" fill="#bcbf3c"/>
<path d="M222.2 519.2Q234 485.7 245.3 452Q237.8 486.9 225.9 520.4Z" fill="#85b428"/>
<path d="M243.6 526.3Q240.7 499.3 236.6 472.4Q246.8 498.1 249.7 525.2Z" fill="#bfd353"/>
<path d="M207.6 531.6Q208.7 504.8 217.1 479Q213.4 505.4 212.3 532.3Z" fill="#b8bc3f"/>
<path d="M204.8 538Q204.5 515.6 202.6 493.3Q210 515 210.3 537.4Z" fill="#c1c13d"/>
<path d="M282.6 543.3Q282.2 495.2 266.7 449.9Q285.7 494.5 286.1 542.7Z" fill="#77a627"/>
</g></g>
<rect x="15.7" y="314.2" width="280.90000000000003" height="210.00000000000006" filter="url(#gd)" opacity="0.28"/>
<rect x="15.7" y="314.2" width="280.90000000000003" height="210.00000000000006" filter="url(#gl2)" opacity="0.22"/>
<rect x="156.20000000000002" y="321.9" width="1.5" height="198.10000000000002" fill="#ffffff"/>
<text x="25" y="342.7" font-size="12" font-weight="bold" style="fill:#fff;stroke:none">WYG23</text>
<text x="250.6" y="342.2" font-size="12" font-weight="bold" style="fill:#fff;stroke:none">WKN3</text>
<text x="300.2" y="306.2" font-size="13.5" font-weight="bold">D</text>
<line x1="330.8" y1="308.60" x2="330.8" y2="497.4" stroke="#444" stroke-width="1.2"/>
<line x1="330.8" y1="497.4" x2="543.3" y2="497.4" stroke="#444" stroke-width="1.2"/>
<line x1="327.6" y1="497.40" x2="330.8" y2="497.40" stroke="#444" stroke-width="1.2"/>
<text x="327.2" y="501.00" font-size="10.5" text-anchor="end">0</text>
<line x1="327.6" y1="450.20" x2="330.8" y2="450.20" stroke="#444" stroke-width="1.2"/>
<text x="327.2" y="453.80" font-size="10.5" text-anchor="end">2</text>
<line x1="327.6" y1="403.00" x2="330.8" y2="403.00" stroke="#444" stroke-width="1.2"/>
<text x="327.2" y="406.60" font-size="10.5" text-anchor="end">4</text>
<line x1="327.6" y1="355.80" x2="330.8" y2="355.80" stroke="#444" stroke-width="1.2"/>
<text x="327.2" y="359.40" font-size="10.5" text-anchor="end">6</text>
<line x1="327.6" y1="308.60" x2="330.8" y2="308.60" stroke="#444" stroke-width="1.2"/>
<text x="327.2" y="312.20" font-size="10.5" text-anchor="end">8</text>
<rect x="334.20" y="398.28" width="5.6" height="99.12" fill="#e8472b" stroke="#3a1a10" stroke-width="0.7"/>
<rect x="343.00" y="350.37" width="5.9" height="147.03" fill="#146282" stroke="#0c2a34" stroke-width="0.7"/>
<line x1="341.55" y1="497.4" x2="341.55" y2="499.59999999999997" stroke="#444" stroke-width="1"/>
<text x="341.55" y="510.8" font-size="10.1" text-anchor="middle" textLength="22.8" lengthAdjust="spacingAndGlyphs">DKW</text>
<rect x="358.25" y="408.19" width="5.6" height="89.21" fill="#e8472b" stroke="#3a1a10" stroke-width="0.7"/>
<rect x="367.07" y="361.94" width="5.9" height="135.46" fill="#146282" stroke="#0c2a34" stroke-width="0.7"/>
<line x1="365.61" y1="497.4" x2="365.61" y2="499.59999999999997" stroke="#444" stroke-width="1"/>
<text x="365.61" y="510.8" font-size="10.1" text-anchor="middle" textLength="15.3" lengthAdjust="spacingAndGlyphs">WH</text>
<rect x="382.30" y="462.47" width="5.6" height="34.93" fill="#e8472b" stroke="#3a1a10" stroke-width="0.7"/>
<rect x="391.14" y="342.35" width="5.9" height="155.05" fill="#146282" stroke="#0c2a34" stroke-width="0.7"/>
<line x1="389.67" y1="497.4" x2="389.67" y2="499.59999999999997" stroke="#444" stroke-width="1"/>
<text x="389.67" y="510.8" font-size="10.1" text-anchor="middle" textLength="13.4" lengthAdjust="spacingAndGlyphs">BH</text>
<rect x="406.35" y="426.84" width="5.6" height="70.56" fill="#e8472b" stroke="#3a1a10" stroke-width="0.7"/>
<rect x="415.21" y="372.56" width="5.9" height="124.84" fill="#146282" stroke="#0c2a34" stroke-width="0.7"/>
<line x1="413.73" y1="497.4" x2="413.73" y2="499.59999999999997" stroke="#444" stroke-width="1"/>
<text x="413.73" y="510.8" font-size="10.1" text-anchor="middle" textLength="22.8" lengthAdjust="spacingAndGlyphs">DKW</text>
<rect x="430.40" y="415.74" width="5.6" height="81.66" fill="#e8472b" stroke="#3a1a10" stroke-width="0.7"/>
<rect x="439.28" y="339.75" width="5.9" height="157.65" fill="#146282" stroke="#0c2a34" stroke-width="0.7"/>
<line x1="437.79" y1="497.4" x2="437.79" y2="499.59999999999997" stroke="#444" stroke-width="1"/>
<text x="437.79" y="510.8" font-size="10.1" text-anchor="middle" textLength="15.3" lengthAdjust="spacingAndGlyphs">WH</text>
<rect x="454.45" y="467.19" width="5.6" height="30.21" fill="#e8472b" stroke="#3a1a10" stroke-width="0.7"/>
<rect x="463.35" y="349.19" width="5.9" height="148.21" fill="#146282" stroke="#0c2a34" stroke-width="0.7"/>
<line x1="461.85" y1="497.4" x2="461.85" y2="499.59999999999997" stroke="#444" stroke-width="1"/>
<text x="461.85" y="510.8" font-size="10.1" text-anchor="middle" textLength="13.4" lengthAdjust="spacingAndGlyphs">BH</text>
<rect x="478.50" y="413.15" width="5.6" height="84.25" fill="#e8472b" stroke="#3a1a10" stroke-width="0.7"/>
<rect x="487.42" y="363.35" width="5.9" height="134.05" fill="#146282" stroke="#0c2a34" stroke-width="0.7"/>
<line x1="485.91" y1="497.4" x2="485.91" y2="499.59999999999997" stroke="#444" stroke-width="1"/>
<text x="485.91" y="510.8" font-size="10.1" text-anchor="middle" textLength="22.8" lengthAdjust="spacingAndGlyphs">DKW</text>
<rect x="502.55" y="488.43" width="5.6" height="8.97" fill="#e8472b" stroke="#3a1a10" stroke-width="0.7"/>
<rect x="511.49" y="384.36" width="5.9" height="113.04" fill="#146282" stroke="#0c2a34" stroke-width="0.7"/>
<line x1="509.97" y1="497.4" x2="509.97" y2="499.59999999999997" stroke="#444" stroke-width="1"/>
<text x="509.97" y="510.8" font-size="10.1" text-anchor="middle" textLength="15.3" lengthAdjust="spacingAndGlyphs">WH</text>
<rect x="526.60" y="438.87" width="5.6" height="58.53" fill="#e8472b" stroke="#3a1a10" stroke-width="0.7"/>
<rect x="535.56" y="337.39" width="5.9" height="160.01" fill="#146282" stroke="#0c2a34" stroke-width="0.7"/>
<line x1="534.03" y1="497.4" x2="534.03" y2="499.59999999999997" stroke="#444" stroke-width="1"/>
<text x="534.03" y="510.8" font-size="10.1" text-anchor="middle" textLength="13.4" lengthAdjust="spacingAndGlyphs">BH</text>
<line x1="334.7" y1="514.4" x2="396.3" y2="514.4" stroke="#444" stroke-width="1.2"/>
<text x="367.6" y="525.9" font-size="10.8" text-anchor="middle">2019</text>
<line x1="406.9" y1="514.4" x2="468.5" y2="514.4" stroke="#444" stroke-width="1.2"/>
<text x="439.8" y="525.9" font-size="10.8" text-anchor="middle">2020</text>
<line x1="479.1" y1="514.4" x2="540.7" y2="514.4" stroke="#444" stroke-width="1.2"/>
<text x="512.0" y="525.9" font-size="10.8" text-anchor="middle">2021</text>
<rect x="382.7" y="312.8" width="8.8" height="6.9" fill="#e8472b" stroke="#3a1a10" stroke-width="0.7"/>
<text x="396.9" y="319.3" font-size="9.2" textLength="24.8" lengthAdjust="spacingAndGlyphs">WKN3</text>
<rect x="454.1" y="312.8" width="9" height="6.9" fill="#146282" stroke="#0c2a34" stroke-width="0.7"/>
<text x="468.5" y="319.3" font-size="9.2" textLength="29.6" lengthAdjust="spacingAndGlyphs">WYG23</text>
<text x="0" y="0" font-size="11.05" text-anchor="middle" transform="translate(312.7 402.1) rotate(-90)">Comprehensive rice blast index</text>
</svg>
</body></html>
